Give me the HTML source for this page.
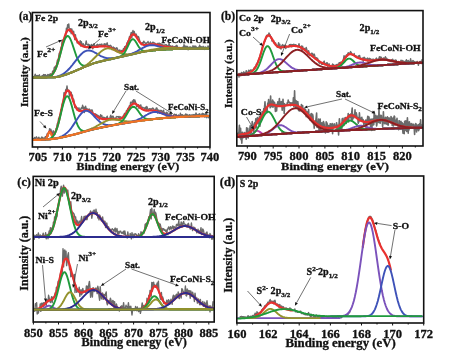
<!DOCTYPE html>
<html><head><meta charset="utf-8"><style>
html,body{margin:0;padding:0;background:#fff;width:451px;height:359px;overflow:hidden}
svg{display:block;filter:blur(0.4px)}
text{font-family:"Liberation Serif",serif;font-weight:bold;fill:#111;stroke:#111;stroke-width:0.3px}
</style></head><body>
<svg width="451" height="359" viewBox="0 0 451 359">
<rect width="451" height="359" fill="#fff"/>
<path d="M33.4,77.9 34,76.5 34.6,76.2 35.2,74.2 35.8,75.8 36.4,75.7 37,76 37.6,75.5 38.2,76 38.8,75.6 39.4,74.8 40,77 40.6,77 41.2,77.8 41.8,76.1 42.4,75.6 43,75.5 43.6,74.5 44.2,77 44.8,74.8 45.4,74.7 46,75.6 46.6,77.2 47.2,75.9 47.8,74.5 48.4,74.6 49,75.8 49.6,74.7 50.2,73.8 50.8,74 51.4,74.6 52,75.3 52.6,71.2 53.2,71.1 53.8,70 54.4,67.1 55,67.6 55.6,66.1 56.2,67.3 56.8,64 57.4,60.1 58,61.3 58.6,57.7 59.2,53.3 59.8,52.8 60.4,50.4 61,47.4 61.6,46.6 62.2,39.9 62.8,41.3 63.4,41.6 64,39.2 64.6,37.9 65.2,36.2 65.8,35.5 66.4,28.3 67,31.8 67.6,24.8 68.2,27.2 68.8,24 69.4,30.8 70,31.7 70.6,28.7 71.2,33.7 71.8,29 72.4,31.7 73,32.8 73.6,31.2 74.2,35.5 74.8,39.6 75.4,34.7 76,39.5 76.6,38.5 77.2,43 77.8,41.4 78.4,42.6 79,43.2 79.6,43.1 80.2,40.8 80.8,46 81.4,41.8 82,44.8 82.6,45.7 83.2,43.6 83.8,45.4 84.4,47.2 85,45.4 85.6,44.1 86.2,41 86.8,44.2 87.4,44.8 88,45 88.6,44.3 89.2,46.4 89.8,44.9 90.4,45.6 91,46.8 91.6,44.5 92.2,45.3 92.8,48.9 93.4,47 94,43.7 94.6,45.5 95.2,46.4 95.8,47.3 96.4,45.7 97,44.6 97.6,44.3 98.2,46.2 98.8,45.7 99.4,44.4 100,44.8 100.6,44.4 101.2,46 101.8,43.9 102.4,45.6 103,46.1 103.6,45.5 104.2,43.7 104.8,46.8 105.4,44 106,45.6 106.6,44.1 107.2,42.8 107.8,45.7 108.4,46 109,45.7 109.6,46.4 110.2,45.3 110.8,45.5 111.4,46.5 112,49.6 112.6,48.4 113.2,47 113.8,48.8 114.4,47.8 115,48.1 115.6,50.1 116.2,48.7 116.8,47.7 117.4,48.9 118,50.3 118.6,50.6 119.2,52.1 119.8,49.9 120.4,51.7 121,51.3 121.6,50.5 122.2,51.4 122.8,50.7 123.4,48.7 124,50.3 124.6,46.8 125.2,47.4 125.8,46.2 126.4,45.6 127,42.8 127.6,42.3 128.2,40.6 128.8,40.8 129.4,36.8 130,36.8 130.6,35.1 131.2,32.4 131.8,37.9 132.4,33 133,30.5 133.6,35.1 134.2,31.4 134.8,34.2 135.4,35.5 136,34 136.6,35.3 137.2,36.1 137.8,37.7 138.4,36.6 139,38.1 139.6,40.4 140.2,42.6 140.8,42.7 141.4,44.6 142,43.7 142.6,42.5 143.2,43.2 143.8,41.1 144.4,42.5 145,42.4 145.6,43.9 146.2,44.3 146.8,42.8 147.4,42.7 148,41.5 148.6,43.1 149.2,43.4 149.8,43.6 150.4,42 151,45.3 151.6,44.3 152.2,42.8 152.8,42.2 153.4,42.5 154,43.1 154.6,43 155.2,43.6 155.8,44 156.4,44.8 157,44.7 157.6,43.4 158.2,44.1 158.8,43.3 159.4,43.2 160,46.2 160.6,43.7 161.2,46.6 161.8,44.1 162.4,44.9 163,46 163.6,45 164.2,45.5 164.8,44.9 165.4,44.8 166,45.3 166.6,44.8 167.2,47.4 167.8,45.6 168.4,47.7 169,43.1 169.6,46 170.2,46.6 170.8,45.8 171.4,47.3 172,46.9 172.6,46 173.2,46.8 173.8,49.3 174.4,46.7 175,46.8 175.6,46.1 176.2,46.7 176.8,45.3 177.4,46.5 178,49.2 178.6,47.8 179.2,47.4 179.8,47.9 180.4,48.7 181,47.5 181.6,49 182.2,48 182.8,47.1 183.4,48.7 184,44.6 184.6,46.4 185.2,47.3 185.8,46.1 186.4,46.9 187,46.4 187.6,46.4 188.2,49.8 188.8,47.8 189.4,47.1 190,48.5 190.6,46.9 191.2,48 191.8,47.5 192.4,48.8 193,45.7 193.6,47.9 194.2,47.3 194.8,46 195.4,48.2 196,46.3 196.6,48.8 197.2,47.7 197.8,47.8 198.4,47.2 199,48.1 199.6,45.3 200.2,47.2 200.8,46.5 201.4,47.4 202,47.1 202.6,47.7 203.2,46.3 203.8,49 204.4,49.4 205,46.9 205.6,47.1 206.2,47.4 206.8,48.4 207.4,49 208,45.9 208.6,46.5" fill="none" stroke="#6a6a6a" stroke-width="1.4" stroke-linejoin="round" stroke-linecap="round"/>
<path d="M33.4,77.5 34.4,77.5 35.4,77.5 36.4,77.5 37.4,77.5 38.4,77.5 39.4,77.5 40.4,77.5 41.4,77.5 42.4,77.4 43.4,77.4 44.4,77.4 45.4,77.3 46.4,77.2 47.4,77 48.4,76.8 49.4,76.4 50.4,75.9 51.4,75.2 52.4,74.2 53.4,73 54.4,71.3 55.4,69.3 56.4,66.7 57.4,63.8 58.4,60.4 59.4,56.7 60.4,52.8 61.4,48.8 62.4,44.8 63.4,40.9 64.4,37.5 65.4,34.5 66.4,32.2 67.4,30.7 68.4,29.8 69.4,29.7 70.4,30.3 71.4,31.4 72.4,32.8 73.4,34.5 74.4,36.3 75.4,38.1 76.4,39.9 77.4,41.4 78.4,42.8 79.4,43.9 80.4,44.8 81.4,45.5 82.4,46 83.4,46.4 84.4,46.7 85.4,46.9 86.4,47.1 87.4,47.1 88.4,47.2 89.4,47.2 90.4,47.2 91.4,47.2 92.4,47.1 93.4,47.1 94.4,47 95.4,46.9 96.4,46.8 97.4,46.8 98.4,46.6 99.4,46.5 100.4,46.4 101.4,46.3 102.4,46.3 103.4,46.2 104.4,46.3 105.4,46.3 106.4,46.5 107.4,46.7 108.4,47 109.4,47.3 110.4,47.7 111.4,48.2 112.4,48.7 113.4,49.2 114.4,49.8 115.4,50.3 116.4,50.9 117.4,51.4 118.4,51.8 119.4,52.1 120.4,52.2 121.4,52.1 122.4,51.8 123.4,51.1 124.4,50 125.4,48.4 126.4,46.5 127.4,44.2 128.4,41.8 129.4,39.3 130.4,37.2 131.4,35.5 132.4,34.5 133.4,34.2 134.4,34.6 135.4,35.6 136.4,37 137.4,38.6 138.4,40.2 139.4,41.7 140.4,42.9 141.4,43.9 142.4,44.5 143.4,44.8 144.4,45 145.4,45 146.4,44.9 147.4,44.8 148.4,44.7 149.4,44.5 150.4,44.4 151.4,44.3 152.4,44.3 153.4,44.3 154.4,44.4 155.4,44.5 156.4,44.6 157.4,44.8 158.4,45.1 159.4,45.3 160.4,45.6 161.4,45.8 162.4,46.1 163.4,46.3 164.4,46.5 165.4,46.7 166.4,46.9 167.4,47.1 168.4,47.2 169.4,47.4 170.4,47.5 171.4,47.6 172.4,47.7 173.4,47.8 174.4,47.8 175.4,47.9 176.4,48 177.4,48.1 178.4,48.1 179.4,48.2 180.4,48.2 181.4,48.3 182.4,48.3 183.4,48.4 184.4,48.4 185.4,48.4 186.4,48.5 187.4,48.5 188.4,48.5 189.4,48.5 190.4,48.5 191.4,48.6 192.4,48.6 193.4,48.6 194.4,48.6 195.4,48.6 196.4,48.6 197.4,48.6 198.4,48.5 199.4,48.5 200.4,48.5 201.4,48.5 202.4,48.5 203.4,48.5 204.4,48.5 205.4,48.5 206.4,48.5 207.4,48.5 208.4,48.5" fill="none" stroke="#e8312f" stroke-width="2.2" stroke-linejoin="round" stroke-linecap="round"/>
<path d="M33.4,77.5 34.4,77.5 35.4,77.5 36.4,77.5 37.4,77.5 38.4,77.5 39.4,77.5 40.4,77.5 41.4,77.5 42.4,77.4 43.4,77.4 44.4,77.4 45.4,77.3 46.4,77.2 47.4,77 48.4,76.8 49.4,76.4 50.4,75.9 51.4,75.3 52.4,74.3 53.4,73.1 54.4,71.5 55.4,69.5 56.4,67.1 57.4,64.3 58.4,61.1 59.4,57.6 60.4,53.9 61.4,50.2 62.4,46.6 63.4,43.2 64.4,40.4 65.4,38.1 66.4,36.7 67.4,36 68.4,36.2 69.4,37.3 70.4,39.1 71.4,41.5 72.4,44.2 73.4,47.2 74.4,50.3 75.4,53.3 76.4,56.1 77.4,58.5 78.4,60.6 79.4,62.3 80.4,63.6 81.4,64.6 82.4,65.2 83.4,65.6 84.4,65.8 85.4,65.8 86.4,65.7 87.4,65.5 88.4,65.2 89.4,64.8 90.4,64.5 91.4,64.1 92.4,63.8 93.4,63.4 94.4,63.1 95.4,62.8 96.4,62.5 97.4,62.2 98.4,62 99.4,61.7 100.4,61.5 101.4,61.2 102.4,61 103.4,60.8 104.4,60.5 105.4,60.3 106.4,60.1 107.4,59.9 108.4,59.7 109.4,59.4 110.4,59.2 111.4,59 112.4,58.7 113.4,58.5 114.4,58.3 115.4,58.1 116.4,57.8 117.4,57.6 118.4,57.4 119.4,57.2 120.4,56.9 121.4,56.7 122.4,56.5 123.4,56.3 124.4,56 125.4,55.8 126.4,55.6 127.4,55.4 128.4,55.2 129.4,54.9 130.4,54.7 131.4,54.5 132.4,54.2 133.4,54 134.4,53.8 135.4,53.5 136.4,53.3 137.4,53 138.4,52.8 139.4,52.6 140.4,52.4 141.4,52.1 142.4,51.9 143.4,51.8 144.4,51.6 145.4,51.4 146.4,51.3 147.4,51.1 148.4,51 149.4,50.9 150.4,50.7 151.4,50.6 152.4,50.5 153.4,50.4 154.4,50.3 155.4,50.2 156.4,50.1 157.4,50 158.4,49.9 159.4,49.8 160.4,49.8 161.4,49.7 162.4,49.7 163.4,49.6 164.4,49.5 165.4,49.5 166.4,49.4 167.4,49.4 168.4,49.3 169.4,49.3 170.4,49.3 171.4,49.2 172.4,49.2 173.4,49.1 174.4,49.1 175.4,49.1 176.4,49 177.4,49 178.4,49 179.4,48.9 180.4,48.9 181.4,48.9 182.4,48.9 183.4,48.8 184.4,48.8 185.4,48.8 186.4,48.8 187.4,48.8 188.4,48.7 189.4,48.7 190.4,48.7 191.4,48.7 192.4,48.7 193.4,48.7 194.4,48.6 195.4,48.6 196.4,48.6 197.4,48.6 198.4,48.6 199.4,48.6 200.4,48.6 201.4,48.5 202.4,48.5 203.4,48.5 204.4,48.5 205.4,48.5 206.4,48.5 207.4,48.5 208.4,48.5" fill="none" stroke="#1f9a3c" stroke-width="1.9" stroke-linejoin="round" stroke-linecap="round"/>
<path d="M33.4,77.5 34.4,77.5 35.4,77.5 36.4,77.5 37.4,77.5 38.4,77.5 39.4,77.5 40.4,77.5 41.4,77.5 42.4,77.5 43.4,77.5 44.4,77.5 45.4,77.5 46.4,77.4 47.4,77.4 48.4,77.4 49.4,77.4 50.4,77.4 51.4,77.3 52.4,77.3 53.4,77.2 54.4,77.1 55.4,77 56.4,76.7 57.4,76.5 58.4,76.1 59.4,75.8 60.4,75.3 61.4,74.9 62.4,74.4 63.4,73.8 64.4,73.1 65.4,72.3 66.4,71.4 67.4,70.5 68.4,69.5 69.4,68.5 70.4,67.4 71.4,66.2 72.4,65 73.4,63.7 74.4,62.4 75.4,61.1 76.4,59.8 77.4,58.5 78.4,57.3 79.4,56.1 80.4,55 81.4,54 82.4,53.1 83.4,52.3 84.4,51.6 85.4,51.1 86.4,50.8 87.4,50.6 88.4,50.5 89.4,50.5 90.4,50.7 91.4,50.9 92.4,51.3 93.4,51.7 94.4,52.3 95.4,52.8 96.4,53.4 97.4,54.1 98.4,54.7 99.4,55.2 100.4,55.8 101.4,56.3 102.4,56.7 103.4,57.1 104.4,57.5 105.4,57.8 106.4,58 107.4,58.1 108.4,58.2 109.4,58.3 110.4,58.3 111.4,58.2 112.4,58.2 113.4,58.1 114.4,57.9 115.4,57.8 116.4,57.6 117.4,57.5 118.4,57.3 119.4,57.1 120.4,56.9 121.4,56.7 122.4,56.5 123.4,56.2 124.4,56 125.4,55.8 126.4,55.6 127.4,55.4 128.4,55.2 129.4,54.9 130.4,54.7 131.4,54.5 132.4,54.2 133.4,54 134.4,53.8 135.4,53.5 136.4,53.3 137.4,53 138.4,52.8 139.4,52.6 140.4,52.4 141.4,52.1 142.4,51.9 143.4,51.8 144.4,51.6 145.4,51.4 146.4,51.3 147.4,51.1 148.4,51 149.4,50.9 150.4,50.7 151.4,50.6 152.4,50.5 153.4,50.4 154.4,50.3 155.4,50.2 156.4,50.1 157.4,50 158.4,49.9 159.4,49.8 160.4,49.8 161.4,49.7 162.4,49.7 163.4,49.6 164.4,49.5 165.4,49.5 166.4,49.4 167.4,49.4 168.4,49.3 169.4,49.3 170.4,49.3 171.4,49.2 172.4,49.2 173.4,49.1 174.4,49.1 175.4,49.1 176.4,49 177.4,49 178.4,49 179.4,48.9 180.4,48.9 181.4,48.9 182.4,48.9 183.4,48.8 184.4,48.8 185.4,48.8 186.4,48.8 187.4,48.8 188.4,48.7 189.4,48.7 190.4,48.7 191.4,48.7 192.4,48.7 193.4,48.7 194.4,48.6 195.4,48.6 196.4,48.6 197.4,48.6 198.4,48.6 199.4,48.6 200.4,48.6 201.4,48.5 202.4,48.5 203.4,48.5 204.4,48.5 205.4,48.5 206.4,48.5 207.4,48.5 208.4,48.5" fill="none" stroke="#3e52b8" stroke-width="1.9" stroke-linejoin="round" stroke-linecap="round"/>
<path d="M33.4,77.5 34.4,77.5 35.4,77.5 36.4,77.5 37.4,77.5 38.4,77.5 39.4,77.5 40.4,77.5 41.4,77.5 42.4,77.5 43.4,77.5 44.4,77.5 45.4,77.5 46.4,77.5 47.4,77.4 48.4,77.4 49.4,77.4 50.4,77.4 51.4,77.4 52.4,77.4 53.4,77.4 54.4,77.3 55.4,77.2 56.4,77.1 57.4,76.9 58.4,76.7 59.4,76.5 60.4,76.2 61.4,76 62.4,75.7 63.4,75.4 64.4,75.1 65.4,74.8 66.4,74.4 67.4,74 68.4,73.6 69.4,73.2 70.4,72.9 71.4,72.5 72.4,72.1 73.4,71.7 74.4,71.2 75.4,70.8 76.4,70.4 77.4,69.9 78.4,69.5 79.4,69 80.4,68.5 81.4,68 82.4,67.4 83.4,66.9 84.4,66.3 85.4,65.7 86.4,65 87.4,64.3 88.4,63.5 89.4,62.7 90.4,61.8 91.4,60.9 92.4,60 93.4,59 94.4,58 95.4,57 96.4,56 97.4,54.9 98.4,54 99.4,53 100.4,52.1 101.4,51.3 102.4,50.5 103.4,49.9 104.4,49.3 105.4,48.9 106.4,48.6 107.4,48.4 108.4,48.4 109.4,48.5 110.4,48.6 111.4,48.9 112.4,49.3 113.4,49.7 114.4,50.1 115.4,50.6 116.4,51.2 117.4,51.7 118.4,52.1 119.4,52.6 120.4,53 121.4,53.4 122.4,53.7 123.4,53.9 124.4,54.1 125.4,54.2 126.4,54.3 127.4,54.4 128.4,54.3 129.4,54.3 130.4,54.2 131.4,54.1 132.4,54 133.4,53.8 134.4,53.6 135.4,53.4 136.4,53.2 137.4,53 138.4,52.8 139.4,52.5 140.4,52.3 141.4,52.1 142.4,51.9 143.4,51.8 144.4,51.6 145.4,51.4 146.4,51.3 147.4,51.1 148.4,51 149.4,50.9 150.4,50.7 151.4,50.6 152.4,50.5 153.4,50.4 154.4,50.3 155.4,50.2 156.4,50.1 157.4,50 158.4,49.9 159.4,49.8 160.4,49.8 161.4,49.7 162.4,49.7 163.4,49.6 164.4,49.5 165.4,49.5 166.4,49.4 167.4,49.4 168.4,49.3 169.4,49.3 170.4,49.3 171.4,49.2 172.4,49.2 173.4,49.1 174.4,49.1 175.4,49.1 176.4,49 177.4,49 178.4,49 179.4,48.9 180.4,48.9 181.4,48.9 182.4,48.9 183.4,48.8 184.4,48.8 185.4,48.8 186.4,48.8 187.4,48.8 188.4,48.7 189.4,48.7 190.4,48.7 191.4,48.7 192.4,48.7 193.4,48.7 194.4,48.6 195.4,48.6 196.4,48.6 197.4,48.6 198.4,48.6 199.4,48.6 200.4,48.6 201.4,48.5 202.4,48.5 203.4,48.5 204.4,48.5 205.4,48.5 206.4,48.5 207.4,48.5 208.4,48.5" fill="none" stroke="#94922c" stroke-width="1.9" stroke-linejoin="round" stroke-linecap="round"/>
<path d="M33.4,77.5 34.4,77.5 35.4,77.5 36.4,77.5 37.4,77.5 38.4,77.5 39.4,77.5 40.4,77.5 41.4,77.5 42.4,77.5 43.4,77.5 44.4,77.5 45.4,77.5 46.4,77.5 47.4,77.4 48.4,77.4 49.4,77.4 50.4,77.4 51.4,77.4 52.4,77.4 53.4,77.4 54.4,77.3 55.4,77.2 56.4,77.1 57.4,76.9 58.4,76.7 59.4,76.5 60.4,76.2 61.4,76 62.4,75.7 63.4,75.4 64.4,75.1 65.4,74.8 66.4,74.4 67.4,74 68.4,73.6 69.4,73.3 70.4,72.9 71.4,72.5 72.4,72.1 73.4,71.7 74.4,71.3 75.4,70.9 76.4,70.4 77.4,70 78.4,69.6 79.4,69.2 80.4,68.8 81.4,68.3 82.4,67.9 83.4,67.5 84.4,67 85.4,66.6 86.4,66.2 87.4,65.8 88.4,65.4 89.4,65 90.4,64.6 91.4,64.2 92.4,63.8 93.4,63.4 94.4,63.1 95.4,62.8 96.4,62.5 97.4,62.2 98.4,62 99.4,61.7 100.4,61.5 101.4,61.2 102.4,61 103.4,60.8 104.4,60.5 105.4,60.3 106.4,60.1 107.4,59.9 108.4,59.7 109.4,59.4 110.4,59.2 111.4,59 112.4,58.7 113.4,58.5 114.4,58.3 115.4,58 116.4,57.8 117.4,57.5 118.4,57.2 119.4,56.9 120.4,56.5 121.4,55.9 122.4,55.1 123.4,54.1 124.4,52.9 125.4,51.3 126.4,49.4 127.4,47.3 128.4,45.1 129.4,43 130.4,41.2 131.4,39.9 132.4,39.2 133.4,39.3 134.4,40 135.4,41.2 136.4,42.8 137.4,44.5 138.4,46.2 139.4,47.7 140.4,48.9 141.4,49.8 142.4,50.5 143.4,50.9 144.4,51.1 145.4,51.1 146.4,51.1 147.4,51.1 148.4,51 149.4,50.9 150.4,50.7 151.4,50.6 152.4,50.5 153.4,50.4 154.4,50.3 155.4,50.2 156.4,50.1 157.4,50 158.4,49.9 159.4,49.8 160.4,49.8 161.4,49.7 162.4,49.7 163.4,49.6 164.4,49.5 165.4,49.5 166.4,49.4 167.4,49.4 168.4,49.3 169.4,49.3 170.4,49.3 171.4,49.2 172.4,49.2 173.4,49.1 174.4,49.1 175.4,49.1 176.4,49 177.4,49 178.4,49 179.4,48.9 180.4,48.9 181.4,48.9 182.4,48.9 183.4,48.8 184.4,48.8 185.4,48.8 186.4,48.8 187.4,48.8 188.4,48.7 189.4,48.7 190.4,48.7 191.4,48.7 192.4,48.7 193.4,48.7 194.4,48.6 195.4,48.6 196.4,48.6 197.4,48.6 198.4,48.6 199.4,48.6 200.4,48.6 201.4,48.5 202.4,48.5 203.4,48.5 204.4,48.5 205.4,48.5 206.4,48.5 207.4,48.5 208.4,48.5" fill="none" stroke="#1f9a3c" stroke-width="1.9" stroke-linejoin="round" stroke-linecap="round"/>
<path d="M33.4,77.5 34.4,77.5 35.4,77.5 36.4,77.5 37.4,77.5 38.4,77.5 39.4,77.5 40.4,77.5 41.4,77.5 42.4,77.5 43.4,77.5 44.4,77.5 45.4,77.5 46.4,77.5 47.4,77.4 48.4,77.4 49.4,77.4 50.4,77.4 51.4,77.4 52.4,77.4 53.4,77.4 54.4,77.3 55.4,77.2 56.4,77.1 57.4,76.9 58.4,76.7 59.4,76.5 60.4,76.2 61.4,76 62.4,75.7 63.4,75.4 64.4,75.1 65.4,74.8 66.4,74.4 67.4,74 68.4,73.6 69.4,73.3 70.4,72.9 71.4,72.5 72.4,72.1 73.4,71.7 74.4,71.3 75.4,70.9 76.4,70.4 77.4,70 78.4,69.6 79.4,69.2 80.4,68.8 81.4,68.3 82.4,67.9 83.4,67.5 84.4,67 85.4,66.6 86.4,66.2 87.4,65.8 88.4,65.4 89.4,65 90.4,64.6 91.4,64.2 92.4,63.8 93.4,63.4 94.4,63.1 95.4,62.8 96.4,62.5 97.4,62.2 98.4,62 99.4,61.7 100.4,61.5 101.4,61.2 102.4,61 103.4,60.8 104.4,60.5 105.4,60.3 106.4,60.1 107.4,59.9 108.4,59.7 109.4,59.4 110.4,59.2 111.4,59 112.4,58.7 113.4,58.5 114.4,58.3 115.4,58.1 116.4,57.8 117.4,57.6 118.4,57.4 119.4,57.1 120.4,56.9 121.4,56.7 122.4,56.4 123.4,56.2 124.4,55.9 125.4,55.7 126.4,55.4 127.4,55.1 128.4,54.8 129.4,54.5 130.4,54.2 131.4,53.8 132.4,53.4 133.4,53 134.4,52.5 135.4,52 136.4,51.5 137.4,51 138.4,50.4 139.4,49.8 140.4,49.2 141.4,48.7 142.4,48.1 143.4,47.6 144.4,47.1 145.4,46.6 146.4,46.2 147.4,45.9 148.4,45.6 149.4,45.4 150.4,45.2 151.4,45.2 152.4,45.2 153.4,45.3 154.4,45.4 155.4,45.6 156.4,45.8 157.4,46.1 158.4,46.4 159.4,46.7 160.4,47 161.4,47.2 162.4,47.5 163.4,47.8 164.4,48 165.4,48.2 166.4,48.4 167.4,48.5 168.4,48.7 169.4,48.8 170.4,48.8 171.4,48.9 172.4,48.9 173.4,48.9 174.4,49 175.4,49 176.4,48.9 177.4,48.9 178.4,48.9 179.4,48.9 180.4,48.9 181.4,48.9 182.4,48.8 183.4,48.8 184.4,48.8 185.4,48.8 186.4,48.8 187.4,48.8 188.4,48.7 189.4,48.7 190.4,48.7 191.4,48.7 192.4,48.7 193.4,48.7 194.4,48.6 195.4,48.6 196.4,48.6 197.4,48.6 198.4,48.6 199.4,48.6 200.4,48.6 201.4,48.5 202.4,48.5 203.4,48.5 204.4,48.5 205.4,48.5 206.4,48.5 207.4,48.5 208.4,48.5" fill="none" stroke="#3e52b8" stroke-width="1.9" stroke-linejoin="round" stroke-linecap="round"/>
<path d="M33.4,77.5 34.4,77.5 35.4,77.5 36.4,77.5 37.4,77.5 38.4,77.5 39.4,77.5 40.4,77.5 41.4,77.5 42.4,77.5 43.4,77.5 44.4,77.5 45.4,77.5 46.4,77.5 47.4,77.4 48.4,77.4 49.4,77.4 50.4,77.4 51.4,77.4 52.4,77.4 53.4,77.4 54.4,77.3 55.4,77.2 56.4,77.1 57.4,76.9 58.4,76.7 59.4,76.5 60.4,76.2 61.4,76 62.4,75.7 63.4,75.4 64.4,75.1 65.4,74.8 66.4,74.4 67.4,74 68.4,73.6 69.4,73.3 70.4,72.9 71.4,72.5 72.4,72.1 73.4,71.7 74.4,71.3 75.4,70.9 76.4,70.4 77.4,70 78.4,69.6 79.4,69.2 80.4,68.8 81.4,68.3 82.4,67.9 83.4,67.5 84.4,67 85.4,66.6 86.4,66.2 87.4,65.8 88.4,65.4 89.4,65 90.4,64.6 91.4,64.2 92.4,63.8 93.4,63.4 94.4,63.1 95.4,62.8 96.4,62.5 97.4,62.2 98.4,62 99.4,61.7 100.4,61.5 101.4,61.2 102.4,61 103.4,60.8 104.4,60.5 105.4,60.3 106.4,60.1 107.4,59.9 108.4,59.7 109.4,59.4 110.4,59.2 111.4,59 112.4,58.7 113.4,58.5 114.4,58.3 115.4,58.1 116.4,57.8 117.4,57.6 118.4,57.4 119.4,57.2 120.4,56.9 121.4,56.7 122.4,56.5 123.4,56.3 124.4,56 125.4,55.8 126.4,55.6 127.4,55.4 128.4,55.1 129.4,54.9 130.4,54.7 131.4,54.5 132.4,54.2 133.4,54 134.4,53.7 135.4,53.4 136.4,53.2 137.4,52.9 138.4,52.7 139.4,52.4 140.4,52.2 141.4,51.9 142.4,51.7 143.4,51.5 144.4,51.2 145.4,51 146.4,50.8 147.4,50.6 148.4,50.4 149.4,50.2 150.4,50 151.4,49.8 152.4,49.6 153.4,49.4 154.4,49.3 155.4,49.1 156.4,48.9 157.4,48.8 158.4,48.6 159.4,48.5 160.4,48.4 161.4,48.3 162.4,48.2 163.4,48.1 164.4,48 165.4,48 166.4,48 167.4,47.9 168.4,47.9 169.4,47.9 170.4,47.9 171.4,47.9 172.4,47.9 173.4,48 174.4,48 175.4,48 176.4,48.1 177.4,48.1 178.4,48.2 179.4,48.2 180.4,48.2 181.4,48.3 182.4,48.3 183.4,48.4 184.4,48.4 185.4,48.4 186.4,48.5 187.4,48.5 188.4,48.5 189.4,48.5 190.4,48.5 191.4,48.6 192.4,48.6 193.4,48.6 194.4,48.6 195.4,48.6 196.4,48.6 197.4,48.6 198.4,48.5 199.4,48.5 200.4,48.5 201.4,48.5 202.4,48.5 203.4,48.5 204.4,48.5 205.4,48.5 206.4,48.5 207.4,48.5 208.4,48.5" fill="none" stroke="#94922c" stroke-width="1.9" stroke-linejoin="round" stroke-linecap="round"/>
<path d="M33.4,77.5 34.4,77.5 35.4,77.5 36.4,77.5 37.4,77.5 38.4,77.5 39.4,77.5 40.4,77.5 41.4,77.5 42.4,77.5 43.4,77.5 44.4,77.5 45.4,77.5 46.4,77.5 47.4,77.4 48.4,77.4 49.4,77.4 50.4,77.4 51.4,77.4 52.4,77.4 53.4,77.4 54.4,77.3 55.4,77.2 56.4,77.1 57.4,76.9 58.4,76.7 59.4,76.5 60.4,76.2 61.4,76 62.4,75.7 63.4,75.4 64.4,75.1 65.4,74.8 66.4,74.4 67.4,74 68.4,73.6 69.4,73.3 70.4,72.9 71.4,72.5 72.4,72.1 73.4,71.7 74.4,71.3 75.4,70.9 76.4,70.4 77.4,70 78.4,69.6 79.4,69.2 80.4,68.8 81.4,68.3 82.4,67.9 83.4,67.5 84.4,67 85.4,66.6 86.4,66.2 87.4,65.8 88.4,65.4 89.4,65 90.4,64.6 91.4,64.2 92.4,63.8 93.4,63.4 94.4,63.1 95.4,62.8 96.4,62.5 97.4,62.2 98.4,62 99.4,61.7 100.4,61.5 101.4,61.2 102.4,61 103.4,60.8 104.4,60.5 105.4,60.3 106.4,60.1 107.4,59.9 108.4,59.7 109.4,59.4 110.4,59.2 111.4,59 112.4,58.7 113.4,58.5 114.4,58.3 115.4,58.1 116.4,57.8 117.4,57.6 118.4,57.4 119.4,57.2 120.4,56.9 121.4,56.7 122.4,56.5 123.4,56.3 124.4,56 125.4,55.8 126.4,55.6 127.4,55.4 128.4,55.2 129.4,54.9 130.4,54.7 131.4,54.5 132.4,54.2 133.4,54 134.4,53.8 135.4,53.5 136.4,53.3 137.4,53 138.4,52.8 139.4,52.6 140.4,52.4 141.4,52.1 142.4,51.9 143.4,51.8 144.4,51.6 145.4,51.4 146.4,51.3 147.4,51.1 148.4,51 149.4,50.9 150.4,50.7 151.4,50.6 152.4,50.5 153.4,50.4 154.4,50.3 155.4,50.2 156.4,50.1 157.4,50 158.4,49.9 159.4,49.8 160.4,49.8 161.4,49.7 162.4,49.7 163.4,49.6 164.4,49.5 165.4,49.5 166.4,49.4 167.4,49.4 168.4,49.3 169.4,49.3 170.4,49.3 171.4,49.2 172.4,49.2 173.4,49.1 174.4,49.1 175.4,49.1 176.4,49 177.4,49 178.4,49 179.4,48.9 180.4,48.9 181.4,48.9 182.4,48.9 183.4,48.8 184.4,48.8 185.4,48.8 186.4,48.8 187.4,48.8 188.4,48.7 189.4,48.7 190.4,48.7 191.4,48.7 192.4,48.7 193.4,48.7 194.4,48.6 195.4,48.6 196.4,48.6 197.4,48.6 198.4,48.6 199.4,48.6 200.4,48.6 201.4,48.5 202.4,48.5 203.4,48.5 204.4,48.5 205.4,48.5 206.4,48.5 207.4,48.5 208.4,48.5" fill="none" stroke="#8d8b34" stroke-width="1.9" stroke-linejoin="round" stroke-linecap="round"/>
<path d="M33.4,138.6 34,139.1 34.6,137.5 35.2,139.3 35.8,138.1 36.4,136.8 37,137.8 37.6,139.2 38.2,138.8 38.8,137.2 39.4,139.1 40,138.3 40.6,138.8 41.2,138.7 41.8,137 42.4,138.7 43,137.6 43.6,139.9 44.2,138.9 44.8,138 45.4,136.6 46,137.2 46.6,136.5 47.2,133.6 47.8,136.3 48.4,132.5 49,133.1 49.6,128.7 50.2,132.5 50.8,129.3 51.4,131.3 52,133.7 52.6,133.6 53.2,130.8 53.8,131.9 54.4,133.6 55,134.1 55.6,131.4 56.2,128.3 56.8,128.1 57.4,123.4 58,123.7 58.6,118.5 59.2,118.2 59.8,115.3 60.4,114.3 61,109.5 61.6,109.6 62.2,104 62.8,103.5 63.4,100.8 64,92.6 64.6,94.7 65.2,92.9 65.8,89.5 66.4,90.5 67,85.9 67.6,90.5 68.2,90.4 68.8,90.3 69.4,96.2 70,92.1 70.6,92.7 71.2,92.3 71.8,96.2 72.4,95.1 73,101.6 73.6,99.2 74.2,102.4 74.8,107.5 75.4,107.2 76,106.5 76.6,109.7 77.2,107.8 77.8,110 78.4,109.1 79,107.8 79.6,110.4 80.2,111.3 80.8,109.1 81.4,107.7 82,108.6 82.6,105.2 83.2,108.2 83.8,107.2 84.4,112.5 85,107.9 85.6,106.1 86.2,110.3 86.8,108.5 87.4,109 88,109.4 88.6,109.7 89.2,109 89.8,111.5 90.4,111.1 91,109.8 91.6,110.8 92.2,110 92.8,112.5 93.4,113.6 94,114 94.6,114.4 95.2,113.7 95.8,116.7 96.4,114.5 97,115.3 97.6,115.2 98.2,116.1 98.8,116 99.4,119.5 100,117.5 100.6,114.8 101.2,116.7 101.8,115.5 102.4,118.8 103,119.5 103.6,117.1 104.2,118.6 104.8,117.5 105.4,118.4 106,120.1 106.6,117.4 107.2,116.2 107.8,118.7 108.4,118.4 109,118.6 109.6,119.1 110.2,116.8 110.8,115.2 111.4,119.1 112,117.2 112.6,116.2 113.2,116.3 113.8,119.2 114.4,118.1 115,118.2 115.6,119 116.2,117.1 116.8,116.5 117.4,116.9 118,116.5 118.6,117.5 119.2,116.6 119.8,117.7 120.4,116.8 121,117.1 121.6,117.7 122.2,118.2 122.8,117.9 123.4,115.6 124,115 124.6,113.3 125.2,114.6 125.8,114.4 126.4,110.6 127,111.5 127.6,108.9 128.2,108.1 128.8,107.6 129.4,105.8 130,106.9 130.6,102.3 131.2,102.8 131.8,103.1 132.4,101 133,103 133.6,99.7 134.2,102.2 134.8,99.9 135.4,102.1 136,103.5 136.6,106.6 137.2,105.2 137.8,106.6 138.4,104.7 139,108.4 139.6,105.4 140.2,105.9 140.8,104.9 141.4,107.6 142,109.2 142.6,107.1 143.2,107.8 143.8,107.9 144.4,108.3 145,108.1 145.6,107.2 146.2,111 146.8,106.4 147.4,107.9 148,109.6 148.6,110.5 149.2,108.9 149.8,108.7 150.4,109.2 151,108.8 151.6,110.3 152.2,108.5 152.8,107.9 153.4,108.6 154,109.5 154.6,111.1 155.2,111.7 155.8,109.2 156.4,107.9 157,108.2 157.6,113 158.2,109.9 158.8,111.2 159.4,113.3 160,110.2 160.6,111.1 161.2,110.8 161.8,110.5 162.4,113.1 163,113.6 163.6,110.3 164.2,114 164.8,112.8 165.4,113.5 166,113.7 166.6,112.2 167.2,113.5 167.8,112.9 168.4,116.5 169,116.9 169.6,114.7 170.2,113.4 170.8,116.1 171.4,114.7 172,117 172.6,117.3 173.2,117.1 173.8,114.8 174.4,114.2 175,114.6 175.6,115.3 176.2,114.4 176.8,116.7 177.4,116.2 178,115.4 178.6,115 179.2,116.2 179.8,117 180.4,113.3 181,115.7 181.6,115.1 182.2,114.6 182.8,115 183.4,115.5 184,117.4 184.6,115.4 185.2,114.8 185.8,113.9 186.4,116.1 187,114.4 187.6,115.1 188.2,115.9 188.8,115.2 189.4,114.7 190,114.9 190.6,116 191.2,115 191.8,115.3 192.4,115.4 193,114.6 193.6,115.3 194.2,114.6 194.8,116.1 195.4,115.4 196,112.9 196.6,114.6 197.2,116 197.8,114.6 198.4,114.3 199,115.9 199.6,113.6 200.2,114.8 200.8,115.4 201.4,115.6 202,113.6 202.6,113.3 203.2,116.3 203.8,113.8 204.4,114.5 205,117.3 205.6,114.1 206.2,112.2 206.8,117.7 207.4,115.7 208,115 208.6,117.7" fill="none" stroke="#6a6a6a" stroke-width="1.4" stroke-linejoin="round" stroke-linecap="round"/>
<path d="M33.4,140 34.4,140 35.4,140 36.4,139.9 37.4,139.9 38.4,139.9 39.4,139.8 40.4,139.8 41.4,139.7 42.4,139.7 43.4,139.6 44.4,139.5 45.4,139.1 46.4,138.1 47.4,136.1 48.4,133.4 49.4,131.5 50.4,131.8 51.4,133.6 52.4,135 53.4,135.1 54.4,134 55.4,132.1 56.4,129.6 57.4,126.5 58.4,122.9 59.4,118.7 60.4,114.3 61.4,109.6 62.4,104.9 63.4,100.5 64.4,96.7 65.4,93.6 66.4,91.5 67.4,90.5 68.4,90.5 69.4,91.6 70.4,93.4 71.4,95.8 72.4,98.6 73.4,101.4 74.4,104.1 75.4,106.4 76.4,108.2 77.4,109.6 78.4,110.5 79.4,111 80.4,111.1 81.4,111 82.4,110.8 83.4,110.6 84.4,110.3 85.4,110.2 86.4,110.2 87.4,110.3 88.4,110.6 89.4,111.1 90.4,111.6 91.4,112.3 92.4,113.1 93.4,113.9 94.4,114.7 95.4,115.5 96.4,116.2 97.4,116.9 98.4,117.5 99.4,118 100.4,118.4 101.4,118.7 102.4,119 103.4,119.1 104.4,119.2 105.4,119.2 106.4,119.2 107.4,119.2 108.4,119.2 109.4,119.1 110.4,119.1 111.4,119.1 112.4,119.1 113.4,119.2 114.4,119.2 115.4,119.3 116.4,119.3 117.4,119.3 118.4,119.3 119.4,119.1 120.4,118.8 121.4,118.4 122.4,117.7 123.4,116.8 124.4,115.7 125.4,114.3 126.4,112.8 127.4,111.1 128.4,109.4 129.4,107.8 130.4,106.3 131.4,105.1 132.4,104.2 133.4,103.6 134.4,103.5 135.4,103.8 136.4,104.3 137.4,105.1 138.4,106 139.4,106.9 140.4,107.9 141.4,108.7 142.4,109.3 143.4,109.8 144.4,110.2 145.4,110.4 146.4,110.5 147.4,110.6 148.4,110.6 149.4,110.5 150.4,110.5 151.4,110.5 152.4,110.6 153.4,110.7 154.4,110.8 155.4,111 156.4,111.2 157.4,111.5 158.4,111.9 159.4,112.2 160.4,112.6 161.4,113.1 162.4,113.5 163.4,113.9 164.4,114.3 165.4,114.7 166.4,115.1 167.4,115.4 168.4,115.7 169.4,115.9 170.4,116.1 171.4,116.3 172.4,116.5 173.4,116.6 174.4,116.7 175.4,116.8 176.4,116.8 177.4,116.8 178.4,116.8 179.4,116.8 180.4,116.8 181.4,116.8 182.4,116.8 183.4,116.7 184.4,116.7 185.4,116.7 186.4,116.6 187.4,116.6 188.4,116.5 189.4,116.5 190.4,116.5 191.4,116.4 192.4,116.4 193.4,116.3 194.4,116.3 195.4,116.3 196.4,116.2 197.4,116.2 198.4,116.2 199.4,116.2 200.4,116.1 201.4,116.1 202.4,116.1 203.4,116.1 204.4,116 205.4,116 206.4,116 207.4,116 208.4,116" fill="none" stroke="#e8312f" stroke-width="2.2" stroke-linejoin="round" stroke-linecap="round"/>
<path d="M33.4,140 34.4,140 35.4,140 36.4,139.9 37.4,139.9 38.4,139.9 39.4,139.8 40.4,139.8 41.4,139.7 42.4,139.7 43.4,139.6 44.4,139.5 45.4,139.2 46.4,138.2 47.4,136.3 48.4,133.7 49.4,132.1 50.4,132.7 51.4,135 52.4,137.1 53.4,138.3 54.4,138.6 55.4,138.6 56.4,138.4 57.4,138.2 58.4,138 59.4,137.9 60.4,137.6 61.4,137.4 62.4,137.2 63.4,137 64.4,136.8 65.4,136.5 66.4,136.3 67.4,136.1 68.4,135.8 69.4,135.6 70.4,135.4 71.4,135.1 72.4,134.9 73.4,134.7 74.4,134.4 75.4,134.2 76.4,133.9 77.4,133.6 78.4,133.4 79.4,133.1 80.4,132.8 81.4,132.5 82.4,132.2 83.4,131.9 84.4,131.6 85.4,131.3 86.4,131.1 87.4,130.8 88.4,130.5 89.4,130.2 90.4,130 91.4,129.7 92.4,129.5 93.4,129.3 94.4,129 95.4,128.8 96.4,128.6 97.4,128.4 98.4,128.2 99.4,127.9 100.4,127.7 101.4,127.5 102.4,127.3 103.4,127.1 104.4,126.9 105.4,126.7 106.4,126.5 107.4,126.3 108.4,126.1 109.4,125.9 110.4,125.7 111.4,125.5 112.4,125.3 113.4,125.1 114.4,124.9 115.4,124.8 116.4,124.6 117.4,124.4 118.4,124.2 119.4,124 120.4,123.9 121.4,123.7 122.4,123.5 123.4,123.4 124.4,123.2 125.4,123 126.4,122.9 127.4,122.7 128.4,122.5 129.4,122.4 130.4,122.2 131.4,122.1 132.4,121.9 133.4,121.7 134.4,121.6 135.4,121.4 136.4,121.3 137.4,121.1 138.4,121 139.4,120.9 140.4,120.7 141.4,120.6 142.4,120.4 143.4,120.3 144.4,120.2 145.4,120.1 146.4,119.9 147.4,119.8 148.4,119.7 149.4,119.6 150.4,119.5 151.4,119.3 152.4,119.2 153.4,119.1 154.4,119 155.4,118.9 156.4,118.8 157.4,118.7 158.4,118.6 159.4,118.5 160.4,118.4 161.4,118.3 162.4,118.2 163.4,118.1 164.4,118 165.4,117.9 166.4,117.8 167.4,117.7 168.4,117.6 169.4,117.6 170.4,117.5 171.4,117.4 172.4,117.3 173.4,117.3 174.4,117.2 175.4,117.2 176.4,117.1 177.4,117.1 178.4,117 179.4,117 180.4,116.9 181.4,116.9 182.4,116.8 183.4,116.8 184.4,116.7 185.4,116.7 186.4,116.6 187.4,116.6 188.4,116.5 189.4,116.5 190.4,116.5 191.4,116.4 192.4,116.4 193.4,116.3 194.4,116.3 195.4,116.3 196.4,116.2 197.4,116.2 198.4,116.2 199.4,116.2 200.4,116.1 201.4,116.1 202.4,116.1 203.4,116.1 204.4,116 205.4,116 206.4,116 207.4,116 208.4,116" fill="none" stroke="#f07224" stroke-width="1.9" stroke-linejoin="round" stroke-linecap="round"/>
<path d="M33.4,140 34.4,140 35.4,140 36.4,139.9 37.4,139.9 38.4,139.9 39.4,139.8 40.4,139.8 41.4,139.7 42.4,139.7 43.4,139.6 44.4,139.5 45.4,139.4 46.4,139.3 47.4,139.2 48.4,139 49.4,138.7 50.4,138.3 51.4,137.7 52.4,136.9 53.4,135.8 54.4,134.3 55.4,132.4 56.4,130 57.4,127.1 58.4,123.7 59.4,119.9 60.4,115.8 61.4,111.6 62.4,107.4 63.4,103.6 64.4,100.4 65.4,97.9 66.4,96.5 67.4,96.2 68.4,96.9 69.4,98.7 70.4,101.3 71.4,104.6 72.4,108.2 73.4,112 74.4,115.7 75.4,119.2 76.4,122.2 77.4,124.7 78.4,126.8 79.4,128.3 80.4,129.5 81.4,130.2 82.4,130.7 83.4,131 84.4,131 85.4,131 86.4,130.8 87.4,130.7 88.4,130.4 89.4,130.2 90.4,130 91.4,129.7 92.4,129.5 93.4,129.3 94.4,129 95.4,128.8 96.4,128.6 97.4,128.4 98.4,128.2 99.4,127.9 100.4,127.7 101.4,127.5 102.4,127.3 103.4,127.1 104.4,126.9 105.4,126.7 106.4,126.5 107.4,126.3 108.4,126.1 109.4,125.9 110.4,125.7 111.4,125.5 112.4,125.3 113.4,125.1 114.4,124.9 115.4,124.8 116.4,124.6 117.4,124.4 118.4,124.2 119.4,124 120.4,123.9 121.4,123.7 122.4,123.5 123.4,123.4 124.4,123.2 125.4,123 126.4,122.9 127.4,122.7 128.4,122.5 129.4,122.4 130.4,122.2 131.4,122.1 132.4,121.9 133.4,121.7 134.4,121.6 135.4,121.4 136.4,121.3 137.4,121.1 138.4,121 139.4,120.9 140.4,120.7 141.4,120.6 142.4,120.4 143.4,120.3 144.4,120.2 145.4,120.1 146.4,119.9 147.4,119.8 148.4,119.7 149.4,119.6 150.4,119.5 151.4,119.3 152.4,119.2 153.4,119.1 154.4,119 155.4,118.9 156.4,118.8 157.4,118.7 158.4,118.6 159.4,118.5 160.4,118.4 161.4,118.3 162.4,118.2 163.4,118.1 164.4,118 165.4,117.9 166.4,117.8 167.4,117.7 168.4,117.6 169.4,117.6 170.4,117.5 171.4,117.4 172.4,117.3 173.4,117.3 174.4,117.2 175.4,117.2 176.4,117.1 177.4,117.1 178.4,117 179.4,117 180.4,116.9 181.4,116.9 182.4,116.8 183.4,116.8 184.4,116.7 185.4,116.7 186.4,116.6 187.4,116.6 188.4,116.5 189.4,116.5 190.4,116.5 191.4,116.4 192.4,116.4 193.4,116.3 194.4,116.3 195.4,116.3 196.4,116.2 197.4,116.2 198.4,116.2 199.4,116.2 200.4,116.1 201.4,116.1 202.4,116.1 203.4,116.1 204.4,116 205.4,116 206.4,116 207.4,116 208.4,116" fill="none" stroke="#1f9a3c" stroke-width="1.9" stroke-linejoin="round" stroke-linecap="round"/>
<path d="M33.4,140 34.4,140 35.4,140 36.4,139.9 37.4,139.9 38.4,139.9 39.4,139.8 40.4,139.8 41.4,139.7 42.4,139.7 43.4,139.6 44.4,139.6 45.4,139.5 46.4,139.4 47.4,139.4 48.4,139.3 49.4,139.2 50.4,139.1 51.4,139 52.4,138.9 53.4,138.8 54.4,138.6 55.4,138.4 56.4,138.2 57.4,137.9 58.4,137.6 59.4,137.3 60.4,136.9 61.4,136.5 62.4,136 63.4,135.4 64.4,134.8 65.4,134.1 66.4,133.3 67.4,132.4 68.4,131.4 69.4,130.3 70.4,129.1 71.4,127.8 72.4,126.4 73.4,124.9 74.4,123.4 75.4,121.9 76.4,120.3 77.4,118.7 78.4,117.3 79.4,115.8 80.4,114.6 81.4,113.4 82.4,112.5 83.4,111.7 84.4,111.2 85.4,110.9 86.4,110.8 87.4,110.9 88.4,111.3 89.4,111.8 90.4,112.5 91.4,113.4 92.4,114.4 93.4,115.4 94.4,116.5 95.4,117.6 96.4,118.6 97.4,119.6 98.4,120.6 99.4,121.4 100.4,122.2 101.4,122.9 102.4,123.5 103.4,124 104.4,124.3 105.4,124.6 106.4,124.9 107.4,125 108.4,125.1 109.4,125.1 110.4,125.1 111.4,125.1 112.4,125 113.4,124.9 114.4,124.8 115.4,124.6 116.4,124.5 117.4,124.3 118.4,124.2 119.4,124 120.4,123.9 121.4,123.7 122.4,123.5 123.4,123.4 124.4,123.2 125.4,123 126.4,122.9 127.4,122.7 128.4,122.5 129.4,122.4 130.4,122.2 131.4,122.1 132.4,121.9 133.4,121.7 134.4,121.6 135.4,121.4 136.4,121.3 137.4,121.1 138.4,121 139.4,120.9 140.4,120.7 141.4,120.6 142.4,120.4 143.4,120.3 144.4,120.2 145.4,120.1 146.4,119.9 147.4,119.8 148.4,119.7 149.4,119.6 150.4,119.5 151.4,119.3 152.4,119.2 153.4,119.1 154.4,119 155.4,118.9 156.4,118.8 157.4,118.7 158.4,118.6 159.4,118.5 160.4,118.4 161.4,118.3 162.4,118.2 163.4,118.1 164.4,118 165.4,117.9 166.4,117.8 167.4,117.7 168.4,117.6 169.4,117.6 170.4,117.5 171.4,117.4 172.4,117.3 173.4,117.3 174.4,117.2 175.4,117.2 176.4,117.1 177.4,117.1 178.4,117 179.4,117 180.4,116.9 181.4,116.9 182.4,116.8 183.4,116.8 184.4,116.7 185.4,116.7 186.4,116.6 187.4,116.6 188.4,116.5 189.4,116.5 190.4,116.5 191.4,116.4 192.4,116.4 193.4,116.3 194.4,116.3 195.4,116.3 196.4,116.2 197.4,116.2 198.4,116.2 199.4,116.2 200.4,116.1 201.4,116.1 202.4,116.1 203.4,116.1 204.4,116 205.4,116 206.4,116 207.4,116 208.4,116" fill="none" stroke="#3e52b8" stroke-width="1.9" stroke-linejoin="round" stroke-linecap="round"/>
<path d="M33.4,140 34.4,140 35.4,140 36.4,139.9 37.4,139.9 38.4,139.9 39.4,139.8 40.4,139.8 41.4,139.7 42.4,139.7 43.4,139.6 44.4,139.6 45.4,139.5 46.4,139.4 47.4,139.4 48.4,139.3 49.4,139.2 50.4,139.2 51.4,139.1 52.4,139 53.4,138.9 54.4,138.7 55.4,138.6 56.4,138.4 57.4,138.2 58.4,138 59.4,137.9 60.4,137.6 61.4,137.4 62.4,137.2 63.4,137 64.4,136.8 65.4,136.5 66.4,136.3 67.4,136.1 68.4,135.8 69.4,135.6 70.4,135.4 71.4,135.1 72.4,134.9 73.4,134.7 74.4,134.4 75.4,134.2 76.4,133.9 77.4,133.6 78.4,133.3 79.4,133 80.4,132.7 81.4,132.4 82.4,132.1 83.4,131.7 84.4,131.4 85.4,131 86.4,130.7 87.4,130.3 88.4,129.9 89.4,129.5 90.4,129.1 91.4,128.7 92.4,128.2 93.4,127.8 94.4,127.3 95.4,126.8 96.4,126.2 97.4,125.7 98.4,125.1 99.4,124.5 100.4,123.9 101.4,123.4 102.4,122.8 103.4,122.3 104.4,121.8 105.4,121.3 106.4,120.9 107.4,120.5 108.4,120.2 109.4,119.9 110.4,119.7 111.4,119.6 112.4,119.5 113.4,119.5 114.4,119.5 115.4,119.6 116.4,119.7 117.4,119.8 118.4,120 119.4,120.2 120.4,120.4 121.4,120.6 122.4,120.8 123.4,120.9 124.4,121.1 125.4,121.2 126.4,121.3 127.4,121.4 128.4,121.4 129.4,121.5 130.4,121.5 131.4,121.5 132.4,121.4 133.4,121.4 134.4,121.3 135.4,121.2 136.4,121.1 137.4,121 138.4,120.9 139.4,120.8 140.4,120.7 141.4,120.5 142.4,120.4 143.4,120.3 144.4,120.2 145.4,120 146.4,119.9 147.4,119.8 148.4,119.7 149.4,119.6 150.4,119.5 151.4,119.3 152.4,119.2 153.4,119.1 154.4,119 155.4,118.9 156.4,118.8 157.4,118.7 158.4,118.6 159.4,118.5 160.4,118.4 161.4,118.3 162.4,118.2 163.4,118.1 164.4,118 165.4,117.9 166.4,117.8 167.4,117.7 168.4,117.6 169.4,117.6 170.4,117.5 171.4,117.4 172.4,117.3 173.4,117.3 174.4,117.2 175.4,117.2 176.4,117.1 177.4,117.1 178.4,117 179.4,117 180.4,116.9 181.4,116.9 182.4,116.8 183.4,116.8 184.4,116.7 185.4,116.7 186.4,116.6 187.4,116.6 188.4,116.5 189.4,116.5 190.4,116.5 191.4,116.4 192.4,116.4 193.4,116.3 194.4,116.3 195.4,116.3 196.4,116.2 197.4,116.2 198.4,116.2 199.4,116.2 200.4,116.1 201.4,116.1 202.4,116.1 203.4,116.1 204.4,116 205.4,116 206.4,116 207.4,116 208.4,116" fill="none" stroke="#94922c" stroke-width="1.9" stroke-linejoin="round" stroke-linecap="round"/>
<path d="M33.4,140 34.4,140 35.4,140 36.4,139.9 37.4,139.9 38.4,139.9 39.4,139.8 40.4,139.8 41.4,139.7 42.4,139.7 43.4,139.6 44.4,139.6 45.4,139.5 46.4,139.4 47.4,139.4 48.4,139.3 49.4,139.2 50.4,139.2 51.4,139.1 52.4,139 53.4,138.9 54.4,138.7 55.4,138.6 56.4,138.4 57.4,138.2 58.4,138 59.4,137.9 60.4,137.6 61.4,137.4 62.4,137.2 63.4,137 64.4,136.8 65.4,136.5 66.4,136.3 67.4,136.1 68.4,135.8 69.4,135.6 70.4,135.4 71.4,135.1 72.4,134.9 73.4,134.7 74.4,134.4 75.4,134.2 76.4,133.9 77.4,133.6 78.4,133.4 79.4,133.1 80.4,132.8 81.4,132.5 82.4,132.2 83.4,131.9 84.4,131.6 85.4,131.3 86.4,131.1 87.4,130.8 88.4,130.5 89.4,130.2 90.4,130 91.4,129.7 92.4,129.5 93.4,129.3 94.4,129 95.4,128.8 96.4,128.6 97.4,128.4 98.4,128.2 99.4,127.9 100.4,127.7 101.4,127.5 102.4,127.3 103.4,127.1 104.4,126.9 105.4,126.7 106.4,126.5 107.4,126.3 108.4,126.1 109.4,125.9 110.4,125.7 111.4,125.5 112.4,125.3 113.4,125.1 114.4,124.9 115.4,124.6 116.4,124.3 117.4,124 118.4,123.6 119.4,123.1 120.4,122.5 121.4,121.7 122.4,120.7 123.4,119.6 124.4,118.2 125.4,116.7 126.4,115 127.4,113.3 128.4,111.6 129.4,110 130.4,108.7 131.4,107.6 132.4,107 133.4,106.8 134.4,107 135.4,107.7 136.4,108.7 137.4,109.9 138.4,111.3 139.4,112.7 140.4,114.1 141.4,115.3 142.4,116.4 143.4,117.3 144.4,118 145.4,118.5 146.4,118.9 147.4,119.1 148.4,119.2 149.4,119.3 150.4,119.3 151.4,119.2 152.4,119.2 153.4,119.1 154.4,119 155.4,118.9 156.4,118.8 157.4,118.7 158.4,118.6 159.4,118.5 160.4,118.4 161.4,118.3 162.4,118.2 163.4,118.1 164.4,118 165.4,117.9 166.4,117.8 167.4,117.7 168.4,117.6 169.4,117.6 170.4,117.5 171.4,117.4 172.4,117.3 173.4,117.3 174.4,117.2 175.4,117.2 176.4,117.1 177.4,117.1 178.4,117 179.4,117 180.4,116.9 181.4,116.9 182.4,116.8 183.4,116.8 184.4,116.7 185.4,116.7 186.4,116.6 187.4,116.6 188.4,116.5 189.4,116.5 190.4,116.5 191.4,116.4 192.4,116.4 193.4,116.3 194.4,116.3 195.4,116.3 196.4,116.2 197.4,116.2 198.4,116.2 199.4,116.2 200.4,116.1 201.4,116.1 202.4,116.1 203.4,116.1 204.4,116 205.4,116 206.4,116 207.4,116 208.4,116" fill="none" stroke="#1f9a3c" stroke-width="1.9" stroke-linejoin="round" stroke-linecap="round"/>
<path d="M33.4,140 34.4,140 35.4,140 36.4,139.9 37.4,139.9 38.4,139.9 39.4,139.8 40.4,139.8 41.4,139.7 42.4,139.7 43.4,139.6 44.4,139.6 45.4,139.5 46.4,139.4 47.4,139.4 48.4,139.3 49.4,139.2 50.4,139.2 51.4,139.1 52.4,139 53.4,138.9 54.4,138.7 55.4,138.6 56.4,138.4 57.4,138.2 58.4,138 59.4,137.9 60.4,137.6 61.4,137.4 62.4,137.2 63.4,137 64.4,136.8 65.4,136.5 66.4,136.3 67.4,136.1 68.4,135.8 69.4,135.6 70.4,135.4 71.4,135.1 72.4,134.9 73.4,134.7 74.4,134.4 75.4,134.2 76.4,133.9 77.4,133.6 78.4,133.4 79.4,133.1 80.4,132.8 81.4,132.5 82.4,132.2 83.4,131.9 84.4,131.6 85.4,131.3 86.4,131.1 87.4,130.8 88.4,130.5 89.4,130.2 90.4,130 91.4,129.7 92.4,129.5 93.4,129.3 94.4,129 95.4,128.8 96.4,128.6 97.4,128.4 98.4,128.2 99.4,127.9 100.4,127.7 101.4,127.5 102.4,127.3 103.4,127.1 104.4,126.9 105.4,126.7 106.4,126.5 107.4,126.3 108.4,126.1 109.4,125.9 110.4,125.7 111.4,125.5 112.4,125.3 113.4,125.1 114.4,124.9 115.4,124.8 116.4,124.6 117.4,124.4 118.4,124.2 119.4,124 120.4,123.9 121.4,123.7 122.4,123.5 123.4,123.3 124.4,123.2 125.4,123 126.4,122.8 127.4,122.6 128.4,122.4 129.4,122.2 130.4,122 131.4,121.8 132.4,121.5 133.4,121.2 134.4,120.9 135.4,120.6 136.4,120.3 137.4,119.9 138.4,119.4 139.4,119 140.4,118.5 141.4,118 142.4,117.4 143.4,116.8 144.4,116.2 145.4,115.6 146.4,115 147.4,114.5 148.4,113.9 149.4,113.4 150.4,113 151.4,112.6 152.4,112.3 153.4,112.1 154.4,112 155.4,112 156.4,112 157.4,112.2 158.4,112.4 159.4,112.6 160.4,112.9 161.4,113.3 162.4,113.6 163.4,114 164.4,114.4 165.4,114.7 166.4,115.1 167.4,115.4 168.4,115.7 169.4,115.9 170.4,116.2 171.4,116.3 172.4,116.5 173.4,116.6 174.4,116.7 175.4,116.8 176.4,116.8 177.4,116.8 178.4,116.8 179.4,116.8 180.4,116.8 181.4,116.8 182.4,116.8 183.4,116.7 184.4,116.7 185.4,116.7 186.4,116.6 187.4,116.6 188.4,116.5 189.4,116.5 190.4,116.5 191.4,116.4 192.4,116.4 193.4,116.3 194.4,116.3 195.4,116.3 196.4,116.2 197.4,116.2 198.4,116.2 199.4,116.2 200.4,116.1 201.4,116.1 202.4,116.1 203.4,116.1 204.4,116 205.4,116 206.4,116 207.4,116 208.4,116" fill="none" stroke="#3e52b8" stroke-width="1.9" stroke-linejoin="round" stroke-linecap="round"/>
<path d="M33.4,140 34.4,140 35.4,140 36.4,139.9 37.4,139.9 38.4,139.9 39.4,139.8 40.4,139.8 41.4,139.7 42.4,139.7 43.4,139.6 44.4,139.6 45.4,139.5 46.4,139.4 47.4,139.4 48.4,139.3 49.4,139.2 50.4,139.2 51.4,139.1 52.4,139 53.4,138.9 54.4,138.7 55.4,138.6 56.4,138.4 57.4,138.2 58.4,138 59.4,137.9 60.4,137.6 61.4,137.4 62.4,137.2 63.4,137 64.4,136.8 65.4,136.5 66.4,136.3 67.4,136.1 68.4,135.8 69.4,135.6 70.4,135.4 71.4,135.1 72.4,134.9 73.4,134.7 74.4,134.4 75.4,134.2 76.4,133.9 77.4,133.6 78.4,133.4 79.4,133.1 80.4,132.8 81.4,132.5 82.4,132.2 83.4,131.9 84.4,131.6 85.4,131.3 86.4,131.1 87.4,130.8 88.4,130.5 89.4,130.2 90.4,130 91.4,129.7 92.4,129.5 93.4,129.3 94.4,129 95.4,128.8 96.4,128.6 97.4,128.4 98.4,128.2 99.4,127.9 100.4,127.7 101.4,127.5 102.4,127.3 103.4,127.1 104.4,126.9 105.4,126.7 106.4,126.5 107.4,126.3 108.4,126.1 109.4,125.9 110.4,125.7 111.4,125.5 112.4,125.3 113.4,125.1 114.4,124.9 115.4,124.8 116.4,124.6 117.4,124.4 118.4,124.2 119.4,124 120.4,123.9 121.4,123.7 122.4,123.5 123.4,123.4 124.4,123.2 125.4,123 126.4,122.9 127.4,122.7 128.4,122.5 129.4,122.4 130.4,122.2 131.4,122.1 132.4,121.9 133.4,121.7 134.4,121.6 135.4,121.4 136.4,121.3 137.4,121.1 138.4,121 139.4,120.9 140.4,120.7 141.4,120.6 142.4,120.4 143.4,120.3 144.4,120.2 145.4,120.1 146.4,119.9 147.4,119.8 148.4,119.7 149.4,119.6 150.4,119.5 151.4,119.3 152.4,119.2 153.4,119.1 154.4,119 155.4,118.9 156.4,118.8 157.4,118.7 158.4,118.6 159.4,118.5 160.4,118.4 161.4,118.3 162.4,118.2 163.4,118.1 164.4,118 165.4,117.9 166.4,117.8 167.4,117.7 168.4,117.6 169.4,117.6 170.4,117.5 171.4,117.4 172.4,117.3 173.4,117.3 174.4,117.2 175.4,117.2 176.4,117.1 177.4,117.1 178.4,117 179.4,117 180.4,116.9 181.4,116.9 182.4,116.8 183.4,116.8 184.4,116.7 185.4,116.7 186.4,116.6 187.4,116.6 188.4,116.5 189.4,116.5 190.4,116.5 191.4,116.4 192.4,116.4 193.4,116.3 194.4,116.3 195.4,116.3 196.4,116.2 197.4,116.2 198.4,116.2 199.4,116.2 200.4,116.1 201.4,116.1 202.4,116.1 203.4,116.1 204.4,116 205.4,116 206.4,116 207.4,116 208.4,116" fill="none" stroke="#f07224" stroke-width="2.2" stroke-linejoin="round" stroke-linecap="round"/>
<rect x="32.4" y="12.5" width="177.6" height="134.5" fill="none" stroke="#111" stroke-width="1.6"/>
<line x1="37.8" y1="147.0" x2="37.8" y2="149.5" stroke="#111" stroke-width="1"/>
<line x1="62.4" y1="147.0" x2="62.4" y2="149.5" stroke="#111" stroke-width="1"/>
<line x1="87" y1="147.0" x2="87" y2="149.5" stroke="#111" stroke-width="1"/>
<line x1="111.6" y1="147.0" x2="111.6" y2="149.5" stroke="#111" stroke-width="1"/>
<line x1="136.1" y1="147.0" x2="136.1" y2="149.5" stroke="#111" stroke-width="1"/>
<line x1="160.7" y1="147.0" x2="160.7" y2="149.5" stroke="#111" stroke-width="1"/>
<line x1="185.3" y1="147.0" x2="185.3" y2="149.5" stroke="#111" stroke-width="1"/>
<line x1="209.9" y1="147.0" x2="209.9" y2="149.5" stroke="#111" stroke-width="1"/>
<line x1="50.1" y1="147.0" x2="50.1" y2="148.5" stroke="#111" stroke-width="1"/>
<line x1="74.7" y1="147.0" x2="74.7" y2="148.5" stroke="#111" stroke-width="1"/>
<line x1="99.3" y1="147.0" x2="99.3" y2="148.5" stroke="#111" stroke-width="1"/>
<line x1="123.8" y1="147.0" x2="123.8" y2="148.5" stroke="#111" stroke-width="1"/>
<line x1="148.4" y1="147.0" x2="148.4" y2="148.5" stroke="#111" stroke-width="1"/>
<line x1="173" y1="147.0" x2="173" y2="148.5" stroke="#111" stroke-width="1"/>
<line x1="197.6" y1="147.0" x2="197.6" y2="148.5" stroke="#111" stroke-width="1"/>
<text transform="translate(37.8,160.5) scale(1.09,1)" font-size="11.5" text-anchor="middle">705</text>
<text transform="translate(62.4,160.5) scale(1.09,1)" font-size="11.5" text-anchor="middle">710</text>
<text transform="translate(87,160.5) scale(1.09,1)" font-size="11.5" text-anchor="middle">715</text>
<text transform="translate(111.6,160.5) scale(1.09,1)" font-size="11.5" text-anchor="middle">720</text>
<text transform="translate(136.1,160.5) scale(1.09,1)" font-size="11.5" text-anchor="middle">725</text>
<text transform="translate(160.7,160.5) scale(1.09,1)" font-size="11.5" text-anchor="middle">730</text>
<text transform="translate(185.3,160.5) scale(1.09,1)" font-size="11.5" text-anchor="middle">735</text>
<text transform="translate(209.9,160.5) scale(1.09,1)" font-size="11.5" text-anchor="middle">740</text>
<text transform="translate(76.6,170) scale(1.085,1)" font-size="11" text-anchor="start">Binding energy (eV)</text>
<text transform="translate(27.8,107.1) rotate(-90)" font-size="11.2">Intensity (a.u.)</text>
<text transform="translate(19,20) scale(0.95,1)" font-size="12" text-anchor="start">(a)</text>
<text transform="translate(35,21) scale(1.09,1)" font-size="9" text-anchor="start">Fe 2p</text>
<text transform="translate(78,25.5) scale(1.09,1)" font-size="9.3" text-anchor="start">2p<tspan dy="2.5" font-size="6.5">3/2</tspan></text>
<text transform="translate(98,37) scale(1.09,1)" font-size="9" text-anchor="start">Fe<tspan dy="-4.6" font-size="6.8">3+</tspan></text>
<text transform="translate(145,30) scale(1.09,1)" font-size="9.3" text-anchor="start">2p<tspan dy="2.5" font-size="6.5">1/2</tspan></text>
<text transform="translate(161.6,42.5) scale(1.09,1)" font-size="8.6" text-anchor="start">FeCoNi-OH</text>
<text transform="translate(37,57) scale(1.12,1)" font-size="8.6" text-anchor="start">Fe<tspan dy="-4.6" font-size="6.8">2+</tspan></text>
<text transform="translate(34,116) scale(1.09,1)" font-size="9" text-anchor="start">Fe-S</text>
<text transform="translate(124,90) scale(1.09,1)" font-size="8.5" text-anchor="start">Sat.</text>
<text transform="translate(168,110) scale(1.04,1)" font-size="8.6" text-anchor="start">FeCoNi-S<tspan dy="2.5" font-size="6.5">2</tspan></text>
<line x1="46" y1="47" x2="58.8" y2="41.4" stroke="#333" stroke-width="0.7"/>
<polygon points="62,40 59.4,42.8 58.2,40" fill="#111"/>
<line x1="100" y1="39" x2="90.7" y2="46.8" stroke="#333" stroke-width="0.7"/>
<polygon points="88,49 89.7,45.6 91.6,47.9" fill="#111"/>
<line x1="40" y1="121.5" x2="44.1" y2="125.9" stroke="#333" stroke-width="0.7"/>
<polygon points="46.5,128.5 43,127 45.2,124.9" fill="#111"/>
<line x1="126" y1="91" x2="113.8" y2="111" stroke="#333" stroke-width="0.7"/>
<polygon points="112,114 112.5,110.2 115.1,111.8" fill="#111"/>
<line x1="136" y1="91" x2="170" y2="112.2" stroke="#333" stroke-width="0.7"/>
<polygon points="173,114 169.2,113.4 170.8,110.9" fill="#111"/>
<path d="M237.8,74.6 238.4,73.5 239,77.1 239.6,73.5 240.2,73.9 240.8,75.8 241.4,72.5 242,72.8 242.6,73.8 243.2,73 243.8,71.8 244.4,73 245,72.7 245.6,73.8 246.2,70.7 246.8,71.8 247.4,74.1 248,74.8 248.6,70.2 249.2,72.8 249.8,70.4 250.4,70.3 251,69.9 251.6,70.1 252.2,71.5 252.8,70.7 253.4,69.2 254,68 254.6,67.7 255.2,66.7 255.8,67 256.4,64 257,63.6 257.6,62.1 258.2,60.7 258.8,59.5 259.4,57.7 260,57.3 260.6,53.5 261.2,53.6 261.8,49.1 262.4,46.7 263,45.4 263.6,43.8 264.2,41.8 264.8,41.4 265.4,39.7 266,37.6 266.6,35.5 267.2,35.1 267.8,36.5 268.4,34.9 269,33 269.6,34.1 270.2,34.9 270.8,37.8 271.4,37.1 272,41.1 272.6,40.1 273.2,40.4 273.8,40.8 274.4,43.5 275,42.9 275.6,42.9 276.2,45.4 276.8,45.3 277.4,47.2 278,45.9 278.6,42.6 279.2,47.5 279.8,44.1 280.4,48.6 281,49 281.6,46 282.2,45 282.8,44.6 283.4,47.4 284,45.9 284.6,45.3 285.2,45.7 285.8,48.6 286.4,46.3 287,46.7 287.6,46.7 288.2,47 288.8,46.9 289.4,44.6 290,45.2 290.6,44.4 291.2,44.4 291.8,46.8 292.4,44.6 293,45.1 293.6,44.3 294.2,44.4 294.8,46.2 295.4,44.7 296,44.7 296.6,46 297.2,46.2 297.8,46.7 298.4,46 299,43.7 299.6,47 300.2,47.1 300.8,48.1 301.4,46 302,50.7 302.6,46.2 303.2,49.1 303.8,48.7 304.4,48.4 305,50.6 305.6,49.6 306.2,47.4 306.8,49.4 307.4,52.1 308,54.9 308.6,50.6 309.2,53 309.8,55.4 310.4,54.8 311,54 311.6,53.1 312.2,53.1 312.8,55 313.4,55.9 314,53.9 314.6,55.1 315.2,58.1 315.8,57.6 316.4,57.6 317,58.5 317.6,58.3 318.2,61 318.8,62.3 319.4,63.2 320,61.8 320.6,62.2 321.2,63.5 321.8,64.2 322.4,64.2 323,64.2 323.6,62.1 324.2,61.1 324.8,64.6 325.4,63.6 326,63.9 326.6,63 327.2,62.7 327.8,66.4 328.4,65.4 329,63.6 329.6,65.6 330.2,65.6 330.8,66 331.4,68.3 332,65.5 332.6,63.9 333.2,65.6 333.8,64.8 334.4,66.3 335,65.8 335.6,65.9 336.2,64.6 336.8,65.8 337.4,64.3 338,65.4 338.6,64.1 339.2,62.6 339.8,64.3 340.4,62.2 341,64.5 341.6,62.5 342.2,61.9 342.8,60.7 343.4,59.7 344,55.8 344.6,59.7 345.2,56.2 345.8,57.7 346.4,54.9 347,54.9 347.6,54.2 348.2,52.7 348.8,53.4 349.4,54.1 350,52.8 350.6,51.6 351.2,52.6 351.8,53.9 352.4,55.3 353,55.2 353.6,54.9 354.2,53.6 354.8,56.4 355.4,55.7 356,55.7 356.6,57.6 357.2,57.5 357.8,57.7 358.4,55.8 359,56.7 359.6,55.5 360.2,58.2 360.8,58.1 361.4,59.5 362,58.7 362.6,58.1 363.2,61.5 363.8,57.5 364.4,57.3 365,58.3 365.6,59.9 366.2,58.9 366.8,58.9 367.4,58.1 368,61.6 368.6,58.9 369.2,58.3 369.8,59.6 370.4,58.8 371,59.5 371.6,61.5 372.2,59.2 372.8,59.7 373.4,59.2 374,59.4 374.6,60.6 375.2,60.2 375.8,59 376.4,58.1 377,59.1 377.6,60.3 378.2,59.1 378.8,58.9 379.4,56.7 380,60.3 380.6,57 381.2,57.2 381.8,58.4 382.4,58.9 383,59 383.6,57.9 384.2,58.5 384.8,58.2 385.4,56.7 386,58.8 386.6,58.3 387.2,59.8 387.8,59.2 388.4,60.7 389,60.5 389.6,60.8 390.2,61.4 390.8,60.8 391.4,59.8 392,61.9 392.6,59.1 393.2,60.4 393.8,61.7 394.4,60.3 395,61.7 395.6,59.9 396.2,60.3 396.8,61.9 397.4,62.2 398,62.9 398.6,61.4 399.2,62 399.8,62.5 400.4,62.4 401,60.1 401.6,61.2 402.2,63.8 402.8,60.4 403.4,62.9 404,61.6 404.6,63.5 405.2,61.2 405.8,62.3 406.4,59.6 407,62.2 407.6,63.7 408.2,60.4 408.8,63.9 409.4,61.4 410,62.3 410.6,58.7 411.2,63.7 411.8,61.2 412.4,61.6 413,60.6 413.6,61 414.2,63.7 414.8,61.6 415.4,63.4 416,61.9 416.6,62.6 417.2,61.4 417.8,62.6 418.4,65.4 419,62.9 419.6,62.6 420.2,61.3 420.8,63.2 421.4,63.6 422,59.6" fill="none" stroke="#6a6a6a" stroke-width="1.4" stroke-linejoin="round" stroke-linecap="round"/>
<path d="M237.8,74.8 238.8,74.7 239.8,74.6 240.8,74.5 241.8,74.4 242.8,74.3 243.8,74.1 244.8,74 245.8,73.8 246.8,73.6 247.8,73.3 248.8,72.9 249.8,72.5 250.8,72 251.8,71.3 252.8,70.5 253.8,69.5 254.8,68.3 255.8,66.7 256.8,64.9 257.8,62.6 258.8,60 259.8,57 260.8,53.7 261.8,50.3 262.8,46.8 263.8,43.4 264.8,40.5 265.8,38.1 266.8,36.4 267.8,35.5 268.8,35.4 269.8,35.9 270.8,37.1 271.8,38.6 272.8,40.4 273.8,42.1 274.8,43.7 275.8,45 276.8,46 277.8,46.8 278.8,47.2 279.8,47.4 280.8,47.4 281.8,47.3 282.8,47.2 283.8,47 284.8,46.9 285.8,46.7 286.8,46.6 287.8,46.5 288.8,46.4 289.8,46.3 290.8,46.2 291.8,46.1 292.8,46 293.8,46 294.8,46 295.8,46.1 296.8,46.2 297.8,46.4 298.8,46.7 299.8,47.1 300.8,47.6 301.8,48.1 302.8,48.7 303.8,49.4 304.8,50.2 305.8,50.9 306.8,51.8 307.8,52.6 308.8,53.5 309.8,54.3 310.8,55.1 311.8,55.9 312.8,56.7 313.8,57.5 314.8,58.3 315.8,59 316.8,59.7 317.8,60.3 318.8,61 319.8,61.6 320.8,62.2 321.8,62.7 322.8,63.3 323.8,63.8 324.8,64.2 325.8,64.7 326.8,65.1 327.8,65.4 328.8,65.7 329.8,65.9 330.8,66.1 331.8,66.3 332.8,66.4 333.8,66.4 334.8,66.4 335.8,66.2 336.8,66 337.8,65.7 338.8,65.2 339.8,64.5 340.8,63.6 341.8,62.6 342.8,61.3 343.8,60 344.8,58.6 345.8,57.3 346.8,56.1 347.8,55.1 348.8,54.4 349.8,54.1 350.8,54.1 351.8,54.3 352.8,54.8 353.8,55.4 354.8,56.1 355.8,56.7 356.8,57.3 357.8,57.8 358.8,58.2 359.8,58.6 360.8,58.9 361.8,59.2 362.8,59.4 363.8,59.7 364.8,59.9 365.8,60.1 366.8,60.3 367.8,60.4 368.8,60.5 369.8,60.6 370.8,60.6 371.8,60.6 372.8,60.5 373.8,60.5 374.8,60.3 375.8,60.2 376.8,60.1 377.8,60 378.8,59.9 379.8,59.8 380.8,59.7 381.8,59.7 382.8,59.7 383.8,59.7 384.8,59.8 385.8,59.9 386.8,60 387.8,60.2 388.8,60.3 389.8,60.5 390.8,60.7 391.8,60.9 392.8,61.1 393.8,61.3 394.8,61.6 395.8,61.8 396.8,62 397.8,62.1 398.8,62.3 399.8,62.5 400.8,62.6 401.8,62.7 402.8,62.8 403.8,62.9 404.8,63 405.8,63 406.8,63.1 407.8,63.1 408.8,63.1 409.8,63.1 410.8,63.1 411.8,63.1 412.8,63.1 413.8,63.1 414.8,63 415.8,63 416.8,62.9 417.8,62.9 418.8,62.8 419.8,62.8 420.8,62.7 421.8,62.7" fill="none" stroke="#e8312f" stroke-width="2.2" stroke-linejoin="round" stroke-linecap="round"/>
<path d="M237.8,74.9 238.8,74.9 239.8,74.8 240.8,74.7 241.8,74.7 242.8,74.6 243.8,74.5 244.8,74.4 245.8,74.4 246.8,74.3 247.8,74.2 248.8,74.1 249.8,74 250.8,73.8 251.8,73.5 252.8,73.1 253.8,72.6 254.8,71.9 255.8,70.9 256.8,69.6 257.8,67.9 258.8,65.8 259.8,63.3 260.8,60.6 261.8,57.6 262.8,54.6 263.8,51.8 264.8,49.3 265.8,47.4 266.8,46.3 267.8,46.1 268.8,46.7 269.8,48.2 270.8,50.3 271.8,52.8 272.8,55.7 273.8,58.5 274.8,61.3 275.8,63.7 276.8,65.8 277.8,67.5 278.8,68.8 279.8,69.8 280.8,70.5 281.8,71 282.8,71.3 283.8,71.4 284.8,71.5 285.8,71.5 286.8,71.5 287.8,71.5 288.8,71.4 289.8,71.3 290.8,71.3 291.8,71.2 292.8,71.1 293.8,71.1 294.8,71 295.8,70.9 296.8,70.9 297.8,70.8 298.8,70.7 299.8,70.7 300.8,70.6 301.8,70.5 302.8,70.5 303.8,70.4 304.8,70.3 305.8,70.3 306.8,70.2 307.8,70.1 308.8,70.1 309.8,70 310.8,69.9 311.8,69.9 312.8,69.8 313.8,69.7 314.8,69.7 315.8,69.6 316.8,69.5 317.8,69.4 318.8,69.4 319.8,69.3 320.8,69.2 321.8,69.2 322.8,69.1 323.8,69 324.8,69 325.8,68.9 326.8,68.8 327.8,68.8 328.8,68.7 329.8,68.6 330.8,68.6 331.8,68.5 332.8,68.4 333.8,68.4 334.8,68.3 335.8,68.2 336.8,68.2 337.8,68.1 338.8,68 339.8,68 340.8,67.9 341.8,67.8 342.8,67.8 343.8,67.7 344.8,67.7 345.8,67.6 346.8,67.5 347.8,67.5 348.8,67.4 349.8,67.3 350.8,67.3 351.8,67.2 352.8,67.1 353.8,67.1 354.8,67 355.8,66.9 356.8,66.9 357.8,66.8 358.8,66.7 359.8,66.7 360.8,66.6 361.8,66.5 362.8,66.5 363.8,66.4 364.8,66.3 365.8,66.3 366.8,66.2 367.8,66.1 368.8,66.1 369.8,66 370.8,65.9 371.8,65.9 372.8,65.8 373.8,65.8 374.8,65.7 375.8,65.6 376.8,65.6 377.8,65.5 378.8,65.4 379.8,65.4 380.8,65.3 381.8,65.2 382.8,65.2 383.8,65.1 384.8,65 385.8,65 386.8,64.9 387.8,64.8 388.8,64.8 389.8,64.7 390.8,64.7 391.8,64.6 392.8,64.5 393.8,64.5 394.8,64.4 395.8,64.3 396.8,64.3 397.8,64.2 398.8,64.1 399.8,64.1 400.8,64 401.8,63.9 402.8,63.9 403.8,63.8 404.8,63.8 405.8,63.7 406.8,63.6 407.8,63.6 408.8,63.5 409.8,63.4 410.8,63.4 411.8,63.3 412.8,63.2 413.8,63.2 414.8,63.1 415.8,63.1 416.8,63 417.8,62.9 418.8,62.9 419.8,62.8 420.8,62.7 421.8,62.7" fill="none" stroke="#1f9a3c" stroke-width="1.9" stroke-linejoin="round" stroke-linecap="round"/>
<path d="M237.8,74.9 238.8,74.9 239.8,74.8 240.8,74.7 241.8,74.7 242.8,74.6 243.8,74.5 244.8,74.5 245.8,74.4 246.8,74.3 247.8,74.2 248.8,74.2 249.8,74.1 250.8,74 251.8,73.9 252.8,73.8 253.8,73.7 254.8,73.6 255.8,73.5 256.8,73.3 257.8,73.2 258.8,72.9 259.8,72.7 260.8,72.4 261.8,72 262.8,71.5 263.8,71 264.8,70.4 265.8,69.7 266.8,68.9 267.8,68 268.8,67 269.8,66 270.8,65 271.8,63.9 272.8,62.9 273.8,61.9 274.8,61 275.8,60.3 276.8,59.7 277.8,59.3 278.8,59.1 279.8,59.1 280.8,59.3 281.8,59.7 282.8,60.2 283.8,60.9 284.8,61.7 285.8,62.6 286.8,63.5 287.8,64.4 288.8,65.3 289.8,66.1 290.8,66.9 291.8,67.6 292.8,68.2 293.8,68.7 294.8,69.2 295.8,69.5 296.8,69.8 297.8,70 298.8,70.1 299.8,70.2 300.8,70.3 301.8,70.3 302.8,70.3 303.8,70.3 304.8,70.3 305.8,70.2 306.8,70.2 307.8,70.1 308.8,70 309.8,70 310.8,69.9 311.8,69.8 312.8,69.8 313.8,69.7 314.8,69.7 315.8,69.6 316.8,69.5 317.8,69.4 318.8,69.4 319.8,69.3 320.8,69.2 321.8,69.2 322.8,69.1 323.8,69 324.8,69 325.8,68.9 326.8,68.8 327.8,68.8 328.8,68.7 329.8,68.6 330.8,68.6 331.8,68.5 332.8,68.4 333.8,68.4 334.8,68.3 335.8,68.2 336.8,68.2 337.8,68.1 338.8,68 339.8,68 340.8,67.9 341.8,67.8 342.8,67.8 343.8,67.7 344.8,67.7 345.8,67.6 346.8,67.5 347.8,67.5 348.8,67.4 349.8,67.3 350.8,67.3 351.8,67.2 352.8,67.1 353.8,67.1 354.8,67 355.8,66.9 356.8,66.9 357.8,66.8 358.8,66.7 359.8,66.7 360.8,66.6 361.8,66.5 362.8,66.5 363.8,66.4 364.8,66.3 365.8,66.3 366.8,66.2 367.8,66.1 368.8,66.1 369.8,66 370.8,65.9 371.8,65.9 372.8,65.8 373.8,65.8 374.8,65.7 375.8,65.6 376.8,65.6 377.8,65.5 378.8,65.4 379.8,65.4 380.8,65.3 381.8,65.2 382.8,65.2 383.8,65.1 384.8,65 385.8,65 386.8,64.9 387.8,64.8 388.8,64.8 389.8,64.7 390.8,64.7 391.8,64.6 392.8,64.5 393.8,64.5 394.8,64.4 395.8,64.3 396.8,64.3 397.8,64.2 398.8,64.1 399.8,64.1 400.8,64 401.8,63.9 402.8,63.9 403.8,63.8 404.8,63.8 405.8,63.7 406.8,63.6 407.8,63.6 408.8,63.5 409.8,63.4 410.8,63.4 411.8,63.3 412.8,63.2 413.8,63.2 414.8,63.1 415.8,63.1 416.8,63 417.8,62.9 418.8,62.9 419.8,62.8 420.8,62.7 421.8,62.7" fill="none" stroke="#7b52bb" stroke-width="1.9" stroke-linejoin="round" stroke-linecap="round"/>
<path d="M237.8,74.9 238.8,74.9 239.8,74.8 240.8,74.7 241.8,74.7 242.8,74.6 243.8,74.5 244.8,74.5 245.8,74.4 246.8,74.3 247.8,74.2 248.8,74.2 249.8,74.1 250.8,74 251.8,73.9 252.8,73.9 253.8,73.8 254.8,73.7 255.8,73.6 256.8,73.5 257.8,73.4 258.8,73.3 259.8,73.2 260.8,73.1 261.8,73 262.8,72.8 263.8,72.7 264.8,72.5 265.8,72.3 266.8,72 267.8,71.8 268.8,71.5 269.8,71.1 270.8,70.7 271.8,70.3 272.8,69.8 273.8,69.2 274.8,68.6 275.8,67.9 276.8,67.1 277.8,66.3 278.8,65.4 279.8,64.5 280.8,63.5 281.8,62.5 282.8,61.4 283.8,60.3 284.8,59.2 285.8,58 286.8,56.9 287.8,55.8 288.8,54.8 289.8,53.8 290.8,52.9 291.8,52.1 292.8,51.4 293.8,50.8 294.8,50.4 295.8,50 296.8,49.9 297.8,49.8 298.8,50 299.8,50.2 300.8,50.6 301.8,51.1 302.8,51.8 303.8,52.5 304.8,53.3 305.8,54.2 306.8,55.1 307.8,56.1 308.8,57.1 309.8,58.1 310.8,59.1 311.8,60 312.8,61 313.8,61.8 314.8,62.7 315.8,63.4 316.8,64.1 317.8,64.8 318.8,65.3 319.8,65.9 320.8,66.3 321.8,66.7 322.8,67 323.8,67.3 324.8,67.5 325.8,67.7 326.8,67.9 327.8,68 328.8,68.1 329.8,68.1 330.8,68.2 331.8,68.2 332.8,68.2 333.8,68.2 334.8,68.2 335.8,68.1 336.8,68.1 337.8,68 338.8,68 339.8,67.9 340.8,67.9 341.8,67.8 342.8,67.8 343.8,67.7 344.8,67.6 345.8,67.6 346.8,67.5 347.8,67.5 348.8,67.4 349.8,67.3 350.8,67.3 351.8,67.2 352.8,67.1 353.8,67.1 354.8,67 355.8,66.9 356.8,66.9 357.8,66.8 358.8,66.7 359.8,66.7 360.8,66.6 361.8,66.5 362.8,66.5 363.8,66.4 364.8,66.3 365.8,66.3 366.8,66.2 367.8,66.1 368.8,66.1 369.8,66 370.8,65.9 371.8,65.9 372.8,65.8 373.8,65.8 374.8,65.7 375.8,65.6 376.8,65.6 377.8,65.5 378.8,65.4 379.8,65.4 380.8,65.3 381.8,65.2 382.8,65.2 383.8,65.1 384.8,65 385.8,65 386.8,64.9 387.8,64.8 388.8,64.8 389.8,64.7 390.8,64.7 391.8,64.6 392.8,64.5 393.8,64.5 394.8,64.4 395.8,64.3 396.8,64.3 397.8,64.2 398.8,64.1 399.8,64.1 400.8,64 401.8,63.9 402.8,63.9 403.8,63.8 404.8,63.8 405.8,63.7 406.8,63.6 407.8,63.6 408.8,63.5 409.8,63.4 410.8,63.4 411.8,63.3 412.8,63.2 413.8,63.2 414.8,63.1 415.8,63.1 416.8,63 417.8,62.9 418.8,62.9 419.8,62.8 420.8,62.7 421.8,62.7" fill="none" stroke="#8c1f22" stroke-width="1.9" stroke-linejoin="round" stroke-linecap="round"/>
<path d="M237.8,74.9 238.8,74.9 239.8,74.8 240.8,74.7 241.8,74.7 242.8,74.6 243.8,74.5 244.8,74.5 245.8,74.4 246.8,74.3 247.8,74.2 248.8,74.2 249.8,74.1 250.8,74 251.8,74 252.8,73.9 253.8,73.8 254.8,73.8 255.8,73.7 256.8,73.6 257.8,73.5 258.8,73.5 259.8,73.4 260.8,73.3 261.8,73.3 262.8,73.2 263.8,73.1 264.8,73.1 265.8,73 266.8,72.9 267.8,72.9 268.8,72.8 269.8,72.7 270.8,72.6 271.8,72.6 272.8,72.5 273.8,72.4 274.8,72.4 275.8,72.3 276.8,72.2 277.8,72.2 278.8,72.1 279.8,72 280.8,72 281.8,71.9 282.8,71.8 283.8,71.8 284.8,71.7 285.8,71.6 286.8,71.5 287.8,71.5 288.8,71.4 289.8,71.3 290.8,71.3 291.8,71.2 292.8,71.1 293.8,71.1 294.8,71 295.8,70.9 296.8,70.9 297.8,70.8 298.8,70.7 299.8,70.7 300.8,70.6 301.8,70.5 302.8,70.5 303.8,70.4 304.8,70.3 305.8,70.3 306.8,70.2 307.8,70.1 308.8,70.1 309.8,70 310.8,69.9 311.8,69.9 312.8,69.8 313.8,69.7 314.8,69.7 315.8,69.6 316.8,69.5 317.8,69.4 318.8,69.4 319.8,69.3 320.8,69.2 321.8,69.2 322.8,69.1 323.8,69 324.8,69 325.8,68.9 326.8,68.8 327.8,68.8 328.8,68.7 329.8,68.6 330.8,68.6 331.8,68.5 332.8,68.4 333.8,68.3 334.8,68.2 335.8,68 336.8,67.7 337.8,67.4 338.8,66.9 339.8,66.4 340.8,65.6 341.8,64.7 342.8,63.7 343.8,62.6 344.8,61.5 345.8,60.4 346.8,59.5 347.8,58.9 348.8,58.6 349.8,58.6 350.8,59 351.8,59.7 352.8,60.5 353.8,61.5 354.8,62.5 355.8,63.4 356.8,64.3 357.8,64.9 358.8,65.4 359.8,65.8 360.8,66.1 361.8,66.2 362.8,66.3 363.8,66.3 364.8,66.3 365.8,66.2 366.8,66.2 367.8,66.1 368.8,66.1 369.8,66 370.8,65.9 371.8,65.9 372.8,65.8 373.8,65.8 374.8,65.7 375.8,65.6 376.8,65.6 377.8,65.5 378.8,65.4 379.8,65.4 380.8,65.3 381.8,65.2 382.8,65.2 383.8,65.1 384.8,65 385.8,65 386.8,64.9 387.8,64.8 388.8,64.8 389.8,64.7 390.8,64.7 391.8,64.6 392.8,64.5 393.8,64.5 394.8,64.4 395.8,64.3 396.8,64.3 397.8,64.2 398.8,64.1 399.8,64.1 400.8,64 401.8,63.9 402.8,63.9 403.8,63.8 404.8,63.8 405.8,63.7 406.8,63.6 407.8,63.6 408.8,63.5 409.8,63.4 410.8,63.4 411.8,63.3 412.8,63.2 413.8,63.2 414.8,63.1 415.8,63.1 416.8,63 417.8,62.9 418.8,62.9 419.8,62.8 420.8,62.7 421.8,62.7" fill="none" stroke="#1f9a3c" stroke-width="1.9" stroke-linejoin="round" stroke-linecap="round"/>
<path d="M237.8,74.9 238.8,74.9 239.8,74.8 240.8,74.7 241.8,74.7 242.8,74.6 243.8,74.5 244.8,74.5 245.8,74.4 246.8,74.3 247.8,74.2 248.8,74.2 249.8,74.1 250.8,74 251.8,74 252.8,73.9 253.8,73.8 254.8,73.8 255.8,73.7 256.8,73.6 257.8,73.5 258.8,73.5 259.8,73.4 260.8,73.3 261.8,73.3 262.8,73.2 263.8,73.1 264.8,73.1 265.8,73 266.8,72.9 267.8,72.9 268.8,72.8 269.8,72.7 270.8,72.6 271.8,72.6 272.8,72.5 273.8,72.4 274.8,72.4 275.8,72.3 276.8,72.2 277.8,72.2 278.8,72.1 279.8,72 280.8,72 281.8,71.9 282.8,71.8 283.8,71.8 284.8,71.7 285.8,71.6 286.8,71.5 287.8,71.5 288.8,71.4 289.8,71.3 290.8,71.3 291.8,71.2 292.8,71.1 293.8,71.1 294.8,71 295.8,70.9 296.8,70.9 297.8,70.8 298.8,70.7 299.8,70.7 300.8,70.6 301.8,70.5 302.8,70.5 303.8,70.4 304.8,70.3 305.8,70.3 306.8,70.2 307.8,70.1 308.8,70.1 309.8,70 310.8,69.9 311.8,69.9 312.8,69.8 313.8,69.7 314.8,69.7 315.8,69.6 316.8,69.5 317.8,69.4 318.8,69.4 319.8,69.3 320.8,69.2 321.8,69.2 322.8,69.1 323.8,69 324.8,69 325.8,68.9 326.8,68.8 327.8,68.8 328.8,68.7 329.8,68.6 330.8,68.6 331.8,68.5 332.8,68.4 333.8,68.4 334.8,68.3 335.8,68.2 336.8,68.2 337.8,68.1 338.8,68 339.8,67.9 340.8,67.8 341.8,67.7 342.8,67.5 343.8,67.4 344.8,67.2 345.8,67 346.8,66.7 347.8,66.4 348.8,66.1 349.8,65.7 350.8,65.3 351.8,64.9 352.8,64.5 353.8,64.1 354.8,63.7 355.8,63.3 356.8,63 357.8,62.7 358.8,62.6 359.8,62.5 360.8,62.5 361.8,62.5 362.8,62.7 363.8,62.9 364.8,63.1 365.8,63.4 366.8,63.7 367.8,64 368.8,64.3 369.8,64.6 370.8,64.8 371.8,65 372.8,65.1 373.8,65.2 374.8,65.3 375.8,65.3 376.8,65.4 377.8,65.3 378.8,65.3 379.8,65.3 380.8,65.3 381.8,65.2 382.8,65.1 383.8,65.1 384.8,65 385.8,65 386.8,64.9 387.8,64.8 388.8,64.8 389.8,64.7 390.8,64.7 391.8,64.6 392.8,64.5 393.8,64.5 394.8,64.4 395.8,64.3 396.8,64.3 397.8,64.2 398.8,64.1 399.8,64.1 400.8,64 401.8,63.9 402.8,63.9 403.8,63.8 404.8,63.8 405.8,63.7 406.8,63.6 407.8,63.6 408.8,63.5 409.8,63.4 410.8,63.4 411.8,63.3 412.8,63.2 413.8,63.2 414.8,63.1 415.8,63.1 416.8,63 417.8,62.9 418.8,62.9 419.8,62.8 420.8,62.7 421.8,62.7" fill="none" stroke="#7b52bb" stroke-width="1.9" stroke-linejoin="round" stroke-linecap="round"/>
<path d="M237.8,74.9 238.8,74.9 239.8,74.8 240.8,74.7 241.8,74.7 242.8,74.6 243.8,74.5 244.8,74.5 245.8,74.4 246.8,74.3 247.8,74.2 248.8,74.2 249.8,74.1 250.8,74 251.8,74 252.8,73.9 253.8,73.8 254.8,73.8 255.8,73.7 256.8,73.6 257.8,73.5 258.8,73.5 259.8,73.4 260.8,73.3 261.8,73.3 262.8,73.2 263.8,73.1 264.8,73.1 265.8,73 266.8,72.9 267.8,72.9 268.8,72.8 269.8,72.7 270.8,72.6 271.8,72.6 272.8,72.5 273.8,72.4 274.8,72.4 275.8,72.3 276.8,72.2 277.8,72.2 278.8,72.1 279.8,72 280.8,72 281.8,71.9 282.8,71.8 283.8,71.8 284.8,71.7 285.8,71.6 286.8,71.5 287.8,71.5 288.8,71.4 289.8,71.3 290.8,71.3 291.8,71.2 292.8,71.1 293.8,71.1 294.8,71 295.8,70.9 296.8,70.9 297.8,70.8 298.8,70.7 299.8,70.7 300.8,70.6 301.8,70.5 302.8,70.5 303.8,70.4 304.8,70.3 305.8,70.3 306.8,70.2 307.8,70.1 308.8,70.1 309.8,70 310.8,69.9 311.8,69.9 312.8,69.8 313.8,69.7 314.8,69.7 315.8,69.6 316.8,69.5 317.8,69.4 318.8,69.4 319.8,69.3 320.8,69.2 321.8,69.2 322.8,69.1 323.8,69 324.8,69 325.8,68.9 326.8,68.8 327.8,68.8 328.8,68.7 329.8,68.6 330.8,68.6 331.8,68.5 332.8,68.4 333.8,68.4 334.8,68.3 335.8,68.2 336.8,68.2 337.8,68.1 338.8,68 339.8,68 340.8,67.9 341.8,67.8 342.8,67.7 343.8,67.7 344.8,67.6 345.8,67.5 346.8,67.4 347.8,67.3 348.8,67.2 349.8,67.1 350.8,67 351.8,66.9 352.8,66.8 353.8,66.6 354.8,66.5 355.8,66.3 356.8,66.1 357.8,65.9 358.8,65.7 359.8,65.5 360.8,65.3 361.8,65 362.8,64.7 363.8,64.4 364.8,64.1 365.8,63.8 366.8,63.5 367.8,63.1 368.8,62.8 369.8,62.5 370.8,62.1 371.8,61.8 372.8,61.5 373.8,61.2 374.8,60.9 375.8,60.6 376.8,60.4 377.8,60.2 378.8,60 379.8,59.9 380.8,59.8 381.8,59.7 382.8,59.7 383.8,59.8 384.8,59.8 385.8,59.9 386.8,60 387.8,60.2 388.8,60.3 389.8,60.5 390.8,60.7 391.8,60.9 392.8,61.1 393.8,61.3 394.8,61.6 395.8,61.8 396.8,62 397.8,62.1 398.8,62.3 399.8,62.5 400.8,62.6 401.8,62.7 402.8,62.8 403.8,62.9 404.8,63 405.8,63 406.8,63.1 407.8,63.1 408.8,63.1 409.8,63.1 410.8,63.1 411.8,63.1 412.8,63.1 413.8,63.1 414.8,63 415.8,63 416.8,62.9 417.8,62.9 418.8,62.8 419.8,62.8 420.8,62.7 421.8,62.7" fill="none" stroke="#8c1f22" stroke-width="1.9" stroke-linejoin="round" stroke-linecap="round"/>
<path d="M237.8,74.9 238.8,74.9 239.8,74.8 240.8,74.7 241.8,74.7 242.8,74.6 243.8,74.5 244.8,74.5 245.8,74.4 246.8,74.3 247.8,74.2 248.8,74.2 249.8,74.1 250.8,74 251.8,74 252.8,73.9 253.8,73.8 254.8,73.8 255.8,73.7 256.8,73.6 257.8,73.5 258.8,73.5 259.8,73.4 260.8,73.3 261.8,73.3 262.8,73.2 263.8,73.1 264.8,73.1 265.8,73 266.8,72.9 267.8,72.9 268.8,72.8 269.8,72.7 270.8,72.6 271.8,72.6 272.8,72.5 273.8,72.4 274.8,72.4 275.8,72.3 276.8,72.2 277.8,72.2 278.8,72.1 279.8,72 280.8,72 281.8,71.9 282.8,71.8 283.8,71.8 284.8,71.7 285.8,71.6 286.8,71.5 287.8,71.5 288.8,71.4 289.8,71.3 290.8,71.3 291.8,71.2 292.8,71.1 293.8,71.1 294.8,71 295.8,70.9 296.8,70.9 297.8,70.8 298.8,70.7 299.8,70.7 300.8,70.6 301.8,70.5 302.8,70.5 303.8,70.4 304.8,70.3 305.8,70.3 306.8,70.2 307.8,70.1 308.8,70.1 309.8,70 310.8,69.9 311.8,69.9 312.8,69.8 313.8,69.7 314.8,69.7 315.8,69.6 316.8,69.5 317.8,69.4 318.8,69.4 319.8,69.3 320.8,69.2 321.8,69.2 322.8,69.1 323.8,69 324.8,69 325.8,68.9 326.8,68.8 327.8,68.8 328.8,68.7 329.8,68.6 330.8,68.6 331.8,68.5 332.8,68.4 333.8,68.4 334.8,68.3 335.8,68.2 336.8,68.2 337.8,68.1 338.8,68 339.8,68 340.8,67.9 341.8,67.8 342.8,67.8 343.8,67.7 344.8,67.7 345.8,67.6 346.8,67.5 347.8,67.5 348.8,67.4 349.8,67.3 350.8,67.3 351.8,67.2 352.8,67.1 353.8,67.1 354.8,67 355.8,66.9 356.8,66.9 357.8,66.8 358.8,66.7 359.8,66.7 360.8,66.6 361.8,66.5 362.8,66.5 363.8,66.4 364.8,66.3 365.8,66.3 366.8,66.2 367.8,66.1 368.8,66.1 369.8,66 370.8,65.9 371.8,65.9 372.8,65.8 373.8,65.8 374.8,65.7 375.8,65.6 376.8,65.6 377.8,65.5 378.8,65.4 379.8,65.4 380.8,65.3 381.8,65.2 382.8,65.2 383.8,65.1 384.8,65 385.8,65 386.8,64.9 387.8,64.8 388.8,64.8 389.8,64.7 390.8,64.7 391.8,64.6 392.8,64.5 393.8,64.5 394.8,64.4 395.8,64.3 396.8,64.3 397.8,64.2 398.8,64.1 399.8,64.1 400.8,64 401.8,63.9 402.8,63.9 403.8,63.8 404.8,63.8 405.8,63.7 406.8,63.6 407.8,63.6 408.8,63.5 409.8,63.4 410.8,63.4 411.8,63.3 412.8,63.2 413.8,63.2 414.8,63.1 415.8,63.1 416.8,63 417.8,62.9 418.8,62.9 419.8,62.8 420.8,62.7 421.8,62.7" fill="none" stroke="#8c1f22" stroke-width="1.9" stroke-linejoin="round" stroke-linecap="round"/>
<path d="M237.8,133.4 238.2,137 238.6,135.1 239,131 239.4,125.2 239.8,137.3 240.2,138 240.6,128.4 241,139.7 241.4,132.2 241.8,143.1 242.2,135.7 242.6,132.3 243,137.8 243.4,133.7 243.8,133.7 244.2,133.4 244.6,132.5 245,135.3 245.4,135.9 245.8,134.1 246.2,139.3 246.6,127.8 247,130.9 247.4,135.5 247.8,128.2 248.2,137.9 248.6,134.7 249,131.3 249.4,133.6 249.8,129.4 250.2,125.9 250.6,134 251,134 251.4,130.6 251.8,129.7 252.2,121.6 252.6,125.8 253,126.5 253.4,128.5 253.8,132 254.2,124.5 254.6,122.9 255,128.5 255.4,123.9 255.8,118.7 256.2,127.4 256.6,119.3 257,119.7 257.4,117.5 257.8,121.9 258.2,123.9 258.6,118.2 259,120.4 259.4,116.7 259.8,126.3 260.2,122.8 260.6,114.7 261,118.1 261.4,119 261.8,116.6 262.2,111.6 262.6,113.1 263,115.6 263.4,113.9 263.8,108.5 264.2,112.5 264.6,106.5 265,101.8 265.4,109.4 265.8,111.6 266.2,109.1 266.6,112.2 267,112.7 267.4,107.2 267.8,103.1 268.2,104.9 268.6,99.5 269,104.3 269.4,103.9 269.8,104.6 270.2,107.8 270.6,96.1 271,106.4 271.4,101.8 271.8,106.6 272.2,104.4 272.6,100.1 273,107.1 273.4,101.4 273.8,106 274.2,102.2 274.6,102.7 275,104.9 275.4,111.5 275.8,107.3 276.2,104.8 276.6,111 277,105.2 277.4,104.1 277.8,101.8 278.2,105.9 278.6,105.8 279,103 279.4,98.5 279.8,104.9 280.2,105.8 280.6,104 281,102 281.4,101.5 281.8,103.6 282.2,110.2 282.6,105.8 283,99.3 283.4,107.4 283.8,103.4 284.2,113.4 284.6,103.8 285,104.6 285.4,105.5 285.8,105.7 286.2,104.8 286.6,104.8 287,103.7 287.4,102.5 287.8,103.1 288.2,100.1 288.6,102.4 289,101.9 289.4,102.6 289.8,102.5 290.2,103.6 290.6,105.7 291,102.9 291.4,104.3 291.8,105 292.2,102.9 292.6,103.5 293,105.3 293.4,97.9 293.8,106.4 294.2,102.4 294.6,90.9 295,106.1 295.4,100 295.8,107.6 296.2,100.9 296.6,103.8 297,107.1 297.4,102 297.8,101.5 298.2,104.9 298.6,110.4 299,109.6 299.4,111 299.8,107.6 300.2,108.2 300.6,110.6 301,109.1 301.4,104.5 301.8,110.5 302.2,106.3 302.6,105.5 303,109.3 303.4,108.9 303.8,112.7 304.2,111 304.6,108.8 305,110.6 305.4,109.2 305.8,110.5 306.2,116.7 306.6,114.1 307,111.7 307.4,112.3 307.8,111.8 308.2,113.7 308.6,109.5 309,117.5 309.4,114.8 309.8,118.7 310.2,120.1 310.6,118.2 311,113.9 311.4,113.6 311.8,121.4 312.2,121.8 312.6,114.3 313,116.2 313.4,124 313.8,120.7 314.2,128.1 314.6,123 315,124.9 315.4,121.6 315.8,120.6 316.2,117.3 316.6,113.1 317,127.2 317.4,126.3 317.8,121.9 318.2,127.8 318.6,119 319,130.2 319.4,126.4 319.8,131 320.2,119.1 320.6,130.5 321,128.9 321.4,126.9 321.8,122.7 322.2,127.3 322.6,127.1 323,124.1 323.4,121.5 323.8,122.7 324.2,124.7 324.6,130.8 325,131.1 325.4,132.9 325.8,128.7 326.2,121.8 326.6,124.3 327,122.9 327.4,126.2 327.8,132.1 328.2,126.5 328.6,125.6 329,129.1 329.4,129.8 329.8,130.6 330.2,123.8 330.6,124 331,125.5 331.4,129.8 331.8,127.8 332.2,123.5 332.6,133.8 333,125 333.4,126.4 333.8,126.5 334.2,123.8 334.6,126.6 335,126.8 335.4,127.4 335.8,127.5 336.2,124.4 336.6,122.8 337,129.9 337.4,125 337.8,129.6 338.2,127.1 338.6,134.9 339,124.7 339.4,118.8 339.8,123.4 340.2,128.5 340.6,130.7 341,129.8 341.4,125.6 341.8,128.6 342.2,118.8 342.6,120 343,118.2 343.4,123.3 343.8,125.4 344.2,120.4 344.6,121.3 345,117.7 345.4,117.6 345.8,118.9 346.2,123.5 346.6,119.3 347,119 347.4,120.6 347.8,118.7 348.2,113.5 348.6,122 349,115 349.4,115.3 349.8,114.8 350.2,117.1 350.6,114.1 351,116.1 351.4,120.9 351.8,111.9 352.2,108.1 352.6,119.5 353,116 353.4,117.7 353.8,117.9 354.2,114.3 354.6,116.5 355,109.9 355.4,116 355.8,116.9 356.2,112.7 356.6,114.7 357,117 357.4,118.9 357.8,117.4 358.2,123.3 358.6,121.2 359,121.8 359.4,112.8 359.8,117.9 360.2,120.3 360.6,118.4 361,120.8 361.4,118.1 361.8,117.3 362.2,120.3 362.6,120.9 363,119.6 363.4,120.6 363.8,124.4 364.2,122.8 364.6,124 365,123.3 365.4,121.6 365.8,120 366.2,127.8 366.6,121.8 367,124.1 367.4,119.1 367.8,116.2 368.2,116.9 368.6,120.1 369,117 369.4,124 369.8,119.6 370.2,119.3 370.6,126.8 371,119.6 371.4,119.2 371.8,130.4 372.2,122.2 372.6,121 373,118.9 373.4,124.9 373.8,124.6 374.2,111.6 374.6,120 375,121 375.4,122 375.8,115.3 376.2,119.7 376.6,125.9 377,123.8 377.4,116 377.8,120.7 378.2,116.9 378.6,122.5 379,109 379.4,122.7 379.8,120.4 380.2,123.2 380.6,115.2 381,118.5 381.4,115.5 381.8,121.2 382.2,120.3 382.6,126.5 383,122.4 383.4,111.7 383.8,120.9 384.2,120.3 384.6,123.6 385,122.5 385.4,117.3 385.8,119.1 386.2,124.3 386.6,117.7 387,121.1 387.4,116.9 387.8,124.8 388.2,125.1 388.6,121.3 389,117.7 389.4,119.5 389.8,120.7 390.2,120.4 390.6,122.7 391,116.6 391.4,117.4 391.8,118.8 392.2,125.4 392.6,118.2 393,123.1 393.4,125.9 393.8,117.7 394.2,116.1 394.6,116.5 395,125 395.4,124.8 395.8,122.7 396.2,120 396.6,124 397,118.4 397.4,125.7 397.8,124.3 398.2,124.3 398.6,129.6 399,120.8 399.4,120.7 399.8,126.4 400.2,128.9 400.6,121.6 401,121.4 401.4,124.7 401.8,127.5 402.2,122.8 402.6,129 403,133.3 403.4,125.3 403.8,123.9 404.2,133.7 404.6,121.2 405,130.1 405.4,129.7 405.8,120.7 406.2,128.6 406.6,131.4 407,124.8 407.4,117.9 407.8,123.5 408.2,133.2 408.6,122.6 409,130 409.4,121.8 409.8,124.7 410.2,123.7 410.6,126.1 411,128.3 411.4,126.8 411.8,123.5 412.2,126.3 412.6,126 413,125.2 413.4,124.6 413.8,124.2 414.2,127.6 414.6,134.4 415,126.9 415.4,127.6 415.8,123.6 416.2,124.6 416.6,131.9 417,125.5 417.4,128.2 417.8,129.8 418.2,124.6 418.6,130.6 419,129.3 419.4,128.8 419.8,123.6 420.2,127.2 420.6,119.8 421,127 421.4,127.1 421.8,125.1" fill="none" stroke="#6a6a6a" stroke-width="1.6" stroke-linejoin="round" stroke-linecap="round"/>
<path d="M237.8,135.3 238.8,135.1 239.8,134.8 240.8,134.6 241.8,134.4 242.8,134.2 243.8,134 244.8,133.9 245.8,133.7 246.8,133.5 247.8,133.2 248.8,132.8 249.8,132.3 250.8,131.6 251.8,130.6 252.8,129.3 253.8,127.8 254.8,126.2 255.8,124.5 256.8,122.9 257.8,121.4 258.8,120 259.8,118.7 260.8,117.3 261.8,115.8 262.8,114.2 263.8,112.4 264.8,110.6 265.8,108.9 266.8,107.4 267.8,106.2 268.8,105.4 269.8,104.8 270.8,104.5 271.8,104.5 272.8,104.7 273.8,105 274.8,105.3 275.8,105.6 276.8,105.9 277.8,106.1 278.8,106.2 279.8,106.2 280.8,106.2 281.8,106.1 282.8,106 283.8,105.8 284.8,105.7 285.8,105.5 286.8,105.4 287.8,105.2 288.8,105.1 289.8,104.9 290.8,104.9 291.8,104.8 292.8,104.8 293.8,104.8 294.8,105 295.8,105.2 296.8,105.5 297.8,105.9 298.8,106.4 299.8,107 300.8,107.7 301.8,108.5 302.8,109.4 303.8,110.4 304.8,111.4 305.8,112.5 306.8,113.6 307.8,114.7 308.8,115.9 309.8,117 310.8,118.1 311.8,119.2 312.8,120.3 313.8,121.2 314.8,122.2 315.8,123 316.8,123.8 317.8,124.5 318.8,125.2 319.8,125.8 320.8,126.3 321.8,126.7 322.8,127 323.8,127.3 324.8,127.5 325.8,127.7 326.8,127.8 327.8,127.9 328.8,128 329.8,128 330.8,127.9 331.8,127.9 332.8,127.8 333.8,127.6 334.8,127.4 335.8,127.2 336.8,126.9 337.8,126.5 338.8,125.9 339.8,125.3 340.8,124.5 341.8,123.6 342.8,122.5 343.8,121.4 344.8,120.2 345.8,119.1 346.8,118 347.8,117 348.8,116.2 349.8,115.7 350.8,115.4 351.8,115.4 352.8,115.6 353.8,116.1 354.8,116.6 355.8,117.3 356.8,118.1 357.8,118.8 358.8,119.5 359.8,120.1 360.8,120.7 361.8,121.1 362.8,121.4 363.8,121.7 364.8,121.9 365.8,122 366.8,122 367.8,122 368.8,121.9 369.8,121.8 370.8,121.6 371.8,121.4 372.8,121.2 373.8,120.9 374.8,120.7 375.8,120.5 376.8,120.3 377.8,120.1 378.8,120 379.8,119.9 380.8,119.9 381.8,119.9 382.8,120 383.8,120.1 384.8,120.3 385.8,120.5 386.8,120.8 387.8,121.1 388.8,121.5 389.8,121.9 390.8,122.3 391.8,122.7 392.8,123.1 393.8,123.5 394.8,124 395.8,124.4 396.8,124.7 397.8,125.1 398.8,125.4 399.8,125.8 400.8,126 401.8,126.3 402.8,126.5 403.8,126.7 404.8,126.9 405.8,127.1 406.8,127.2 407.8,127.3 408.8,127.4 409.8,127.5 410.8,127.5 411.8,127.6 412.8,127.6 413.8,127.6 414.8,127.7 415.8,127.7 416.8,127.7 417.8,127.7 418.8,127.7 419.8,127.6 420.8,127.6 421.8,127.6" fill="none" stroke="#e8312f" stroke-width="2.2" stroke-linejoin="round" stroke-linecap="round"/>
<path d="M237.8,136.9 238.8,136.9 239.8,136.8 240.8,136.7 241.8,136.6 242.8,136.6 243.8,136.5 244.8,136.4 245.8,136.3 246.8,136.2 247.8,136 248.8,135.8 249.8,135.5 250.8,135 251.8,134.3 252.8,133.5 253.8,132.7 254.8,131.8 255.8,131.2 256.8,130.8 257.8,130.9 258.8,131.3 259.8,131.9 260.8,132.6 261.8,133.3 262.8,133.9 263.8,134.3 264.8,134.6 265.8,134.7 266.8,134.7 267.8,134.7 268.8,134.7 269.8,134.6 270.8,134.6 271.8,134.5 272.8,134.4 273.8,134.4 274.8,134.3 275.8,134.2 276.8,134.2 277.8,134.1 278.8,134 279.8,134 280.8,133.9 281.8,133.8 282.8,133.8 283.8,133.7 284.8,133.6 285.8,133.6 286.8,133.5 287.8,133.4 288.8,133.4 289.8,133.3 290.8,133.3 291.8,133.2 292.8,133.1 293.8,133.1 294.8,133 295.8,132.9 296.8,132.9 297.8,132.8 298.8,132.8 299.8,132.7 300.8,132.7 301.8,132.6 302.8,132.5 303.8,132.5 304.8,132.4 305.8,132.4 306.8,132.3 307.8,132.2 308.8,132.2 309.8,132.1 310.8,132.1 311.8,132 312.8,132 313.8,131.9 314.8,131.9 315.8,131.8 316.8,131.8 317.8,131.7 318.8,131.7 319.8,131.6 320.8,131.6 321.8,131.5 322.8,131.4 323.8,131.4 324.8,131.3 325.8,131.3 326.8,131.2 327.8,131.2 328.8,131.2 329.8,131.1 330.8,131.1 331.8,131 332.8,131 333.8,130.9 334.8,130.9 335.8,130.8 336.8,130.8 337.8,130.7 338.8,130.7 339.8,130.6 340.8,130.6 341.8,130.5 342.8,130.5 343.8,130.5 344.8,130.4 345.8,130.4 346.8,130.3 347.8,130.3 348.8,130.2 349.8,130.2 350.8,130.1 351.8,130.1 352.8,130.1 353.8,130 354.8,130 355.8,129.9 356.8,129.9 357.8,129.8 358.8,129.8 359.8,129.8 360.8,129.7 361.8,129.7 362.8,129.6 363.8,129.6 364.8,129.6 365.8,129.5 366.8,129.5 367.8,129.4 368.8,129.4 369.8,129.3 370.8,129.3 371.8,129.3 372.8,129.2 373.8,129.2 374.8,129.2 375.8,129.1 376.8,129.1 377.8,129 378.8,129 379.8,129 380.8,128.9 381.8,128.9 382.8,128.8 383.8,128.8 384.8,128.8 385.8,128.7 386.8,128.7 387.8,128.7 388.8,128.6 389.8,128.6 390.8,128.6 391.8,128.5 392.8,128.5 393.8,128.5 394.8,128.4 395.8,128.4 396.8,128.4 397.8,128.3 398.8,128.3 399.8,128.3 400.8,128.2 401.8,128.2 402.8,128.2 403.8,128.1 404.8,128.1 405.8,128.1 406.8,128 407.8,128 408.8,128 409.8,128 410.8,127.9 411.8,127.9 412.8,127.9 413.8,127.8 414.8,127.8 415.8,127.8 416.8,127.8 417.8,127.7 418.8,127.7 419.8,127.7 420.8,127.7 421.8,127.6" fill="none" stroke="#c040b0" stroke-width="1.9" stroke-linejoin="round" stroke-linecap="round"/>
<path d="M237.8,136.9 238.8,136.9 239.8,136.8 240.8,136.7 241.8,136.6 242.8,136.5 243.8,136.4 244.8,136.3 245.8,136.2 246.8,136.1 247.8,135.9 248.8,135.7 249.8,135.4 250.8,135 251.8,134.5 252.8,133.9 253.8,133.2 254.8,132.2 255.8,131 256.8,129.6 257.8,128 258.8,126.2 259.8,124.2 260.8,122.1 261.8,120 262.8,117.9 263.8,116 264.8,114.4 265.8,113.1 266.8,112.2 267.8,111.8 268.8,111.8 269.8,112.4 270.8,113.4 271.8,114.8 272.8,116.5 273.8,118.4 274.8,120.3 275.8,122.3 276.8,124.2 277.8,125.9 278.8,127.5 279.8,128.9 280.8,130 281.8,130.9 282.8,131.6 283.8,132.1 284.8,132.5 285.8,132.8 286.8,133 287.8,133.1 288.8,133.2 289.8,133.2 290.8,133.2 291.8,133.1 292.8,133.1 293.8,133.1 294.8,133 295.8,132.9 296.8,132.9 297.8,132.8 298.8,132.8 299.8,132.7 300.8,132.7 301.8,132.6 302.8,132.5 303.8,132.5 304.8,132.4 305.8,132.4 306.8,132.3 307.8,132.2 308.8,132.2 309.8,132.1 310.8,132.1 311.8,132 312.8,132 313.8,131.9 314.8,131.9 315.8,131.8 316.8,131.8 317.8,131.7 318.8,131.7 319.8,131.6 320.8,131.6 321.8,131.5 322.8,131.4 323.8,131.4 324.8,131.3 325.8,131.3 326.8,131.2 327.8,131.2 328.8,131.2 329.8,131.1 330.8,131.1 331.8,131 332.8,131 333.8,130.9 334.8,130.9 335.8,130.8 336.8,130.8 337.8,130.7 338.8,130.7 339.8,130.6 340.8,130.6 341.8,130.5 342.8,130.5 343.8,130.5 344.8,130.4 345.8,130.4 346.8,130.3 347.8,130.3 348.8,130.2 349.8,130.2 350.8,130.1 351.8,130.1 352.8,130.1 353.8,130 354.8,130 355.8,129.9 356.8,129.9 357.8,129.8 358.8,129.8 359.8,129.8 360.8,129.7 361.8,129.7 362.8,129.6 363.8,129.6 364.8,129.6 365.8,129.5 366.8,129.5 367.8,129.4 368.8,129.4 369.8,129.3 370.8,129.3 371.8,129.3 372.8,129.2 373.8,129.2 374.8,129.2 375.8,129.1 376.8,129.1 377.8,129 378.8,129 379.8,129 380.8,128.9 381.8,128.9 382.8,128.8 383.8,128.8 384.8,128.8 385.8,128.7 386.8,128.7 387.8,128.7 388.8,128.6 389.8,128.6 390.8,128.6 391.8,128.5 392.8,128.5 393.8,128.5 394.8,128.4 395.8,128.4 396.8,128.4 397.8,128.3 398.8,128.3 399.8,128.3 400.8,128.2 401.8,128.2 402.8,128.2 403.8,128.1 404.8,128.1 405.8,128.1 406.8,128 407.8,128 408.8,128 409.8,128 410.8,127.9 411.8,127.9 412.8,127.9 413.8,127.8 414.8,127.8 415.8,127.8 416.8,127.8 417.8,127.7 418.8,127.7 419.8,127.7 420.8,127.7 421.8,127.6" fill="none" stroke="#1f9a3c" stroke-width="1.9" stroke-linejoin="round" stroke-linecap="round"/>
<path d="M237.8,136.9 238.8,136.9 239.8,136.8 240.8,136.7 241.8,136.6 242.8,136.6 243.8,136.5 244.8,136.4 245.8,136.3 246.8,136.3 247.8,136.2 248.8,136.1 249.8,136 250.8,136 251.8,135.9 252.8,135.8 253.8,135.7 254.8,135.7 255.8,135.6 256.8,135.5 257.8,135.4 258.8,135.3 259.8,135.2 260.8,135 261.8,134.9 262.8,134.7 263.8,134.4 264.8,134.1 265.8,133.8 266.8,133.3 267.8,132.8 268.8,132.2 269.8,131.6 270.8,130.8 271.8,130.1 272.8,129.2 273.8,128.4 274.8,127.6 275.8,126.9 276.8,126.2 277.8,125.7 278.8,125.3 279.8,125.2 280.8,125.1 281.8,125.3 282.8,125.6 283.8,126.1 284.8,126.7 285.8,127.3 286.8,128 287.8,128.7 288.8,129.4 289.8,130 290.8,130.6 291.8,131.1 292.8,131.5 293.8,131.8 294.8,132.1 295.8,132.3 296.8,132.4 297.8,132.5 298.8,132.5 299.8,132.5 300.8,132.5 301.8,132.5 302.8,132.5 303.8,132.4 304.8,132.4 305.8,132.4 306.8,132.3 307.8,132.2 308.8,132.2 309.8,132.1 310.8,132.1 311.8,132 312.8,132 313.8,131.9 314.8,131.9 315.8,131.8 316.8,131.8 317.8,131.7 318.8,131.7 319.8,131.6 320.8,131.6 321.8,131.5 322.8,131.4 323.8,131.4 324.8,131.3 325.8,131.3 326.8,131.2 327.8,131.2 328.8,131.2 329.8,131.1 330.8,131.1 331.8,131 332.8,131 333.8,130.9 334.8,130.9 335.8,130.8 336.8,130.8 337.8,130.7 338.8,130.7 339.8,130.6 340.8,130.6 341.8,130.5 342.8,130.5 343.8,130.5 344.8,130.4 345.8,130.4 346.8,130.3 347.8,130.3 348.8,130.2 349.8,130.2 350.8,130.1 351.8,130.1 352.8,130.1 353.8,130 354.8,130 355.8,129.9 356.8,129.9 357.8,129.8 358.8,129.8 359.8,129.8 360.8,129.7 361.8,129.7 362.8,129.6 363.8,129.6 364.8,129.6 365.8,129.5 366.8,129.5 367.8,129.4 368.8,129.4 369.8,129.3 370.8,129.3 371.8,129.3 372.8,129.2 373.8,129.2 374.8,129.2 375.8,129.1 376.8,129.1 377.8,129 378.8,129 379.8,129 380.8,128.9 381.8,128.9 382.8,128.8 383.8,128.8 384.8,128.8 385.8,128.7 386.8,128.7 387.8,128.7 388.8,128.6 389.8,128.6 390.8,128.6 391.8,128.5 392.8,128.5 393.8,128.5 394.8,128.4 395.8,128.4 396.8,128.4 397.8,128.3 398.8,128.3 399.8,128.3 400.8,128.2 401.8,128.2 402.8,128.2 403.8,128.1 404.8,128.1 405.8,128.1 406.8,128 407.8,128 408.8,128 409.8,128 410.8,127.9 411.8,127.9 412.8,127.9 413.8,127.8 414.8,127.8 415.8,127.8 416.8,127.8 417.8,127.7 418.8,127.7 419.8,127.7 420.8,127.7 421.8,127.6" fill="none" stroke="#7b52bb" stroke-width="1.9" stroke-linejoin="round" stroke-linecap="round"/>
<path d="M237.8,136.9 238.8,136.9 239.8,136.8 240.8,136.7 241.8,136.6 242.8,136.6 243.8,136.5 244.8,136.4 245.8,136.3 246.8,136.2 247.8,136.2 248.8,136.1 249.8,136 250.8,135.9 251.8,135.8 252.8,135.7 253.8,135.6 254.8,135.5 255.8,135.3 256.8,135.2 257.8,135 258.8,134.9 259.8,134.7 260.8,134.5 261.8,134.2 262.8,134 263.8,133.7 264.8,133.3 265.8,132.9 266.8,132.5 267.8,132 268.8,131.4 269.8,130.8 270.8,130.2 271.8,129.5 272.8,128.7 273.8,127.8 274.8,126.9 275.8,125.9 276.8,124.9 277.8,123.8 278.8,122.7 279.8,121.5 280.8,120.3 281.8,119.1 282.8,117.9 283.8,116.7 284.8,115.5 285.8,114.3 286.8,113.3 287.8,112.3 288.8,111.3 289.8,110.5 290.8,109.8 291.8,109.2 292.8,108.8 293.8,108.5 294.8,108.3 295.8,108.3 296.8,108.4 297.8,108.7 298.8,109.1 299.8,109.6 300.8,110.3 301.8,111.1 302.8,111.9 303.8,112.8 304.8,113.8 305.8,114.9 306.8,115.9 307.8,117 308.8,118.1 309.8,119.2 310.8,120.3 311.8,121.3 312.8,122.3 313.8,123.2 314.8,124.1 315.8,124.9 316.8,125.7 317.8,126.4 318.8,127 319.8,127.6 320.8,128.1 321.8,128.5 322.8,128.9 323.8,129.3 324.8,129.6 325.8,129.8 326.8,130 327.8,130.2 328.8,130.3 329.8,130.4 330.8,130.5 331.8,130.6 332.8,130.6 333.8,130.6 334.8,130.6 335.8,130.6 336.8,130.6 337.8,130.6 338.8,130.6 339.8,130.6 340.8,130.5 341.8,130.5 342.8,130.5 343.8,130.4 344.8,130.4 345.8,130.4 346.8,130.3 347.8,130.3 348.8,130.2 349.8,130.2 350.8,130.1 351.8,130.1 352.8,130.1 353.8,130 354.8,130 355.8,129.9 356.8,129.9 357.8,129.8 358.8,129.8 359.8,129.8 360.8,129.7 361.8,129.7 362.8,129.6 363.8,129.6 364.8,129.6 365.8,129.5 366.8,129.5 367.8,129.4 368.8,129.4 369.8,129.3 370.8,129.3 371.8,129.3 372.8,129.2 373.8,129.2 374.8,129.2 375.8,129.1 376.8,129.1 377.8,129 378.8,129 379.8,129 380.8,128.9 381.8,128.9 382.8,128.8 383.8,128.8 384.8,128.8 385.8,128.7 386.8,128.7 387.8,128.7 388.8,128.6 389.8,128.6 390.8,128.6 391.8,128.5 392.8,128.5 393.8,128.5 394.8,128.4 395.8,128.4 396.8,128.4 397.8,128.3 398.8,128.3 399.8,128.3 400.8,128.2 401.8,128.2 402.8,128.2 403.8,128.1 404.8,128.1 405.8,128.1 406.8,128 407.8,128 408.8,128 409.8,128 410.8,127.9 411.8,127.9 412.8,127.9 413.8,127.8 414.8,127.8 415.8,127.8 416.8,127.8 417.8,127.7 418.8,127.7 419.8,127.7 420.8,127.7 421.8,127.6" fill="none" stroke="#8c1f22" stroke-width="1.9" stroke-linejoin="round" stroke-linecap="round"/>
<path d="M237.8,136.9 238.8,136.9 239.8,136.8 240.8,136.7 241.8,136.6 242.8,136.6 243.8,136.5 244.8,136.4 245.8,136.3 246.8,136.3 247.8,136.2 248.8,136.1 249.8,136 250.8,136 251.8,135.9 252.8,135.8 253.8,135.7 254.8,135.7 255.8,135.6 256.8,135.5 257.8,135.5 258.8,135.4 259.8,135.3 260.8,135.2 261.8,135.2 262.8,135.1 263.8,135 264.8,135 265.8,134.9 266.8,134.8 267.8,134.8 268.8,134.7 269.8,134.6 270.8,134.6 271.8,134.5 272.8,134.4 273.8,134.4 274.8,134.3 275.8,134.2 276.8,134.2 277.8,134.1 278.8,134 279.8,134 280.8,133.9 281.8,133.8 282.8,133.8 283.8,133.7 284.8,133.6 285.8,133.6 286.8,133.5 287.8,133.4 288.8,133.4 289.8,133.3 290.8,133.3 291.8,133.2 292.8,133.1 293.8,133.1 294.8,133 295.8,132.9 296.8,132.9 297.8,132.8 298.8,132.8 299.8,132.7 300.8,132.7 301.8,132.6 302.8,132.5 303.8,132.5 304.8,132.4 305.8,132.4 306.8,132.3 307.8,132.2 308.8,132.2 309.8,132.1 310.8,132.1 311.8,132 312.8,132 313.8,131.9 314.8,131.9 315.8,131.8 316.8,131.8 317.8,131.7 318.8,131.7 319.8,131.6 320.8,131.5 321.8,131.5 322.8,131.4 323.8,131.4 324.8,131.3 325.8,131.3 326.8,131.2 327.8,131.2 328.8,131.1 329.8,131.1 330.8,131 331.8,130.9 332.8,130.8 333.8,130.7 334.8,130.5 335.8,130.2 336.8,129.9 337.8,129.5 338.8,129 339.8,128.4 340.8,127.6 341.8,126.8 342.8,125.8 343.8,124.8 344.8,123.8 345.8,122.9 346.8,122 347.8,121.3 348.8,120.8 349.8,120.6 350.8,120.6 351.8,120.9 352.8,121.4 353.8,122.2 354.8,123 355.8,123.9 356.8,124.8 357.8,125.7 358.8,126.5 359.8,127.2 360.8,127.8 361.8,128.3 362.8,128.6 363.8,128.9 364.8,129.1 365.8,129.2 366.8,129.3 367.8,129.3 368.8,129.3 369.8,129.3 370.8,129.3 371.8,129.3 372.8,129.2 373.8,129.2 374.8,129.2 375.8,129.1 376.8,129.1 377.8,129 378.8,129 379.8,129 380.8,128.9 381.8,128.9 382.8,128.8 383.8,128.8 384.8,128.8 385.8,128.7 386.8,128.7 387.8,128.7 388.8,128.6 389.8,128.6 390.8,128.6 391.8,128.5 392.8,128.5 393.8,128.5 394.8,128.4 395.8,128.4 396.8,128.4 397.8,128.3 398.8,128.3 399.8,128.3 400.8,128.2 401.8,128.2 402.8,128.2 403.8,128.1 404.8,128.1 405.8,128.1 406.8,128 407.8,128 408.8,128 409.8,128 410.8,127.9 411.8,127.9 412.8,127.9 413.8,127.8 414.8,127.8 415.8,127.8 416.8,127.8 417.8,127.7 418.8,127.7 419.8,127.7 420.8,127.7 421.8,127.6" fill="none" stroke="#1f9a3c" stroke-width="1.9" stroke-linejoin="round" stroke-linecap="round"/>
<path d="M237.8,136.9 238.8,136.9 239.8,136.8 240.8,136.7 241.8,136.6 242.8,136.6 243.8,136.5 244.8,136.4 245.8,136.3 246.8,136.3 247.8,136.2 248.8,136.1 249.8,136 250.8,136 251.8,135.9 252.8,135.8 253.8,135.7 254.8,135.7 255.8,135.6 256.8,135.5 257.8,135.5 258.8,135.4 259.8,135.3 260.8,135.2 261.8,135.2 262.8,135.1 263.8,135 264.8,135 265.8,134.9 266.8,134.8 267.8,134.8 268.8,134.7 269.8,134.6 270.8,134.6 271.8,134.5 272.8,134.4 273.8,134.4 274.8,134.3 275.8,134.2 276.8,134.2 277.8,134.1 278.8,134 279.8,134 280.8,133.9 281.8,133.8 282.8,133.8 283.8,133.7 284.8,133.6 285.8,133.6 286.8,133.5 287.8,133.4 288.8,133.4 289.8,133.3 290.8,133.3 291.8,133.2 292.8,133.1 293.8,133.1 294.8,133 295.8,132.9 296.8,132.9 297.8,132.8 298.8,132.8 299.8,132.7 300.8,132.7 301.8,132.6 302.8,132.5 303.8,132.5 304.8,132.4 305.8,132.4 306.8,132.3 307.8,132.2 308.8,132.2 309.8,132.1 310.8,132.1 311.8,132 312.8,132 313.8,131.9 314.8,131.9 315.8,131.8 316.8,131.8 317.8,131.7 318.8,131.7 319.8,131.6 320.8,131.6 321.8,131.5 322.8,131.4 323.8,131.4 324.8,131.3 325.8,131.3 326.8,131.2 327.8,131.2 328.8,131.2 329.8,131.1 330.8,131.1 331.8,131 332.8,131 333.8,130.9 334.8,130.9 335.8,130.8 336.8,130.8 337.8,130.7 338.8,130.6 339.8,130.6 340.8,130.5 341.8,130.4 342.8,130.3 343.8,130.2 344.8,130 345.8,129.9 346.8,129.6 347.8,129.4 348.8,129.1 349.8,128.8 350.8,128.5 351.8,128.1 352.8,127.7 353.8,127.3 354.8,126.9 355.8,126.6 356.8,126.3 357.8,126 358.8,125.9 359.8,125.8 360.8,125.7 361.8,125.8 362.8,125.9 363.8,126.1 364.8,126.4 365.8,126.7 366.8,127 367.8,127.3 368.8,127.6 369.8,127.8 370.8,128.1 371.8,128.3 372.8,128.5 373.8,128.6 374.8,128.7 375.8,128.8 376.8,128.9 377.8,128.9 378.8,128.9 379.8,128.9 380.8,128.9 381.8,128.9 382.8,128.8 383.8,128.8 384.8,128.8 385.8,128.7 386.8,128.7 387.8,128.7 388.8,128.6 389.8,128.6 390.8,128.6 391.8,128.5 392.8,128.5 393.8,128.5 394.8,128.4 395.8,128.4 396.8,128.4 397.8,128.3 398.8,128.3 399.8,128.3 400.8,128.2 401.8,128.2 402.8,128.2 403.8,128.1 404.8,128.1 405.8,128.1 406.8,128 407.8,128 408.8,128 409.8,128 410.8,127.9 411.8,127.9 412.8,127.9 413.8,127.8 414.8,127.8 415.8,127.8 416.8,127.8 417.8,127.7 418.8,127.7 419.8,127.7 420.8,127.7 421.8,127.6" fill="none" stroke="#7b52bb" stroke-width="1.9" stroke-linejoin="round" stroke-linecap="round"/>
<path d="M237.8,136.9 238.8,136.9 239.8,136.8 240.8,136.7 241.8,136.6 242.8,136.6 243.8,136.5 244.8,136.4 245.8,136.3 246.8,136.3 247.8,136.2 248.8,136.1 249.8,136 250.8,136 251.8,135.9 252.8,135.8 253.8,135.7 254.8,135.7 255.8,135.6 256.8,135.5 257.8,135.5 258.8,135.4 259.8,135.3 260.8,135.2 261.8,135.2 262.8,135.1 263.8,135 264.8,135 265.8,134.9 266.8,134.8 267.8,134.8 268.8,134.7 269.8,134.6 270.8,134.6 271.8,134.5 272.8,134.4 273.8,134.4 274.8,134.3 275.8,134.2 276.8,134.2 277.8,134.1 278.8,134 279.8,134 280.8,133.9 281.8,133.8 282.8,133.8 283.8,133.7 284.8,133.6 285.8,133.6 286.8,133.5 287.8,133.4 288.8,133.4 289.8,133.3 290.8,133.3 291.8,133.2 292.8,133.1 293.8,133.1 294.8,133 295.8,132.9 296.8,132.9 297.8,132.8 298.8,132.8 299.8,132.7 300.8,132.7 301.8,132.6 302.8,132.5 303.8,132.5 304.8,132.4 305.8,132.4 306.8,132.3 307.8,132.2 308.8,132.2 309.8,132.1 310.8,132.1 311.8,132 312.8,132 313.8,131.9 314.8,131.9 315.8,131.8 316.8,131.8 317.8,131.7 318.8,131.7 319.8,131.6 320.8,131.5 321.8,131.5 322.8,131.4 323.8,131.4 324.8,131.3 325.8,131.3 326.8,131.2 327.8,131.2 328.8,131.2 329.8,131.1 330.8,131.1 331.8,131 332.8,131 333.8,130.9 334.8,130.9 335.8,130.8 336.8,130.8 337.8,130.7 338.8,130.7 339.8,130.6 340.8,130.6 341.8,130.5 342.8,130.4 343.8,130.4 344.8,130.3 345.8,130.2 346.8,130.2 347.8,130.1 348.8,130 349.8,129.9 350.8,129.7 351.8,129.6 352.8,129.4 353.8,129.3 354.8,129.1 355.8,128.9 356.8,128.6 357.8,128.4 358.8,128.1 359.8,127.8 360.8,127.4 361.8,127 362.8,126.6 363.8,126.2 364.8,125.8 365.8,125.3 366.8,124.8 367.8,124.3 368.8,123.8 369.8,123.3 370.8,122.9 371.8,122.4 372.8,121.9 373.8,121.5 374.8,121.1 375.8,120.8 376.8,120.5 377.8,120.3 378.8,120.1 379.8,120 380.8,119.9 381.8,119.9 382.8,120 383.8,120.1 384.8,120.3 385.8,120.5 386.8,120.8 387.8,121.2 388.8,121.5 389.8,121.9 390.8,122.3 391.8,122.7 392.8,123.1 393.8,123.5 394.8,124 395.8,124.4 396.8,124.7 397.8,125.1 398.8,125.4 399.8,125.8 400.8,126 401.8,126.3 402.8,126.5 403.8,126.7 404.8,126.9 405.8,127.1 406.8,127.2 407.8,127.3 408.8,127.4 409.8,127.5 410.8,127.5 411.8,127.6 412.8,127.6 413.8,127.6 414.8,127.7 415.8,127.7 416.8,127.7 417.8,127.7 418.8,127.7 419.8,127.6 420.8,127.6 421.8,127.6" fill="none" stroke="#8c1f22" stroke-width="1.9" stroke-linejoin="round" stroke-linecap="round"/>
<path d="M237.8,136.9 238.8,136.9 239.8,136.8 240.8,136.7 241.8,136.6 242.8,136.6 243.8,136.5 244.8,136.4 245.8,136.3 246.8,136.3 247.8,136.2 248.8,136.1 249.8,136 250.8,136 251.8,135.9 252.8,135.8 253.8,135.7 254.8,135.7 255.8,135.6 256.8,135.5 257.8,135.5 258.8,135.4 259.8,135.3 260.8,135.2 261.8,135.2 262.8,135.1 263.8,135 264.8,135 265.8,134.9 266.8,134.8 267.8,134.8 268.8,134.7 269.8,134.6 270.8,134.6 271.8,134.5 272.8,134.4 273.8,134.4 274.8,134.3 275.8,134.2 276.8,134.2 277.8,134.1 278.8,134 279.8,134 280.8,133.9 281.8,133.8 282.8,133.8 283.8,133.7 284.8,133.6 285.8,133.6 286.8,133.5 287.8,133.4 288.8,133.4 289.8,133.3 290.8,133.3 291.8,133.2 292.8,133.1 293.8,133.1 294.8,133 295.8,132.9 296.8,132.9 297.8,132.8 298.8,132.8 299.8,132.7 300.8,132.7 301.8,132.6 302.8,132.5 303.8,132.5 304.8,132.4 305.8,132.4 306.8,132.3 307.8,132.2 308.8,132.2 309.8,132.1 310.8,132.1 311.8,132 312.8,132 313.8,131.9 314.8,131.9 315.8,131.8 316.8,131.8 317.8,131.7 318.8,131.7 319.8,131.6 320.8,131.6 321.8,131.5 322.8,131.4 323.8,131.4 324.8,131.3 325.8,131.3 326.8,131.2 327.8,131.2 328.8,131.2 329.8,131.1 330.8,131.1 331.8,131 332.8,131 333.8,130.9 334.8,130.9 335.8,130.8 336.8,130.8 337.8,130.7 338.8,130.7 339.8,130.6 340.8,130.6 341.8,130.5 342.8,130.5 343.8,130.5 344.8,130.4 345.8,130.4 346.8,130.3 347.8,130.3 348.8,130.2 349.8,130.2 350.8,130.1 351.8,130.1 352.8,130.1 353.8,130 354.8,130 355.8,129.9 356.8,129.9 357.8,129.8 358.8,129.8 359.8,129.8 360.8,129.7 361.8,129.7 362.8,129.6 363.8,129.6 364.8,129.6 365.8,129.5 366.8,129.5 367.8,129.4 368.8,129.4 369.8,129.3 370.8,129.3 371.8,129.3 372.8,129.2 373.8,129.2 374.8,129.2 375.8,129.1 376.8,129.1 377.8,129 378.8,129 379.8,129 380.8,128.9 381.8,128.9 382.8,128.8 383.8,128.8 384.8,128.8 385.8,128.7 386.8,128.7 387.8,128.7 388.8,128.6 389.8,128.6 390.8,128.6 391.8,128.5 392.8,128.5 393.8,128.5 394.8,128.4 395.8,128.4 396.8,128.4 397.8,128.3 398.8,128.3 399.8,128.3 400.8,128.2 401.8,128.2 402.8,128.2 403.8,128.1 404.8,128.1 405.8,128.1 406.8,128 407.8,128 408.8,128 409.8,128 410.8,127.9 411.8,127.9 412.8,127.9 413.8,127.8 414.8,127.8 415.8,127.8 416.8,127.8 417.8,127.7 418.8,127.7 419.8,127.7 420.8,127.7 421.8,127.6" fill="none" stroke="#8c1f22" stroke-width="1.9" stroke-linejoin="round" stroke-linecap="round"/>
<rect x="236.8" y="10.6" width="186.2" height="135.4" fill="none" stroke="#111" stroke-width="1.6"/>
<line x1="247.3" y1="146.0" x2="247.3" y2="148.5" stroke="#111" stroke-width="1"/>
<line x1="273.2" y1="146.0" x2="273.2" y2="148.5" stroke="#111" stroke-width="1"/>
<line x1="299" y1="146.0" x2="299" y2="148.5" stroke="#111" stroke-width="1"/>
<line x1="324.9" y1="146.0" x2="324.9" y2="148.5" stroke="#111" stroke-width="1"/>
<line x1="350.7" y1="146.0" x2="350.7" y2="148.5" stroke="#111" stroke-width="1"/>
<line x1="376.6" y1="146.0" x2="376.6" y2="148.5" stroke="#111" stroke-width="1"/>
<line x1="402.4" y1="146.0" x2="402.4" y2="148.5" stroke="#111" stroke-width="1"/>
<line x1="260.2" y1="146.0" x2="260.2" y2="147.5" stroke="#111" stroke-width="1"/>
<line x1="286.1" y1="146.0" x2="286.1" y2="147.5" stroke="#111" stroke-width="1"/>
<line x1="311.9" y1="146.0" x2="311.9" y2="147.5" stroke="#111" stroke-width="1"/>
<line x1="337.8" y1="146.0" x2="337.8" y2="147.5" stroke="#111" stroke-width="1"/>
<line x1="363.6" y1="146.0" x2="363.6" y2="147.5" stroke="#111" stroke-width="1"/>
<line x1="389.5" y1="146.0" x2="389.5" y2="147.5" stroke="#111" stroke-width="1"/>
<line x1="415.3" y1="146.0" x2="415.3" y2="147.5" stroke="#111" stroke-width="1"/>
<text transform="translate(247.3,159.8) scale(1.09,1)" font-size="11.5" text-anchor="middle">790</text>
<text transform="translate(273.2,159.8) scale(1.09,1)" font-size="11.5" text-anchor="middle">795</text>
<text transform="translate(299,159.8) scale(1.09,1)" font-size="11.5" text-anchor="middle">800</text>
<text transform="translate(324.9,159.8) scale(1.09,1)" font-size="11.5" text-anchor="middle">805</text>
<text transform="translate(350.7,159.8) scale(1.09,1)" font-size="11.5" text-anchor="middle">810</text>
<text transform="translate(376.6,159.8) scale(1.09,1)" font-size="11.5" text-anchor="middle">815</text>
<text transform="translate(402.4,159.8) scale(1.09,1)" font-size="11.5" text-anchor="middle">820</text>
<text transform="translate(281.1,169.6) scale(1.14,1)" font-size="11" text-anchor="start">Binding energy (eV)</text>
<text transform="translate(232.4,108) rotate(-90)" font-size="11">Intensity (a.u.)</text>
<text transform="translate(221,20) scale(0.97,1)" font-size="12" text-anchor="start">(b)</text>
<text transform="translate(239,20.5) scale(1.09,1)" font-size="9" text-anchor="start">Co 2p</text>
<text transform="translate(270.7,21.5) scale(1.09,1)" font-size="9.3" text-anchor="start">2p<tspan dy="2.5" font-size="6.5">3/2</tspan></text>
<text transform="translate(239,36) scale(1.09,1)" font-size="9" text-anchor="start">Co<tspan dy="-4.6" font-size="6.8">3+</tspan></text>
<text transform="translate(291,33) scale(1.09,1)" font-size="9" text-anchor="start">Co<tspan dy="-4.6" font-size="6.8">2+</tspan></text>
<text transform="translate(359.6,31) scale(1.09,1)" font-size="9.3" text-anchor="start">2p<tspan dy="2.5" font-size="6.5">1/2</tspan></text>
<text transform="translate(370,51) scale(1.09,1)" font-size="9" text-anchor="start">FeCoNi-OH</text>
<text transform="translate(240.8,115) scale(1.09,1)" font-size="9" text-anchor="start">Co-S</text>
<text transform="translate(336,97) scale(1.09,1)" font-size="8.5" text-anchor="start">Sat.</text>
<text transform="translate(377.5,108.6) scale(1.09,1)" font-size="9" text-anchor="start">FeCoNi-S<tspan dy="2.5" font-size="6.5">2</tspan></text>
<line x1="253" y1="37" x2="260.4" y2="43.7" stroke="#333" stroke-width="0.7"/>
<polygon points="263,46 259.4,44.8 261.4,42.5" fill="#111"/>
<line x1="289.6" y1="34" x2="282.3" y2="52.7" stroke="#333" stroke-width="0.7"/>
<polygon points="281,56 280.9,52.2 283.7,53.3" fill="#111"/>
<line x1="246.5" y1="117" x2="252.2" y2="126.7" stroke="#333" stroke-width="0.7"/>
<polygon points="254,129.7 250.9,127.4 253.5,125.9" fill="#111"/>
<line x1="342" y1="99" x2="307.4" y2="106.8" stroke="#333" stroke-width="0.7"/>
<polygon points="304,107.6 307.1,105.4 307.7,108.3" fill="#111"/>
<line x1="345" y1="99" x2="372.2" y2="112" stroke="#333" stroke-width="0.7"/>
<polygon points="375.4,113.5 371.6,113.3 372.9,110.6" fill="#111"/>
<path d="M34.2,239.4 34.8,235.3 35.4,236.3 36,237 36.6,234.7 37.2,236.2 37.8,236.2 38.4,232.9 39,238.1 39.6,237.3 40.2,235 40.8,235.8 41.4,237.1 42,235.6 42.6,235.6 43.2,233.3 43.8,237.1 44.4,236.2 45,236.4 45.6,232.8 46.2,238.8 46.8,235.7 47.4,234.4 48,238.7 48.6,234.3 49.2,231 49.8,232.4 50.4,227.8 51,233.6 51.6,229.5 52.2,227.5 52.8,229.8 53.4,222.2 54,225.1 54.6,216.9 55.2,217.9 55.8,213.9 56.4,217.9 57,216 57.6,207.5 58.2,207.8 58.8,201.9 59.4,201.3 60,194.5 60.6,189 61.2,186.2 61.8,191.5 62.4,196.1 63,188.5 63.6,185.2 64.2,193.1 64.8,187.9 65.4,188.1 66,189.8 66.6,190.2 67.2,191.4 67.8,190.1 68.4,198.5 69,199.1 69.6,205.4 70.2,203.4 70.8,201.7 71.4,209 72,215.8 72.6,212.3 73.2,212.9 73.8,213.6 74.4,215.3 75,218.1 75.6,216.9 76.2,223.8 76.8,220.2 77.4,221.4 78,224.6 78.6,224.9 79.2,221 79.8,222.1 80.4,222.9 81,220.5 81.6,216.5 82.2,221.8 82.8,221.9 83.4,220.3 84,216.5 84.6,217.7 85.2,216.1 85.8,216.2 86.4,219.5 87,219.5 87.6,216.8 88.2,215.9 88.8,215.7 89.4,213.5 90,212.9 90.6,211 91.2,212.3 91.8,218.2 92.4,214.5 93,211.2 93.6,210.9 94.2,210 94.8,213.4 95.4,213.7 96,209.3 96.6,214.6 97.2,212.4 97.8,218 98.4,215.3 99,219.8 99.6,215 100.2,216.1 100.8,218.3 101.4,220.8 102,220.4 102.6,216.9 103.2,221 103.8,221.4 104.4,221.1 105,221.4 105.6,227.5 106.2,223.4 106.8,223.1 107.4,227.1 108,226.6 108.6,226.8 109.2,229.2 109.8,229.1 110.4,229.4 111,231.1 111.6,230.1 112.2,228.7 112.8,229.7 113.4,229.7 114,231.5 114.6,229.3 115.2,228.1 115.8,232.1 116.4,229.6 117,228.6 117.6,233.4 118.2,231.5 118.8,234 119.4,232.2 120,231.2 120.6,231.1 121.2,232.7 121.8,233.3 122.4,232.3 123,233.5 123.6,231.2 124.2,234.3 124.8,230.9 125.4,234.1 126,235.9 126.6,236.8 127.2,238 127.8,231.9 128.4,236.4 129,237.3 129.6,237 130.2,233.4 130.8,236.1 131.4,238.9 132,232.6 132.6,236.4 133.2,237.7 133.8,234.3 134.4,236.7 135,233.6 135.6,234.1 136.2,234.1 136.8,236 137.4,235.5 138,237.4 138.6,233.7 139.2,235.1 139.8,236.9 140.4,235.9 141,231.8 141.6,235.2 142.2,232.4 142.8,233.3 143.4,232.3 144,233.2 144.6,229.7 145.2,224.2 145.8,223.7 146.4,226.8 147,222.9 147.6,224.5 148.2,220.8 148.8,216.8 149.4,219.7 150,213.7 150.6,209.4 151.2,218.9 151.8,208.2 152.4,214.5 153,215.3 153.6,213.6 154.2,209.5 154.8,217.3 155.4,212.2 156,213.8 156.6,217.7 157.2,221.8 157.8,222.2 158.4,224.7 159,223.3 159.6,225.1 160.2,224.2 160.8,226.9 161.4,229.6 162,228.4 162.6,230.5 163.2,228.7 163.8,228.9 164.4,230.3 165,229.8 165.6,231.3 166.2,230.3 166.8,233.2 167.4,229.1 168,228.8 168.6,226.9 169.2,228.8 169.8,229.8 170.4,226.6 171,227.7 171.6,229 172.2,227 172.8,225.9 173.4,228.7 174,226.6 174.6,227 175.2,228.5 175.8,228.2 176.4,224.8 177,224.2 177.6,225.8 178.2,224.8 178.8,220.8 179.4,227.6 180,224.7 180.6,226.2 181.2,221.9 181.8,227.3 182.4,223.2 183,224.2 183.6,221.4 184.2,224.1 184.8,224.1 185.4,224.3 186,225.8 186.6,225.1 187.2,227.2 187.8,224.2 188.4,223.3 189,225.7 189.6,227.3 190.2,229 190.8,228.3 191.4,223 192,228 192.6,230.6 193.2,228 193.8,227.1 194.4,229.2 195,227.8 195.6,230.6 196.2,229.6 196.8,232.9 197.4,231.4 198,229.2 198.6,232.3 199.2,233.3 199.8,230.6 200.4,231.2 201,227.7 201.6,234.5 202.2,231.8 202.8,229 203.4,230 204,233.3 204.6,235.4 205.2,234 205.8,235.3 206.4,232.4 207,232.1 207.6,236.6 208.2,236 208.8,235.1 209.4,237.7 210,233.5 210.6,234.7 211.2,237.5 211.8,239.2 212.4,235.7 213,239" fill="none" stroke="#6a6a6a" stroke-width="1.4" stroke-linejoin="round" stroke-linecap="round"/>
<path d="M34.2,237 35.2,237 36.2,237 37.2,237 38.2,237 39.2,237 40.2,237 41.2,237 42.2,236.9 43.2,236.9 44.2,236.8 45.2,236.6 46.2,236.4 47.2,236 48.2,235.5 49.2,234.7 50.2,233.5 51.2,232 52.2,229.9 53.2,227.3 54.2,224.1 55.2,220.2 56.2,215.9 57.2,211.1 58.2,206.2 59.2,201.3 60.2,196.7 61.2,192.8 62.2,189.8 63.2,188 64.2,187.5 65.2,188.2 66.2,190.3 67.2,193.3 68.2,197.2 69.2,201.5 70.2,206 71.2,210.4 72.2,214.4 73.2,217.8 74.2,220.6 75.2,222.7 76.2,224.1 77.2,224.9 78.2,225.1 79.2,224.9 80.2,224.3 81.2,223.4 82.2,222.4 83.2,221.2 84.2,219.9 85.2,218.7 86.2,217.5 87.2,216.4 88.2,215.4 89.2,214.5 90.2,213.8 91.2,213.3 92.2,213.1 93.2,213 94.2,213.2 95.2,213.5 96.2,214.1 97.2,214.8 98.2,215.8 99.2,216.8 100.2,218 101.2,219.3 102.2,220.7 103.2,222 104.2,223.4 105.2,224.8 106.2,226.1 107.2,227.4 108.2,228.6 109.2,229.7 110.2,230.7 111.2,231.7 112.2,232.5 113.2,233.2 114.2,233.9 115.2,234.4 116.2,234.9 117.2,235.3 118.2,235.7 119.2,235.9 120.2,236.2 121.2,236.3 122.2,236.5 123.2,236.6 124.2,236.7 125.2,236.8 126.2,236.8 127.2,236.9 128.2,236.9 129.2,236.9 130.2,237 131.2,237 132.2,237 133.2,237 134.2,237 135.2,236.9 136.2,236.9 137.2,236.8 138.2,236.6 139.2,236.3 140.2,235.9 141.2,235.2 142.2,234.2 143.2,232.9 144.2,231.2 145.2,229.1 146.2,226.6 147.2,223.9 148.2,221.1 149.2,218.4 150.2,216.2 151.2,214.7 152.2,213.9 153.2,214.1 154.2,215.1 155.2,216.8 156.2,219.2 157.2,221.8 158.2,224.4 159.2,226.9 160.2,229.1 161.2,230.9 162.2,232.2 163.2,233.1 164.2,233.7 165.2,233.9 166.2,233.9 167.2,233.7 168.2,233.4 169.2,233 170.2,232.5 171.2,232 172.2,231.4 173.2,230.8 174.2,230.2 175.2,229.6 176.2,229 177.2,228.4 178.2,227.9 179.2,227.4 180.2,227 181.2,226.6 182.2,226.4 183.2,226.1 184.2,226 185.2,226 186.2,226.1 187.2,226.2 188.2,226.5 189.2,226.8 190.2,227.2 191.2,227.6 192.2,228.1 193.2,228.7 194.2,229.2 195.2,229.8 196.2,230.4 197.2,231.1 198.2,231.6 199.2,232.2 200.2,232.8 201.2,233.3 202.2,233.8 203.2,234.2 204.2,234.6 205.2,235 206.2,235.3 207.2,235.6 208.2,235.8 209.2,236 210.2,236.2 211.2,236.4 212.2,236.5 213.2,236.6" fill="none" stroke="#e8312f" stroke-width="2.2" stroke-linejoin="round" stroke-linecap="round"/>
<path d="M34.2,237 35.2,237 36.2,237 37.2,237 38.2,237 39.2,237 40.2,237 41.2,237 42.2,236.9 43.2,236.9 44.2,236.8 45.2,236.6 46.2,236.4 47.2,236 48.2,235.5 49.2,234.7 50.2,233.5 51.2,232 52.2,229.9 53.2,227.3 54.2,224.1 55.2,220.3 56.2,216 57.2,211.2 58.2,206.3 59.2,201.4 60.2,196.9 61.2,193.1 62.2,190.2 63.2,188.4 64.2,188 65.2,189 66.2,191.2 67.2,194.5 68.2,198.6 69.2,203.3 70.2,208.3 71.2,213.1 72.2,217.7 73.2,221.9 74.2,225.4 75.2,228.4 76.2,230.8 77.2,232.6 78.2,234 79.2,235 80.2,235.7 81.2,236.2 82.2,236.5 83.2,236.7 84.2,236.8 85.2,236.9 86.2,236.9 87.2,237 88.2,237 89.2,237 90.2,237 91.2,237 92.2,237 93.2,237 94.2,237 95.2,237 96.2,237 97.2,237 98.2,237 99.2,237 100.2,237 101.2,237 102.2,237 103.2,237 104.2,237 105.2,237 106.2,237 107.2,237 108.2,237 109.2,237 110.2,237 111.2,237 112.2,237 113.2,237 114.2,237 115.2,237 116.2,237 117.2,237 118.2,237 119.2,237 120.2,237 121.2,237 122.2,237 123.2,237 124.2,237 125.2,237 126.2,237 127.2,237 128.2,237 129.2,237 130.2,237 131.2,237 132.2,237 133.2,237 134.2,237 135.2,237 136.2,237 137.2,237 138.2,237 139.2,237 140.2,237 141.2,237 142.2,237 143.2,237 144.2,237 145.2,237 146.2,237 147.2,237 148.2,237 149.2,237 150.2,237 151.2,237 152.2,237 153.2,237 154.2,237 155.2,237 156.2,237 157.2,237 158.2,237 159.2,237 160.2,237 161.2,237 162.2,237 163.2,237 164.2,237 165.2,237 166.2,237 167.2,237 168.2,237 169.2,237 170.2,237 171.2,237 172.2,237 173.2,237 174.2,237 175.2,237 176.2,237 177.2,237 178.2,237 179.2,237 180.2,237 181.2,237 182.2,237 183.2,237 184.2,237 185.2,237 186.2,237 187.2,237 188.2,237 189.2,237 190.2,237 191.2,237 192.2,237 193.2,237 194.2,237 195.2,237 196.2,237 197.2,237 198.2,237 199.2,237 200.2,237 201.2,237 202.2,237 203.2,237 204.2,237 205.2,237 206.2,237 207.2,237 208.2,237 209.2,237 210.2,237 211.2,237 212.2,237 213.2,237" fill="none" stroke="#1f9a3c" stroke-width="1.9" stroke-linejoin="round" stroke-linecap="round"/>
<path d="M34.2,237 35.2,237 36.2,237 37.2,237 38.2,237 39.2,237 40.2,237 41.2,237 42.2,237 43.2,237 44.2,237 45.2,237 46.2,237 47.2,237 48.2,237 49.2,237 50.2,237 51.2,237 52.2,237 53.2,237 54.2,237 55.2,237 56.2,236.9 57.2,236.9 58.2,236.9 59.2,236.9 60.2,236.8 61.2,236.8 62.2,236.7 63.2,236.6 64.2,236.4 65.2,236.3 66.2,236.1 67.2,235.8 68.2,235.5 69.2,235.2 70.2,234.7 71.2,234.2 72.2,233.6 73.2,232.9 74.2,232.2 75.2,231.3 76.2,230.3 77.2,229.3 78.2,228.1 79.2,226.9 80.2,225.6 81.2,224.2 82.2,222.9 83.2,221.5 84.2,220.1 85.2,218.8 86.2,217.5 87.2,216.4 88.2,215.4 89.2,214.5 90.2,213.8 91.2,213.4 92.2,213.1 93.2,213 94.2,213.2 95.2,213.5 96.2,214.1 97.2,214.8 98.2,215.8 99.2,216.8 100.2,218 101.2,219.3 102.2,220.7 103.2,222 104.2,223.4 105.2,224.8 106.2,226.1 107.2,227.4 108.2,228.6 109.2,229.7 110.2,230.7 111.2,231.7 112.2,232.5 113.2,233.2 114.2,233.9 115.2,234.4 116.2,234.9 117.2,235.3 118.2,235.7 119.2,235.9 120.2,236.2 121.2,236.3 122.2,236.5 123.2,236.6 124.2,236.7 125.2,236.8 126.2,236.8 127.2,236.9 128.2,236.9 129.2,236.9 130.2,237 131.2,237 132.2,237 133.2,237 134.2,237 135.2,237 136.2,237 137.2,237 138.2,237 139.2,237 140.2,237 141.2,237 142.2,237 143.2,237 144.2,237 145.2,237 146.2,237 147.2,237 148.2,237 149.2,237 150.2,237 151.2,237 152.2,237 153.2,237 154.2,237 155.2,237 156.2,237 157.2,237 158.2,237 159.2,237 160.2,237 161.2,237 162.2,237 163.2,237 164.2,237 165.2,237 166.2,237 167.2,237 168.2,237 169.2,237 170.2,237 171.2,237 172.2,237 173.2,237 174.2,237 175.2,237 176.2,237 177.2,237 178.2,237 179.2,237 180.2,237 181.2,237 182.2,237 183.2,237 184.2,237 185.2,237 186.2,237 187.2,237 188.2,237 189.2,237 190.2,237 191.2,237 192.2,237 193.2,237 194.2,237 195.2,237 196.2,237 197.2,237 198.2,237 199.2,237 200.2,237 201.2,237 202.2,237 203.2,237 204.2,237 205.2,237 206.2,237 207.2,237 208.2,237 209.2,237 210.2,237 211.2,237 212.2,237 213.2,237" fill="none" stroke="#2c2c8e" stroke-width="1.9" stroke-linejoin="round" stroke-linecap="round"/>
<path d="M34.2,237 35.2,237 36.2,237 37.2,237 38.2,237 39.2,237 40.2,237 41.2,237 42.2,237 43.2,237 44.2,237 45.2,237 46.2,237 47.2,237 48.2,237 49.2,237 50.2,237 51.2,237 52.2,237 53.2,237 54.2,237 55.2,237 56.2,237 57.2,237 58.2,237 59.2,237 60.2,237 61.2,237 62.2,237 63.2,237 64.2,237 65.2,237 66.2,237 67.2,237 68.2,237 69.2,237 70.2,237 71.2,237 72.2,237 73.2,237 74.2,237 75.2,237 76.2,237 77.2,237 78.2,237 79.2,237 80.2,237 81.2,237 82.2,237 83.2,237 84.2,237 85.2,237 86.2,237 87.2,237 88.2,237 89.2,237 90.2,237 91.2,237 92.2,237 93.2,237 94.2,237 95.2,237 96.2,237 97.2,237 98.2,237 99.2,237 100.2,237 101.2,237 102.2,237 103.2,237 104.2,237 105.2,237 106.2,237 107.2,237 108.2,237 109.2,237 110.2,237 111.2,237 112.2,237 113.2,237 114.2,237 115.2,237 116.2,237 117.2,237 118.2,237 119.2,237 120.2,237 121.2,237 122.2,237 123.2,237 124.2,237 125.2,237 126.2,237 127.2,237 128.2,237 129.2,237 130.2,237 131.2,237 132.2,237 133.2,237 134.2,237 135.2,236.9 136.2,236.9 137.2,236.8 138.2,236.6 139.2,236.3 140.2,235.9 141.2,235.2 142.2,234.2 143.2,232.9 144.2,231.2 145.2,229.1 146.2,226.6 147.2,223.9 148.2,221.1 149.2,218.5 150.2,216.3 151.2,214.8 152.2,214 153.2,214.2 154.2,215.3 155.2,217.1 156.2,219.5 157.2,222.2 158.2,225 159.2,227.6 160.2,230 161.2,231.9 162.2,233.5 163.2,234.7 164.2,235.5 165.2,236.1 166.2,236.5 167.2,236.7 168.2,236.8 169.2,236.9 170.2,237 171.2,237 172.2,237 173.2,237 174.2,237 175.2,237 176.2,237 177.2,237 178.2,237 179.2,237 180.2,237 181.2,237 182.2,237 183.2,237 184.2,237 185.2,237 186.2,237 187.2,237 188.2,237 189.2,237 190.2,237 191.2,237 192.2,237 193.2,237 194.2,237 195.2,237 196.2,237 197.2,237 198.2,237 199.2,237 200.2,237 201.2,237 202.2,237 203.2,237 204.2,237 205.2,237 206.2,237 207.2,237 208.2,237 209.2,237 210.2,237 211.2,237 212.2,237 213.2,237" fill="none" stroke="#1f9a3c" stroke-width="1.9" stroke-linejoin="round" stroke-linecap="round"/>
<path d="M34.2,237 35.2,237 36.2,237 37.2,237 38.2,237 39.2,237 40.2,237 41.2,237 42.2,237 43.2,237 44.2,237 45.2,237 46.2,237 47.2,237 48.2,237 49.2,237 50.2,237 51.2,237 52.2,237 53.2,237 54.2,237 55.2,237 56.2,237 57.2,237 58.2,237 59.2,237 60.2,237 61.2,237 62.2,237 63.2,237 64.2,237 65.2,237 66.2,237 67.2,237 68.2,237 69.2,237 70.2,237 71.2,237 72.2,237 73.2,237 74.2,237 75.2,237 76.2,237 77.2,237 78.2,237 79.2,237 80.2,237 81.2,237 82.2,237 83.2,237 84.2,237 85.2,237 86.2,237 87.2,237 88.2,237 89.2,237 90.2,237 91.2,237 92.2,237 93.2,237 94.2,237 95.2,237 96.2,237 97.2,237 98.2,237 99.2,237 100.2,237 101.2,237 102.2,237 103.2,237 104.2,237 105.2,237 106.2,237 107.2,237 108.2,237 109.2,237 110.2,237 111.2,237 112.2,237 113.2,237 114.2,237 115.2,237 116.2,237 117.2,237 118.2,237 119.2,237 120.2,237 121.2,237 122.2,237 123.2,237 124.2,237 125.2,237 126.2,237 127.2,237 128.2,237 129.2,237 130.2,237 131.2,237 132.2,237 133.2,237 134.2,237 135.2,237 136.2,237 137.2,237 138.2,237 139.2,237 140.2,237 141.2,237 142.2,237 143.2,237 144.2,237 145.2,237 146.2,237 147.2,237 148.2,237 149.2,236.9 150.2,236.9 151.2,236.9 152.2,236.9 153.2,236.8 154.2,236.8 155.2,236.7 156.2,236.6 157.2,236.5 158.2,236.4 159.2,236.3 160.2,236.1 161.2,235.9 162.2,235.7 163.2,235.5 164.2,235.2 165.2,234.8 166.2,234.4 167.2,234 168.2,233.6 169.2,233.1 170.2,232.6 171.2,232 172.2,231.4 173.2,230.8 174.2,230.2 175.2,229.6 176.2,229 177.2,228.4 178.2,227.9 179.2,227.4 180.2,227 181.2,226.6 182.2,226.4 183.2,226.1 184.2,226 185.2,226 186.2,226.1 187.2,226.2 188.2,226.5 189.2,226.8 190.2,227.2 191.2,227.6 192.2,228.1 193.2,228.7 194.2,229.2 195.2,229.8 196.2,230.4 197.2,231.1 198.2,231.6 199.2,232.2 200.2,232.8 201.2,233.3 202.2,233.8 203.2,234.2 204.2,234.6 205.2,235 206.2,235.3 207.2,235.6 208.2,235.8 209.2,236 210.2,236.2 211.2,236.4 212.2,236.5 213.2,236.6" fill="none" stroke="#2c2c8e" stroke-width="1.9" stroke-linejoin="round" stroke-linecap="round"/>
<path d="M34.2,237 35.2,237 36.2,237 37.2,237 38.2,237 39.2,237 40.2,237 41.2,237 42.2,237 43.2,237 44.2,237 45.2,237 46.2,237 47.2,237 48.2,237 49.2,237 50.2,237 51.2,237 52.2,237 53.2,237 54.2,237 55.2,237 56.2,237 57.2,237 58.2,237 59.2,237 60.2,237 61.2,237 62.2,237 63.2,237 64.2,237 65.2,237 66.2,237 67.2,237 68.2,237 69.2,237 70.2,237 71.2,237 72.2,237 73.2,237 74.2,237 75.2,237 76.2,237 77.2,237 78.2,237 79.2,237 80.2,237 81.2,237 82.2,237 83.2,237 84.2,237 85.2,237 86.2,237 87.2,237 88.2,237 89.2,237 90.2,237 91.2,237 92.2,237 93.2,237 94.2,237 95.2,237 96.2,237 97.2,237 98.2,237 99.2,237 100.2,237 101.2,237 102.2,237 103.2,237 104.2,237 105.2,237 106.2,237 107.2,237 108.2,237 109.2,237 110.2,237 111.2,237 112.2,237 113.2,237 114.2,237 115.2,237 116.2,237 117.2,237 118.2,237 119.2,237 120.2,237 121.2,237 122.2,237 123.2,237 124.2,237 125.2,237 126.2,237 127.2,237 128.2,237 129.2,237 130.2,237 131.2,237 132.2,237 133.2,237 134.2,237 135.2,237 136.2,237 137.2,237 138.2,237 139.2,237 140.2,237 141.2,237 142.2,237 143.2,237 144.2,237 145.2,237 146.2,237 147.2,237 148.2,237 149.2,237 150.2,237 151.2,237 152.2,237 153.2,237 154.2,237 155.2,237 156.2,237 157.2,237 158.2,237 159.2,237 160.2,237 161.2,237 162.2,237 163.2,237 164.2,237 165.2,237 166.2,237 167.2,237 168.2,237 169.2,237 170.2,237 171.2,237 172.2,237 173.2,237 174.2,237 175.2,237 176.2,237 177.2,237 178.2,237 179.2,237 180.2,237 181.2,237 182.2,237 183.2,237 184.2,237 185.2,237 186.2,237 187.2,237 188.2,237 189.2,237 190.2,237 191.2,237 192.2,237 193.2,237 194.2,237 195.2,237 196.2,237 197.2,237 198.2,237 199.2,237 200.2,237 201.2,237 202.2,237 203.2,237 204.2,237 205.2,237 206.2,237 207.2,237 208.2,237 209.2,237 210.2,237 211.2,237 212.2,237 213.2,237" fill="none" stroke="#2c2c8e" stroke-width="1.9" stroke-linejoin="round" stroke-linecap="round"/>
<path d="M34.2,308.9 34.8,311.2 35.4,303.7 36,305 36.6,302.6 37.2,314 37.8,312.1 38.4,313.1 39,309.5 39.6,309.6 40.2,304 40.8,311.4 41.4,303.3 42,304 42.6,304.3 43.2,302.7 43.8,306.4 44.4,303 45,302.8 45.6,301.8 46.2,305.5 46.8,299.6 47.4,300.3 48,301.5 48.6,295.3 49.2,298.2 49.8,300.9 50.4,302.5 51,299.4 51.6,296.7 52.2,302.6 52.8,297.3 53.4,297.5 54,297.2 54.6,295.4 55.2,292.8 55.8,294.5 56.4,287.4 57,287.5 57.6,285.5 58.2,281.2 58.8,282.2 59.4,279.7 60,276.6 60.6,272.8 61.2,273 61.8,275.6 62.4,270.1 63,248.7 63.6,266.9 64.2,250.7 64.8,250.1 65.4,258.7 66,251.1 66.6,265.6 67.2,261.8 67.8,255.5 68.4,252.8 69,263.8 69.6,269.8 70.2,266.6 70.8,276.7 71.4,272.9 72,276.3 72.6,274 73.2,279 73.8,278.7 74.4,274.5 75,292.5 75.6,284.5 76.2,287 76.8,292.4 77.4,289.3 78,290.5 78.6,291.9 79.2,287.2 79.8,296.3 80.4,292.8 81,289.7 81.6,294.7 82.2,292.8 82.8,288.4 83.4,291.8 84,291.1 84.6,291.9 85.2,291.8 85.8,292.6 86.4,286 87,289.7 87.6,286.3 88.2,290.9 88.8,284.5 89.4,281.4 90,287.2 90.6,297.2 91.2,292.4 91.8,288.7 92.4,297 93,287.8 93.6,288 94.2,291.6 94.8,290 95.4,288.9 96,287.9 96.6,289.6 97.2,293.6 97.8,286.2 98.4,288.8 99,295.9 99.6,300.2 100.2,286.6 100.8,294.4 101.4,298.8 102,293.6 102.6,293.1 103.2,299.4 103.8,294.5 104.4,294.7 105,295.8 105.6,294.1 106.2,291.9 106.8,302.7 107.4,304.8 108,301.3 108.6,300.6 109.2,303.1 109.8,301.8 110.4,298.1 111,300.1 111.6,304.9 112.2,303.2 112.8,300.5 113.4,301.2 114,307.8 114.6,301.8 115.2,308.9 115.8,307.5 116.4,304 117,306 117.6,307.4 118.2,308.1 118.8,308 119.4,311 120,309.9 120.6,306.5 121.2,307.5 121.8,305.8 122.4,306.8 123,308.4 123.6,302.6 124.2,308.6 124.8,308.2 125.4,307.8 126,305.3 126.6,307.1 127.2,306.7 127.8,308.4 128.4,302.7 129,307.8 129.6,309.7 130.2,306.5 130.8,306.3 131.4,310.4 132,315 132.6,310.1 133.2,310.2 133.8,308.7 134.4,310.5 135,310.1 135.6,306.4 136.2,309.5 136.8,310.8 137.4,306.9 138,309.5 138.6,311.5 139.2,310.8 139.8,308.3 140.4,313.3 141,310.6 141.6,307.3 142.2,302.9 142.8,306.6 143.4,307.3 144,305.5 144.6,305.9 145.2,309.3 145.8,306.3 146.4,306.8 147,298.3 147.6,300.7 148.2,303.1 148.8,295.3 149.4,302 150,290.5 150.6,290.7 151.2,296.1 151.8,282.4 152.4,291.1 153,282.8 153.6,282.2 154.2,285.7 154.8,285.1 155.4,287.3 156,285.1 156.6,285.2 157.2,282.9 157.8,289.2 158.4,281.1 159,293 159.6,293 160.2,298.1 160.8,299.6 161.4,292.5 162,299.8 162.6,296.9 163.2,298.9 163.8,303.3 164.4,303.1 165,303.6 165.6,302.6 166.2,303.6 166.8,300.1 167.4,301.5 168,304.7 168.6,299.7 169.2,300.9 169.8,304.3 170.4,301.8 171,299.2 171.6,301.9 172.2,304.2 172.8,297.3 173.4,295.2 174,299.4 174.6,296 175.2,296.9 175.8,295.8 176.4,294.2 177,296.2 177.6,296.4 178.2,292 178.8,297.9 179.4,298.5 180,293.4 180.6,294.2 181.2,298 181.8,288.8 182.4,289.2 183,291.2 183.6,292.1 184.2,294 184.8,292.8 185.4,286 186,295.4 186.6,295.9 187.2,289 187.8,294 188.4,290.4 189,291.4 189.6,290.8 190.2,298.2 190.8,291 191.4,293.9 192,296.2 192.6,292.3 193.2,294.6 193.8,295.6 194.4,301.5 195,293.2 195.6,297.5 196.2,298.7 196.8,297.9 197.4,303.1 198,299.7 198.6,299 199.2,303.1 199.8,304.8 200.4,299.5 201,304.6 201.6,304.6 202.2,303.1 202.8,301.5 203.4,306.3 204,306.1 204.6,302.3 205.2,303.8 205.8,309.8 206.4,304 207,300.8 207.6,305.4 208.2,306.8 208.8,308.4 209.4,305.9 210,311.9 210.6,306 211.2,307.8 211.8,310.2 212.4,307.8 213,301.8" fill="none" stroke="#6a6a6a" stroke-width="1.4" stroke-linejoin="round" stroke-linecap="round"/>
<path d="M34.2,309.4 35.2,309.3 36.2,309.1 37.2,308.9 38.2,308.6 39.2,308.2 40.2,307.7 41.2,307.1 42.2,306.4 43.2,305.5 44.2,304.6 45.2,303.6 46.2,302.6 47.2,301.7 48.2,301 49.2,300.4 50.2,300 51.2,299.7 52.2,299.2 53.2,298.5 54.2,297.2 55.2,295.3 56.2,292.7 57.2,289.3 58.2,285.3 59.2,280.9 60.2,276.1 61.2,271.4 62.2,267.1 63.2,263.4 64.2,260.6 65.2,258.9 66.2,258.5 67.2,259.2 68.2,260.9 69.2,263.6 70.2,266.9 71.2,270.7 72.2,274.5 73.2,278.3 74.2,281.8 75.2,284.8 76.2,287.4 77.2,289.4 78.2,290.9 79.2,291.8 80.2,292.4 81.2,292.5 82.2,292.5 83.2,292.2 84.2,291.8 85.2,291.3 86.2,290.9 87.2,290.4 88.2,290 89.2,289.7 90.2,289.4 91.2,289.3 92.2,289.2 93.2,289.3 94.2,289.5 95.2,289.9 96.2,290.3 97.2,290.9 98.2,291.6 99.2,292.4 100.2,293.3 101.2,294.3 102.2,295.3 103.2,296.4 104.2,297.4 105.2,298.5 106.2,299.6 107.2,300.6 108.2,301.6 109.2,302.6 110.2,303.4 111.2,304.2 112.2,305 113.2,305.7 114.2,306.3 115.2,306.8 116.2,307.2 117.2,307.6 118.2,308 119.2,308.3 120.2,308.5 121.2,308.7 122.2,308.9 123.2,309 124.2,309.1 125.2,309.2 126.2,309.3 127.2,309.3 128.2,309.4 129.2,309.4 130.2,309.4 131.2,309.4 132.2,309.4 133.2,309.4 134.2,309.4 135.2,309.4 136.2,309.4 137.2,309.4 138.2,309.4 139.2,309.3 140.2,309.1 141.2,308.9 142.2,308.5 143.2,307.9 144.2,307.1 145.2,305.9 146.2,304.4 147.2,302.4 148.2,300.1 149.2,297.5 150.2,294.7 151.2,292 152.2,289.5 153.2,287.6 154.2,286.4 155.2,286.1 156.2,286.6 157.2,287.9 158.2,289.8 159.2,292.2 160.2,294.7 161.2,297.1 162.2,299.3 163.2,301.1 164.2,302.5 165.2,303.4 166.2,303.9 167.2,304 168.2,303.9 169.2,303.5 170.2,302.9 171.2,302.2 172.2,301.4 173.2,300.6 174.2,299.7 175.2,298.8 176.2,297.9 177.2,297.1 178.2,296.2 179.2,295.5 180.2,294.8 181.2,294.2 182.2,293.7 183.2,293.4 184.2,293.1 185.2,293 186.2,293 187.2,293.2 188.2,293.5 189.2,293.9 190.2,294.4 191.2,295 192.2,295.7 193.2,296.5 194.2,297.3 195.2,298.2 196.2,299.1 197.2,300 198.2,300.9 199.2,301.7 200.2,302.6 201.2,303.4 202.2,304.1 203.2,304.8 204.2,305.4 205.2,306 206.2,306.5 207.2,306.9 208.2,307.3 209.2,307.6 210.2,307.9 211.2,308.1 212.2,308.3 213.2,308.5" fill="none" stroke="#e8312f" stroke-width="2.2" stroke-linejoin="round" stroke-linecap="round"/>
<path d="M34.2,309.8 35.2,309.8 36.2,309.8 37.2,309.7 38.2,309.7 39.2,309.6 40.2,309.4 41.2,309.2 42.2,308.8 43.2,308.4 44.2,307.8 45.2,307.2 46.2,306.6 47.2,306.1 48.2,305.8 49.2,305.8 50.2,305.9 51.2,306.3 52.2,306.8 53.2,307.4 54.2,308 55.2,308.5 56.2,308.9 57.2,309.2 58.2,309.4 59.2,309.6 60.2,309.6 61.2,309.7 62.2,309.7 63.2,309.7 64.2,309.7 65.2,309.7 66.2,309.7 67.2,309.7 68.2,309.7 69.2,309.7 70.2,309.7 71.2,309.7 72.2,309.7 73.2,309.7 74.2,309.7 75.2,309.7 76.2,309.7 77.2,309.7 78.2,309.7 79.2,309.6 80.2,309.6 81.2,309.6 82.2,309.6 83.2,309.6 84.2,309.6 85.2,309.6 86.2,309.6 87.2,309.6 88.2,309.6 89.2,309.6 90.2,309.6 91.2,309.6 92.2,309.6 93.2,309.6 94.2,309.6 95.2,309.6 96.2,309.6 97.2,309.6 98.2,309.6 99.2,309.6 100.2,309.6 101.2,309.6 102.2,309.6 103.2,309.6 104.2,309.6 105.2,309.6 106.2,309.6 107.2,309.6 108.2,309.6 109.2,309.5 110.2,309.5 111.2,309.5 112.2,309.5 113.2,309.5 114.2,309.5 115.2,309.5 116.2,309.5 117.2,309.5 118.2,309.5 119.2,309.5 120.2,309.5 121.2,309.5 122.2,309.5 123.2,309.5 124.2,309.5 125.2,309.5 126.2,309.5 127.2,309.5 128.2,309.5 129.2,309.5 130.2,309.5 131.2,309.5 132.2,309.5 133.2,309.5 134.2,309.5 135.2,309.5 136.2,309.5 137.2,309.5 138.2,309.5 139.2,309.4 140.2,309.4 141.2,309.4 142.2,309.4 143.2,309.4 144.2,309.4 145.2,309.4 146.2,309.4 147.2,309.4 148.2,309.4 149.2,309.4 150.2,309.4 151.2,309.4 152.2,309.4 153.2,309.4 154.2,309.4 155.2,309.4 156.2,309.4 157.2,309.4 158.2,309.4 159.2,309.4 160.2,309.4 161.2,309.4 162.2,309.4 163.2,309.4 164.2,309.4 165.2,309.4 166.2,309.4 167.2,309.4 168.2,309.4 169.2,309.3 170.2,309.3 171.2,309.3 172.2,309.3 173.2,309.3 174.2,309.3 175.2,309.3 176.2,309.3 177.2,309.3 178.2,309.3 179.2,309.3 180.2,309.3 181.2,309.3 182.2,309.3 183.2,309.3 184.2,309.3 185.2,309.3 186.2,309.3 187.2,309.3 188.2,309.3 189.2,309.3 190.2,309.3 191.2,309.3 192.2,309.3 193.2,309.3 194.2,309.3 195.2,309.3 196.2,309.3 197.2,309.3 198.2,309.3 199.2,309.2 200.2,309.2 201.2,309.2 202.2,309.2 203.2,309.2 204.2,309.2 205.2,309.2 206.2,309.2 207.2,309.2 208.2,309.2 209.2,309.2 210.2,309.2 211.2,309.2 212.2,309.2 213.2,309.2" fill="none" stroke="#7b52bb" stroke-width="1.9" stroke-linejoin="round" stroke-linecap="round"/>
<path d="M34.2,309.8 35.2,309.8 36.2,309.8 37.2,309.8 38.2,309.8 39.2,309.8 40.2,309.8 41.2,309.8 42.2,309.8 43.2,309.7 44.2,309.7 45.2,309.7 46.2,309.6 47.2,309.5 48.2,309.3 49.2,308.9 50.2,308.4 51.2,307.6 52.2,306.5 53.2,305 54.2,303 55.2,300.4 56.2,297.3 57.2,293.8 58.2,289.8 59.2,285.7 60.2,281.6 61.2,278 62.2,275 63.2,273 64.2,272.1 65.2,272.5 66.2,274.1 67.2,276.7 68.2,280.1 69.2,284 70.2,288.1 71.2,292.2 72.2,295.9 73.2,299.2 74.2,302 75.2,304.2 76.2,305.9 77.2,307.1 78.2,308 79.2,308.6 80.2,309 81.2,309.3 82.2,309.4 83.2,309.5 84.2,309.6 85.2,309.6 86.2,309.6 87.2,309.6 88.2,309.6 89.2,309.6 90.2,309.6 91.2,309.6 92.2,309.6 93.2,309.6 94.2,309.6 95.2,309.6 96.2,309.6 97.2,309.6 98.2,309.6 99.2,309.6 100.2,309.6 101.2,309.6 102.2,309.6 103.2,309.6 104.2,309.6 105.2,309.6 106.2,309.6 107.2,309.6 108.2,309.6 109.2,309.5 110.2,309.5 111.2,309.5 112.2,309.5 113.2,309.5 114.2,309.5 115.2,309.5 116.2,309.5 117.2,309.5 118.2,309.5 119.2,309.5 120.2,309.5 121.2,309.5 122.2,309.5 123.2,309.5 124.2,309.5 125.2,309.5 126.2,309.5 127.2,309.5 128.2,309.5 129.2,309.5 130.2,309.5 131.2,309.5 132.2,309.5 133.2,309.5 134.2,309.5 135.2,309.5 136.2,309.5 137.2,309.5 138.2,309.5 139.2,309.4 140.2,309.4 141.2,309.4 142.2,309.4 143.2,309.4 144.2,309.4 145.2,309.4 146.2,309.4 147.2,309.4 148.2,309.4 149.2,309.4 150.2,309.4 151.2,309.4 152.2,309.4 153.2,309.4 154.2,309.4 155.2,309.4 156.2,309.4 157.2,309.4 158.2,309.4 159.2,309.4 160.2,309.4 161.2,309.4 162.2,309.4 163.2,309.4 164.2,309.4 165.2,309.4 166.2,309.4 167.2,309.4 168.2,309.4 169.2,309.3 170.2,309.3 171.2,309.3 172.2,309.3 173.2,309.3 174.2,309.3 175.2,309.3 176.2,309.3 177.2,309.3 178.2,309.3 179.2,309.3 180.2,309.3 181.2,309.3 182.2,309.3 183.2,309.3 184.2,309.3 185.2,309.3 186.2,309.3 187.2,309.3 188.2,309.3 189.2,309.3 190.2,309.3 191.2,309.3 192.2,309.3 193.2,309.3 194.2,309.3 195.2,309.3 196.2,309.3 197.2,309.3 198.2,309.3 199.2,309.2 200.2,309.2 201.2,309.2 202.2,309.2 203.2,309.2 204.2,309.2 205.2,309.2 206.2,309.2 207.2,309.2 208.2,309.2 209.2,309.2 210.2,309.2 211.2,309.2 212.2,309.2 213.2,309.2" fill="none" stroke="#1f9a3c" stroke-width="1.9" stroke-linejoin="round" stroke-linecap="round"/>
<path d="M34.2,309.8 35.2,309.8 36.2,309.8 37.2,309.8 38.2,309.8 39.2,309.8 40.2,309.8 41.2,309.8 42.2,309.8 43.2,309.8 44.2,309.8 45.2,309.8 46.2,309.8 47.2,309.7 48.2,309.7 49.2,309.7 50.2,309.7 51.2,309.7 52.2,309.6 53.2,309.6 54.2,309.4 55.2,309.3 56.2,309 57.2,308.6 58.2,308 59.2,307.2 60.2,306.1 61.2,304.8 62.2,303.3 63.2,301.6 64.2,299.7 65.2,297.7 66.2,295.9 67.2,294.3 68.2,293.1 69.2,292.4 70.2,292.2 71.2,292.6 72.2,293.5 73.2,294.9 74.2,296.6 75.2,298.5 76.2,300.4 77.2,302.2 78.2,303.9 79.2,305.3 80.2,306.5 81.2,307.4 82.2,308.1 83.2,308.7 84.2,309 85.2,309.2 86.2,309.4 87.2,309.5 88.2,309.5 89.2,309.6 90.2,309.6 91.2,309.6 92.2,309.6 93.2,309.6 94.2,309.6 95.2,309.6 96.2,309.6 97.2,309.6 98.2,309.6 99.2,309.6 100.2,309.6 101.2,309.6 102.2,309.6 103.2,309.6 104.2,309.6 105.2,309.6 106.2,309.6 107.2,309.6 108.2,309.6 109.2,309.5 110.2,309.5 111.2,309.5 112.2,309.5 113.2,309.5 114.2,309.5 115.2,309.5 116.2,309.5 117.2,309.5 118.2,309.5 119.2,309.5 120.2,309.5 121.2,309.5 122.2,309.5 123.2,309.5 124.2,309.5 125.2,309.5 126.2,309.5 127.2,309.5 128.2,309.5 129.2,309.5 130.2,309.5 131.2,309.5 132.2,309.5 133.2,309.5 134.2,309.5 135.2,309.5 136.2,309.5 137.2,309.5 138.2,309.5 139.2,309.4 140.2,309.4 141.2,309.4 142.2,309.4 143.2,309.4 144.2,309.4 145.2,309.4 146.2,309.4 147.2,309.4 148.2,309.4 149.2,309.4 150.2,309.4 151.2,309.4 152.2,309.4 153.2,309.4 154.2,309.4 155.2,309.4 156.2,309.4 157.2,309.4 158.2,309.4 159.2,309.4 160.2,309.4 161.2,309.4 162.2,309.4 163.2,309.4 164.2,309.4 165.2,309.4 166.2,309.4 167.2,309.4 168.2,309.4 169.2,309.3 170.2,309.3 171.2,309.3 172.2,309.3 173.2,309.3 174.2,309.3 175.2,309.3 176.2,309.3 177.2,309.3 178.2,309.3 179.2,309.3 180.2,309.3 181.2,309.3 182.2,309.3 183.2,309.3 184.2,309.3 185.2,309.3 186.2,309.3 187.2,309.3 188.2,309.3 189.2,309.3 190.2,309.3 191.2,309.3 192.2,309.3 193.2,309.3 194.2,309.3 195.2,309.3 196.2,309.3 197.2,309.3 198.2,309.3 199.2,309.2 200.2,309.2 201.2,309.2 202.2,309.2 203.2,309.2 204.2,309.2 205.2,309.2 206.2,309.2 207.2,309.2 208.2,309.2 209.2,309.2 210.2,309.2 211.2,309.2 212.2,309.2 213.2,309.2" fill="none" stroke="#94922c" stroke-width="1.9" stroke-linejoin="round" stroke-linecap="round"/>
<path d="M34.2,309.8 35.2,309.8 36.2,309.8 37.2,309.8 38.2,309.8 39.2,309.8 40.2,309.8 41.2,309.8 42.2,309.8 43.2,309.8 44.2,309.8 45.2,309.8 46.2,309.8 47.2,309.8 48.2,309.7 49.2,309.7 50.2,309.7 51.2,309.7 52.2,309.7 53.2,309.7 54.2,309.7 55.2,309.7 56.2,309.7 57.2,309.6 58.2,309.6 59.2,309.6 60.2,309.5 61.2,309.4 62.2,309.4 63.2,309.2 64.2,309.1 65.2,309 66.2,308.8 67.2,308.5 68.2,308.3 69.2,307.9 70.2,307.6 71.2,307.1 72.2,306.6 73.2,306 74.2,305.4 75.2,304.7 76.2,303.9 77.2,303 78.2,302.1 79.2,301.1 80.2,300.1 81.2,299 82.2,298 83.2,296.9 84.2,295.8 85.2,294.8 86.2,293.8 87.2,292.9 88.2,292.1 89.2,291.4 90.2,290.8 91.2,290.4 92.2,290.1 93.2,290 94.2,290 95.2,290.3 96.2,290.6 97.2,291.1 98.2,291.8 99.2,292.5 100.2,293.4 101.2,294.3 102.2,295.3 103.2,296.4 104.2,297.5 105.2,298.5 106.2,299.6 107.2,300.6 108.2,301.6 109.2,302.6 110.2,303.4 111.2,304.2 112.2,305 113.2,305.7 114.2,306.3 115.2,306.8 116.2,307.2 117.2,307.6 118.2,308 119.2,308.3 120.2,308.5 121.2,308.7 122.2,308.9 123.2,309 124.2,309.1 125.2,309.2 126.2,309.3 127.2,309.3 128.2,309.4 129.2,309.4 130.2,309.4 131.2,309.4 132.2,309.4 133.2,309.4 134.2,309.4 135.2,309.4 136.2,309.4 137.2,309.4 138.2,309.4 139.2,309.4 140.2,309.4 141.2,309.4 142.2,309.4 143.2,309.4 144.2,309.4 145.2,309.4 146.2,309.4 147.2,309.4 148.2,309.4 149.2,309.4 150.2,309.4 151.2,309.4 152.2,309.4 153.2,309.4 154.2,309.4 155.2,309.4 156.2,309.4 157.2,309.4 158.2,309.4 159.2,309.4 160.2,309.4 161.2,309.4 162.2,309.4 163.2,309.4 164.2,309.4 165.2,309.4 166.2,309.4 167.2,309.4 168.2,309.4 169.2,309.3 170.2,309.3 171.2,309.3 172.2,309.3 173.2,309.3 174.2,309.3 175.2,309.3 176.2,309.3 177.2,309.3 178.2,309.3 179.2,309.3 180.2,309.3 181.2,309.3 182.2,309.3 183.2,309.3 184.2,309.3 185.2,309.3 186.2,309.3 187.2,309.3 188.2,309.3 189.2,309.3 190.2,309.3 191.2,309.3 192.2,309.3 193.2,309.3 194.2,309.3 195.2,309.3 196.2,309.3 197.2,309.3 198.2,309.3 199.2,309.2 200.2,309.2 201.2,309.2 202.2,309.2 203.2,309.2 204.2,309.2 205.2,309.2 206.2,309.2 207.2,309.2 208.2,309.2 209.2,309.2 210.2,309.2 211.2,309.2 212.2,309.2 213.2,309.2" fill="none" stroke="#2c2c8e" stroke-width="1.9" stroke-linejoin="round" stroke-linecap="round"/>
<path d="M34.2,309.8 35.2,309.8 36.2,309.8 37.2,309.8 38.2,309.8 39.2,309.8 40.2,309.8 41.2,309.8 42.2,309.8 43.2,309.8 44.2,309.8 45.2,309.8 46.2,309.8 47.2,309.8 48.2,309.7 49.2,309.7 50.2,309.7 51.2,309.7 52.2,309.7 53.2,309.7 54.2,309.7 55.2,309.7 56.2,309.7 57.2,309.7 58.2,309.7 59.2,309.7 60.2,309.7 61.2,309.7 62.2,309.7 63.2,309.7 64.2,309.7 65.2,309.7 66.2,309.7 67.2,309.7 68.2,309.7 69.2,309.7 70.2,309.7 71.2,309.7 72.2,309.7 73.2,309.7 74.2,309.7 75.2,309.7 76.2,309.7 77.2,309.7 78.2,309.7 79.2,309.6 80.2,309.6 81.2,309.6 82.2,309.6 83.2,309.6 84.2,309.6 85.2,309.6 86.2,309.6 87.2,309.6 88.2,309.6 89.2,309.6 90.2,309.6 91.2,309.6 92.2,309.6 93.2,309.6 94.2,309.6 95.2,309.6 96.2,309.6 97.2,309.6 98.2,309.6 99.2,309.6 100.2,309.6 101.2,309.6 102.2,309.6 103.2,309.6 104.2,309.6 105.2,309.6 106.2,309.6 107.2,309.6 108.2,309.6 109.2,309.5 110.2,309.5 111.2,309.5 112.2,309.5 113.2,309.5 114.2,309.5 115.2,309.5 116.2,309.5 117.2,309.5 118.2,309.5 119.2,309.5 120.2,309.5 121.2,309.5 122.2,309.5 123.2,309.5 124.2,309.5 125.2,309.5 126.2,309.5 127.2,309.5 128.2,309.5 129.2,309.5 130.2,309.5 131.2,309.5 132.2,309.5 133.2,309.5 134.2,309.5 135.2,309.5 136.2,309.4 137.2,309.4 138.2,309.4 139.2,309.3 140.2,309.2 141.2,309 142.2,308.8 143.2,308.4 144.2,307.8 145.2,307 146.2,306 147.2,304.7 148.2,303.3 149.2,301.7 150.2,300.1 151.2,298.7 152.2,297.4 153.2,296.6 154.2,296.2 155.2,296.4 156.2,297 157.2,298.1 158.2,299.5 159.2,301.1 160.2,302.6 161.2,304.1 162.2,305.5 163.2,306.6 164.2,307.4 165.2,308.1 166.2,308.5 167.2,308.9 168.2,309.1 169.2,309.2 170.2,309.3 171.2,309.3 172.2,309.3 173.2,309.3 174.2,309.3 175.2,309.3 176.2,309.3 177.2,309.3 178.2,309.3 179.2,309.3 180.2,309.3 181.2,309.3 182.2,309.3 183.2,309.3 184.2,309.3 185.2,309.3 186.2,309.3 187.2,309.3 188.2,309.3 189.2,309.3 190.2,309.3 191.2,309.3 192.2,309.3 193.2,309.3 194.2,309.3 195.2,309.3 196.2,309.3 197.2,309.3 198.2,309.3 199.2,309.2 200.2,309.2 201.2,309.2 202.2,309.2 203.2,309.2 204.2,309.2 205.2,309.2 206.2,309.2 207.2,309.2 208.2,309.2 209.2,309.2 210.2,309.2 211.2,309.2 212.2,309.2 213.2,309.2" fill="none" stroke="#1f9a3c" stroke-width="1.9" stroke-linejoin="round" stroke-linecap="round"/>
<path d="M34.2,309.8 35.2,309.8 36.2,309.8 37.2,309.8 38.2,309.8 39.2,309.8 40.2,309.8 41.2,309.8 42.2,309.8 43.2,309.8 44.2,309.8 45.2,309.8 46.2,309.8 47.2,309.8 48.2,309.7 49.2,309.7 50.2,309.7 51.2,309.7 52.2,309.7 53.2,309.7 54.2,309.7 55.2,309.7 56.2,309.7 57.2,309.7 58.2,309.7 59.2,309.7 60.2,309.7 61.2,309.7 62.2,309.7 63.2,309.7 64.2,309.7 65.2,309.7 66.2,309.7 67.2,309.7 68.2,309.7 69.2,309.7 70.2,309.7 71.2,309.7 72.2,309.7 73.2,309.7 74.2,309.7 75.2,309.7 76.2,309.7 77.2,309.7 78.2,309.7 79.2,309.6 80.2,309.6 81.2,309.6 82.2,309.6 83.2,309.6 84.2,309.6 85.2,309.6 86.2,309.6 87.2,309.6 88.2,309.6 89.2,309.6 90.2,309.6 91.2,309.6 92.2,309.6 93.2,309.6 94.2,309.6 95.2,309.6 96.2,309.6 97.2,309.6 98.2,309.6 99.2,309.6 100.2,309.6 101.2,309.6 102.2,309.6 103.2,309.6 104.2,309.6 105.2,309.6 106.2,309.6 107.2,309.6 108.2,309.6 109.2,309.5 110.2,309.5 111.2,309.5 112.2,309.5 113.2,309.5 114.2,309.5 115.2,309.5 116.2,309.5 117.2,309.5 118.2,309.5 119.2,309.5 120.2,309.5 121.2,309.5 122.2,309.5 123.2,309.5 124.2,309.5 125.2,309.5 126.2,309.5 127.2,309.5 128.2,309.5 129.2,309.5 130.2,309.5 131.2,309.5 132.2,309.5 133.2,309.5 134.2,309.5 135.2,309.5 136.2,309.5 137.2,309.4 138.2,309.4 139.2,309.4 140.2,309.4 141.2,309.3 142.2,309.2 143.2,309 144.2,308.8 145.2,308.4 146.2,307.8 147.2,307.1 148.2,306.3 149.2,305.2 150.2,304.1 151.2,302.9 152.2,301.7 153.2,300.7 154.2,299.9 155.2,299.5 156.2,299.4 157.2,299.8 158.2,300.5 159.2,301.4 160.2,302.6 161.2,303.8 162.2,305 163.2,306 164.2,306.9 165.2,307.7 166.2,308.2 167.2,308.6 168.2,308.9 169.2,309.1 170.2,309.2 171.2,309.3 172.2,309.3 173.2,309.3 174.2,309.3 175.2,309.3 176.2,309.3 177.2,309.3 178.2,309.3 179.2,309.3 180.2,309.3 181.2,309.3 182.2,309.3 183.2,309.3 184.2,309.3 185.2,309.3 186.2,309.3 187.2,309.3 188.2,309.3 189.2,309.3 190.2,309.3 191.2,309.3 192.2,309.3 193.2,309.3 194.2,309.3 195.2,309.3 196.2,309.3 197.2,309.3 198.2,309.3 199.2,309.2 200.2,309.2 201.2,309.2 202.2,309.2 203.2,309.2 204.2,309.2 205.2,309.2 206.2,309.2 207.2,309.2 208.2,309.2 209.2,309.2 210.2,309.2 211.2,309.2 212.2,309.2 213.2,309.2" fill="none" stroke="#94922c" stroke-width="1.9" stroke-linejoin="round" stroke-linecap="round"/>
<path d="M34.2,309.8 35.2,309.8 36.2,309.8 37.2,309.8 38.2,309.8 39.2,309.8 40.2,309.8 41.2,309.8 42.2,309.8 43.2,309.8 44.2,309.8 45.2,309.8 46.2,309.8 47.2,309.8 48.2,309.7 49.2,309.7 50.2,309.7 51.2,309.7 52.2,309.7 53.2,309.7 54.2,309.7 55.2,309.7 56.2,309.7 57.2,309.7 58.2,309.7 59.2,309.7 60.2,309.7 61.2,309.7 62.2,309.7 63.2,309.7 64.2,309.7 65.2,309.7 66.2,309.7 67.2,309.7 68.2,309.7 69.2,309.7 70.2,309.7 71.2,309.7 72.2,309.7 73.2,309.7 74.2,309.7 75.2,309.7 76.2,309.7 77.2,309.7 78.2,309.7 79.2,309.6 80.2,309.6 81.2,309.6 82.2,309.6 83.2,309.6 84.2,309.6 85.2,309.6 86.2,309.6 87.2,309.6 88.2,309.6 89.2,309.6 90.2,309.6 91.2,309.6 92.2,309.6 93.2,309.6 94.2,309.6 95.2,309.6 96.2,309.6 97.2,309.6 98.2,309.6 99.2,309.6 100.2,309.6 101.2,309.6 102.2,309.6 103.2,309.6 104.2,309.6 105.2,309.6 106.2,309.6 107.2,309.6 108.2,309.6 109.2,309.5 110.2,309.5 111.2,309.5 112.2,309.5 113.2,309.5 114.2,309.5 115.2,309.5 116.2,309.5 117.2,309.5 118.2,309.5 119.2,309.5 120.2,309.5 121.2,309.5 122.2,309.5 123.2,309.5 124.2,309.5 125.2,309.5 126.2,309.5 127.2,309.5 128.2,309.5 129.2,309.5 130.2,309.5 131.2,309.5 132.2,309.5 133.2,309.5 134.2,309.5 135.2,309.5 136.2,309.5 137.2,309.5 138.2,309.4 139.2,309.4 140.2,309.4 141.2,309.4 142.2,309.4 143.2,309.4 144.2,309.4 145.2,309.4 146.2,309.4 147.2,309.4 148.2,309.4 149.2,309.3 150.2,309.3 151.2,309.3 152.2,309.2 153.2,309.2 154.2,309.1 155.2,309 156.2,308.9 157.2,308.8 158.2,308.6 159.2,308.4 160.2,308.2 161.2,308 162.2,307.6 163.2,307.3 164.2,306.9 165.2,306.4 166.2,305.9 167.2,305.3 168.2,304.6 169.2,303.9 170.2,303.1 171.2,302.3 172.2,301.5 173.2,300.6 174.2,299.7 175.2,298.8 176.2,297.9 177.2,297.1 178.2,296.2 179.2,295.5 180.2,294.8 181.2,294.2 182.2,293.7 183.2,293.4 184.2,293.1 185.2,293 186.2,293 187.2,293.2 188.2,293.5 189.2,293.9 190.2,294.4 191.2,295 192.2,295.7 193.2,296.5 194.2,297.3 195.2,298.2 196.2,299.1 197.2,300 198.2,300.9 199.2,301.7 200.2,302.6 201.2,303.4 202.2,304.1 203.2,304.8 204.2,305.4 205.2,306 206.2,306.5 207.2,306.9 208.2,307.3 209.2,307.6 210.2,307.9 211.2,308.1 212.2,308.3 213.2,308.5" fill="none" stroke="#2c2c8e" stroke-width="1.9" stroke-linejoin="round" stroke-linecap="round"/>
<path d="M34.2,309.8 35.2,309.8 36.2,309.8 37.2,309.8 38.2,309.8 39.2,309.8 40.2,309.8 41.2,309.8 42.2,309.8 43.2,309.8 44.2,309.8 45.2,309.8 46.2,309.8 47.2,309.8 48.2,309.7 49.2,309.7 50.2,309.7 51.2,309.7 52.2,309.7 53.2,309.7 54.2,309.7 55.2,309.7 56.2,309.7 57.2,309.7 58.2,309.7 59.2,309.7 60.2,309.7 61.2,309.7 62.2,309.7 63.2,309.7 64.2,309.7 65.2,309.7 66.2,309.7 67.2,309.7 68.2,309.7 69.2,309.7 70.2,309.7 71.2,309.7 72.2,309.7 73.2,309.7 74.2,309.7 75.2,309.7 76.2,309.7 77.2,309.7 78.2,309.7 79.2,309.6 80.2,309.6 81.2,309.6 82.2,309.6 83.2,309.6 84.2,309.6 85.2,309.6 86.2,309.6 87.2,309.6 88.2,309.6 89.2,309.6 90.2,309.6 91.2,309.6 92.2,309.6 93.2,309.6 94.2,309.6 95.2,309.6 96.2,309.6 97.2,309.6 98.2,309.6 99.2,309.6 100.2,309.6 101.2,309.6 102.2,309.6 103.2,309.6 104.2,309.6 105.2,309.6 106.2,309.6 107.2,309.6 108.2,309.6 109.2,309.5 110.2,309.5 111.2,309.5 112.2,309.5 113.2,309.5 114.2,309.5 115.2,309.5 116.2,309.5 117.2,309.5 118.2,309.5 119.2,309.5 120.2,309.5 121.2,309.5 122.2,309.5 123.2,309.5 124.2,309.5 125.2,309.5 126.2,309.5 127.2,309.5 128.2,309.5 129.2,309.5 130.2,309.5 131.2,309.5 132.2,309.5 133.2,309.5 134.2,309.5 135.2,309.5 136.2,309.5 137.2,309.5 138.2,309.5 139.2,309.4 140.2,309.4 141.2,309.4 142.2,309.4 143.2,309.4 144.2,309.4 145.2,309.4 146.2,309.4 147.2,309.4 148.2,309.4 149.2,309.4 150.2,309.4 151.2,309.4 152.2,309.4 153.2,309.4 154.2,309.4 155.2,309.4 156.2,309.4 157.2,309.4 158.2,309.4 159.2,309.4 160.2,309.4 161.2,309.4 162.2,309.4 163.2,309.4 164.2,309.4 165.2,309.4 166.2,309.4 167.2,309.4 168.2,309.4 169.2,309.3 170.2,309.3 171.2,309.3 172.2,309.3 173.2,309.3 174.2,309.3 175.2,309.3 176.2,309.3 177.2,309.3 178.2,309.3 179.2,309.3 180.2,309.3 181.2,309.3 182.2,309.3 183.2,309.3 184.2,309.3 185.2,309.3 186.2,309.3 187.2,309.3 188.2,309.3 189.2,309.3 190.2,309.3 191.2,309.3 192.2,309.3 193.2,309.3 194.2,309.3 195.2,309.3 196.2,309.3 197.2,309.3 198.2,309.3 199.2,309.2 200.2,309.2 201.2,309.2 202.2,309.2 203.2,309.2 204.2,309.2 205.2,309.2 206.2,309.2 207.2,309.2 208.2,309.2 209.2,309.2 210.2,309.2 211.2,309.2 212.2,309.2 213.2,309.2" fill="none" stroke="#94922c" stroke-width="1.9" stroke-linejoin="round" stroke-linecap="round"/>
<rect x="33.2" y="176.4" width="181" height="145.6" fill="none" stroke="#111" stroke-width="1.6"/>
<line x1="33.4" y1="322.0" x2="33.4" y2="324.5" stroke="#111" stroke-width="1"/>
<line x1="58.5" y1="322.0" x2="58.5" y2="324.5" stroke="#111" stroke-width="1"/>
<line x1="83.5" y1="322.0" x2="83.5" y2="324.5" stroke="#111" stroke-width="1"/>
<line x1="108.6" y1="322.0" x2="108.6" y2="324.5" stroke="#111" stroke-width="1"/>
<line x1="133.6" y1="322.0" x2="133.6" y2="324.5" stroke="#111" stroke-width="1"/>
<line x1="158.7" y1="322.0" x2="158.7" y2="324.5" stroke="#111" stroke-width="1"/>
<line x1="183.7" y1="322.0" x2="183.7" y2="324.5" stroke="#111" stroke-width="1"/>
<line x1="208.8" y1="322.0" x2="208.8" y2="324.5" stroke="#111" stroke-width="1"/>
<line x1="45.9" y1="322.0" x2="45.9" y2="323.5" stroke="#111" stroke-width="1"/>
<line x1="71" y1="322.0" x2="71" y2="323.5" stroke="#111" stroke-width="1"/>
<line x1="96" y1="322.0" x2="96" y2="323.5" stroke="#111" stroke-width="1"/>
<line x1="121.1" y1="322.0" x2="121.1" y2="323.5" stroke="#111" stroke-width="1"/>
<line x1="146.1" y1="322.0" x2="146.1" y2="323.5" stroke="#111" stroke-width="1"/>
<line x1="171.2" y1="322.0" x2="171.2" y2="323.5" stroke="#111" stroke-width="1"/>
<line x1="196.3" y1="322.0" x2="196.3" y2="323.5" stroke="#111" stroke-width="1"/>
<text transform="translate(33.4,337) scale(1.09,1)" font-size="11.5" text-anchor="middle">850</text>
<text transform="translate(58.5,337) scale(1.09,1)" font-size="11.5" text-anchor="middle">855</text>
<text transform="translate(83.5,337) scale(1.09,1)" font-size="11.5" text-anchor="middle">860</text>
<text transform="translate(108.6,337) scale(1.09,1)" font-size="11.5" text-anchor="middle">865</text>
<text transform="translate(133.6,337) scale(1.09,1)" font-size="11.5" text-anchor="middle">870</text>
<text transform="translate(158.7,337) scale(1.09,1)" font-size="11.5" text-anchor="middle">875</text>
<text transform="translate(183.7,337) scale(1.09,1)" font-size="11.5" text-anchor="middle">880</text>
<text transform="translate(208.8,337) scale(1.09,1)" font-size="11.5" text-anchor="middle">885</text>
<text transform="translate(81.6,346.4) scale(1.065,1)" font-size="11.5" text-anchor="start">Binding energy (eV)</text>
<text transform="translate(28.1,290.7) rotate(-90)" font-size="12">Intensity (a.u.)</text>
<text transform="translate(17.3,185.6) scale(1.0,1)" font-size="12.3" text-anchor="start">(c)</text>
<text transform="translate(34.8,186) scale(1.09,1)" font-size="9.5" text-anchor="start">Ni 2p</text>
<text transform="translate(71,199) scale(1.09,1)" font-size="9.3" text-anchor="start">2p<tspan dy="2.5" font-size="6.5">3/2</tspan></text>
<text transform="translate(38,219) scale(1.09,1)" font-size="9" text-anchor="start">Ni<tspan dy="-4.6" font-size="6.8">2+</tspan></text>
<text transform="translate(148,204.5) scale(1.09,1)" font-size="9.3" text-anchor="start">2p<tspan dy="2.5" font-size="6.5">1/2</tspan></text>
<text transform="translate(165,220) scale(1.09,1)" font-size="9" text-anchor="start">FeCoNi-OH</text>
<text transform="translate(35.5,263) scale(1.09,1)" font-size="9" text-anchor="start">Ni-S</text>
<text transform="translate(78.5,261) scale(1.09,1)" font-size="9" text-anchor="start">Ni<tspan dy="-4.6" font-size="6.8">3+</tspan></text>
<text transform="translate(125,268) scale(1.09,1)" font-size="8.5" text-anchor="start">Sat.</text>
<text transform="translate(170,282) scale(1.09,1)" font-size="9" text-anchor="start">FeCoNi-S<tspan dy="2.5" font-size="6.5">2</tspan></text>
<line x1="43" y1="207" x2="57.3" y2="195.2" stroke="#333" stroke-width="0.7"/>
<polygon points="60,193 58.3,196.4 56.3,194.1" fill="#111"/>
<line x1="42.5" y1="265" x2="45.4" y2="298.5" stroke="#333" stroke-width="0.7"/>
<polygon points="45.7,302 43.9,298.6 46.9,298.4" fill="#111"/>
<line x1="77.5" y1="264" x2="73.6" y2="284.6" stroke="#333" stroke-width="0.7"/>
<polygon points="73,288 72.2,284.3 75.1,284.8" fill="#111"/>
<line x1="126" y1="269" x2="103.7" y2="284" stroke="#333" stroke-width="0.7"/>
<polygon points="100.8,286 102.9,282.8 104.5,285.3" fill="#111"/>
<line x1="131.5" y1="269" x2="175.7" y2="284.8" stroke="#333" stroke-width="0.7"/>
<polygon points="179,286 175.2,286.2 176.2,283.4" fill="#111"/>
<path d="M240.2,316.8 240.8,316.8 241.4,316.4 242,316.7 242.6,316.8 243.2,316.6 243.8,317 244.4,317.4 245,316.8 245.6,317.3 246.2,318.3 246.8,317 247.4,317.9 248,315.7 248.6,316.3 249.2,317.5 249.8,316.8 250.4,316.2 251,316.9 251.6,316.3 252.2,316.3 252.8,315.4 253.4,315.7 254,315.6 254.6,314.7 255.2,313.1 255.8,314.6 256.4,316.6 257,311.7 257.6,312.9 258.2,313.2 258.8,313.2 259.4,313.5 260,312.9 260.6,312.6 261.2,312.1 261.8,309.6 262.4,309.5 263,308.4 263.6,308.5 264.2,307.1 264.8,305.8 265.4,307.7 266,305.1 266.6,304 267.2,304.8 267.8,302.3 268.4,302.5 269,301.9 269.6,300.4 270.2,299.6 270.8,301.7 271.4,301.2 272,301.1 272.6,302.5 273.2,301.2 273.8,303.8 274.4,301 275,300.3 275.6,303 276.2,304 276.8,305.5 277.4,304 278,304.5 278.6,305.1 279.2,307.8 279.8,304.4 280.4,306.6 281,306.6 281.6,306 282.2,306.8 282.8,307.5 283.4,306.8 284,307.8 284.6,308.6 285.2,308.8 285.8,307.9 286.4,308.2 287,308.6 287.6,309.4 288.2,309 288.8,310 289.4,309.5 290,307.8 290.6,310.3 291.2,308.9 291.8,310.1 292.4,309.8 293,310.8 293.6,310.2 294.2,310.4 294.8,309 295.4,311.9 296,310.9 296.6,310.7 297.2,312.4 297.8,311.9 298.4,311.8 299,312.2 299.6,312 300.2,311.2 300.8,311.2 301.4,313.4 302,313.7 302.6,313.4 303.2,313.4 303.8,314.2 304.4,314.5 305,314.1 305.6,314.8 306.2,314.8 306.8,313.7 307.4,315.1 308,313.6 308.6,312.6 309.2,315.4 309.8,314.6 310.4,316.8 311,314.1 311.6,316.2 312.2,315.2 312.8,315.8 313.4,314.7 314,317.9 314.6,315.6 315.2,317.8 315.8,316 316.4,315 317,315.5 317.6,317.5 318.2,315.8 318.8,316.5 319.4,317.8 320,317.5 320.6,315.7 321.2,316.4 321.8,318.1 322.4,316.3 323,317.6 323.6,317 324.2,315.7 324.8,317.2 325.4,316.4 326,317.1 326.6,316.3 327.2,317.6 327.8,317 328.4,317.9 329,316.1 329.6,316.9 330.2,318 330.8,318.2 331.4,318 332,317.9 332.6,316.5 333.2,317.5 333.8,317.7 334.4,317.4 335,317.8 335.6,316.7 336.2,317.9 336.8,316.9 337.4,316.4 338,315.8 338.6,318.1 339.2,316 339.8,316.1 340.4,316.5 341,317.7 341.6,317.6 342.2,316.6 342.8,316.1 343.4,316.3 344,316.2 344.6,316.1 345.2,316.2 345.8,315.4 346.4,315.4 347,315.2 347.6,314.7 348.2,314.1 348.8,313.1 349.4,312.4 350,311.8" fill="none" stroke="#6a6a6a" stroke-width="1.4" stroke-linejoin="round" stroke-linecap="round"/>
<path d="M362.6,248 363.2,243.2 363.8,238.8 364.4,234.5 365,231.1 365.6,228 366.2,225.5 366.8,222.1 367.4,220.9 368,219.2 368.6,217.4 369.2,216.7 369.8,216.4 370.4,216.4 371,216.8 371.6,218 372.2,219.6 372.8,220.1 373.4,223 374,225.2 374.6,227.1 375.2,229.4 375.8,230.4 376.4,232.7 377,235.6 377.6,237.2 378.2,239.4 378.8,240.8 379.4,242.6 380,243.5" fill="none" stroke="#6a6a6a" stroke-width="1.4" stroke-linejoin="round" stroke-linecap="round"/>
<path d="M255.8,315.6 256.8,315.1 257.8,314.6 258.8,313.9 259.8,313.1 260.8,312.1 261.8,311.1 262.8,310 263.8,308.8 264.8,307.6 265.8,306.4 266.8,305.3 267.8,304.3 268.8,303.6 269.8,303 270.8,302.7 271.8,302.6 272.8,302.8 273.8,303.1 274.8,303.6 275.8,304.3 276.8,304.9 277.8,305.6 278.8,306.3 279.8,306.9 280.8,307.4 281.8,307.9 282.8,308.3 283.8,308.6 284.8,308.9 285.8,309.2 286.8,309.4 287.8,309.6 288.8,309.8 289.8,310.1 290.8,310.3 291.8,310.5" fill="none" stroke="#e8312f" stroke-width="2.2" stroke-linejoin="round" stroke-linecap="round"/>
<path d="M362.8,246.8 363.8,239.7 364.8,233.3 365.8,227.8 366.8,223.2 367.8,220 368.8,218 369.8,217.3 370.8,217.8 371.8,219.4 372.8,221.8 373.8,224.9 374.8,228.3 375.8,231.8 376.8,235.3 377.8,238.6 378.8,241.6 379.8,244.3 380.8,246.6 381.8,248.5 382.8,250.2 383.8,251.7 384.8,253.2 385.8,254.8 386.8,256.7 387.8,259.1 388.8,262 389.8,265.6 390.8,269.7" fill="none" stroke="#e8312f" stroke-width="2.2" stroke-linejoin="round" stroke-linecap="round"/>
<path d="M237.8,318.1 238.8,318.1 239.8,318.1 240.8,318.1 241.8,318.1 242.8,318.1 243.8,318.1 244.8,318.1 245.8,318.1 246.8,318.1 247.8,318.1 248.8,318.1 249.8,318.1 250.8,318.1 251.8,318.1 252.8,318.1 253.8,318.1 254.8,318.1 255.8,318.1 256.8,318.1 257.8,318.1 258.8,318.1 259.8,318.1 260.8,318.1 261.8,318.1 262.8,318.1 263.8,318.1 264.8,318.1 265.8,318.1 266.8,318.1 267.8,318.1 268.8,318.1 269.8,318.1 270.8,318.1 271.8,318.1 272.8,318.1 273.8,318.1 274.8,318.1 275.8,318.1 276.8,318.1 277.8,318.1 278.8,318.1 279.8,318.1 280.8,318.1 281.8,318.1 282.8,318.1 283.8,318.1 284.8,318.1 285.8,318.1 286.8,318.1 287.8,318.1 288.8,318.1 289.8,318.1 290.8,318.1 291.8,318.1 292.8,318.1 293.8,318.1 294.8,318.1 295.8,318.1 296.8,318.1 297.8,318.1 298.8,318.1 299.8,318.1 300.8,318.1 301.8,318.1 302.8,318.1 303.8,318.1 304.8,318.1 305.8,318.1 306.8,318.1 307.8,318.1 308.8,318.1 309.8,318.1 310.8,318.1 311.8,318.1 312.8,318.1 313.8,318.1 314.8,318.1 315.8,318.1 316.8,318.1 317.8,318.1 318.8,318.1 319.8,318.1 320.8,318.1 321.8,318.1 322.8,318.1 323.8,318.1 324.8,318.1 325.8,318.1 326.8,318.1 327.8,318.1 328.8,318.1 329.8,318.1 330.8,318.1 331.8,318.1 332.8,318.1 333.8,318.1 334.8,318.1 335.8,318.1 336.8,318.1 337.8,318.1 338.8,318.1 339.8,318.1" fill="none" stroke="#7b52bb" stroke-width="1.9" stroke-linejoin="round" stroke-linecap="round"/>
<path d="M330.8,316.4 331.8,316.4 332.8,316.4 333.8,316.4 334.8,316.4 335.8,316.4 336.8,316.4 337.8,316.4 338.8,316.3 339.8,316.3 340.8,316.2 341.8,316.1 342.8,316 343.8,315.7 344.8,315.4 345.8,315 346.8,314.4 347.8,313.6 348.8,312.5 349.8,311.1 350.8,309.3 351.8,307.1 352.8,304.3 353.8,300.9 354.8,296.9 355.8,292.3 356.8,287 357.8,281.1 358.8,274.7 359.8,267.9 360.8,260.8 361.8,253.7 362.8,246.8 363.8,240.3 364.8,234.5 365.8,229.6 366.8,225.9 367.8,223.5 368.8,222.4 369.8,222.9 370.8,224.7 371.8,228 372.8,232.4 373.8,237.9 374.8,244.1 375.8,250.9 376.8,258 377.8,265.1 378.8,272 379.8,278.6 380.8,284.7 381.8,290.3 382.8,295.2 383.8,299.4 384.8,303 385.8,306 386.8,308.5 387.8,310.5 388.8,312 389.8,313.2 390.8,314.1 391.8,314.8 392.8,315.3 393.8,315.6 394.8,315.9 395.8,316.1 396.8,316.2 397.8,316.3 398.8,316.3 399.8,316.3 400.8,316.4 401.8,316.4 402.8,316.4 403.8,316.4 404.8,316.4 405.8,316.4 406.8,316.4 407.8,316.4 408.8,316.4 409.8,316.4 410.8,316.4 411.8,316.4 412.8,316.4 413.8,316.4 414.8,316.4 415.8,316.4 416.8,316.4 417.8,316.4 418.8,316.4 419.8,316.4 420.8,316.4 421.8,316.4" fill="none" stroke="#7b52bb" stroke-width="1.9" stroke-linejoin="round" stroke-linecap="round"/>
<path d="M330.8,316.4 331.8,316.4 332.8,316.4 333.8,316.4 334.8,316.4 335.8,316.4 336.8,316.4 337.8,316.4 338.8,316.4 339.8,316.4 340.8,316.4 341.8,316.4 342.8,316.4 343.8,316.4 344.8,316.4 345.8,316.4 346.8,316.4 347.8,316.4 348.8,316.4 349.8,316.4 350.8,316.4 351.8,316.4 352.8,316.4 353.8,316.4 354.8,316.4 355.8,316.4 356.8,316.4 357.8,316.4 358.8,316.4 359.8,316.4 360.8,316.4 361.8,316.4 362.8,316.4 363.8,316.3 364.8,316.3 365.8,316.2 366.8,316.1 367.8,316 368.8,315.7 369.8,315.3 370.8,314.7 371.8,314 372.8,312.9 373.8,311.4 374.8,309.6 375.8,307.2 376.8,304.3 377.8,300.9 378.8,297 379.8,292.7 380.8,288.1 381.8,283.4 382.8,278.8 383.8,274.6 384.8,271 385.8,268.2 386.8,266.5 387.8,265.9 388.8,266.5 389.8,268.2 390.8,271 391.8,274.6 392.8,278.8 393.8,283.4 394.8,288.1 395.8,292.7 396.8,297 397.8,300.9 398.8,304.3 399.8,307.2 400.8,309.6 401.8,311.4 402.8,312.9 403.8,314 404.8,314.7 405.8,315.3 406.8,315.7 407.8,316 408.8,316.1 409.8,316.2 410.8,316.3 411.8,316.3 412.8,316.4 413.8,316.4 414.8,316.4 415.8,316.4 416.8,316.4 417.8,316.4 418.8,316.4 419.8,316.4 420.8,316.4 421.8,316.4" fill="none" stroke="#3e52b8" stroke-width="1.9" stroke-linejoin="round" stroke-linecap="round"/>
<path d="M240.8,318.1 241.8,318.1 242.8,318.1 243.8,318.1 244.8,318.1 245.8,318.1 246.8,318.1 247.8,318.1 248.8,318.1 249.8,318.1 250.8,318 251.8,318 252.8,317.9 253.8,317.8 254.8,317.7 255.8,317.5 256.8,317.2 257.8,316.9 258.8,316.5 259.8,315.9 260.8,315.3 261.8,314.5 262.8,313.7 263.8,312.8 264.8,311.9 265.8,311 266.8,310.3 267.8,309.6 268.8,309.2 269.8,308.9 270.8,308.9 271.8,309.2 272.8,309.6 273.8,310.3 274.8,311 275.8,311.9 276.8,312.8 277.8,313.7 278.8,314.5 279.8,315.3 280.8,315.9 281.8,316.5 282.8,316.9 283.8,317.2 284.8,317.5 285.8,317.7 286.8,317.8 287.8,317.9 288.8,318 289.8,318 290.8,318.1 291.8,318.1 292.8,318.1 293.8,318.1 294.8,318.1 295.8,318.1 296.8,318.1 297.8,318.1 298.8,318.1 299.8,318.1 300.8,318.1 301.8,318.1 302.8,318.1 303.8,318.1 304.8,318.1 305.8,318.1 306.8,318.1 307.8,318.1 308.8,318.1 309.8,318.1 310.8,318.1 311.8,318.1 312.8,318.1 313.8,318.1 314.8,318.1 315.8,318.1 316.8,318.1 317.8,318.1 318.8,318.1 319.8,318.1" fill="none" stroke="#94922c" stroke-width="1.9" stroke-linejoin="round" stroke-linecap="round"/>
<path d="M237.8,318.6 238.8,318.6 239.8,318.5 240.8,318.5 241.8,318.4 242.8,318.3 243.8,318.3 244.8,318.2 245.8,318.1 246.8,318 247.8,317.8 248.8,317.7 249.8,317.6 250.8,317.4 251.8,317.3 252.8,317.1 253.8,316.9 254.8,316.7 255.8,316.5 256.8,316.2 257.8,316 258.8,315.7 259.8,315.4 260.8,315.1 261.8,314.8 262.8,314.5 263.8,314.2 264.8,313.8 265.8,313.5 266.8,313.1 267.8,312.8 268.8,312.4 269.8,312.1 270.8,311.7 271.8,311.4 272.8,311.1 273.8,310.8 274.8,310.5 275.8,310.2 276.8,310 277.8,309.8 278.8,309.6 279.8,309.4 280.8,309.3 281.8,309.2 282.8,309.1 283.8,309.1 284.8,309.1 285.8,309.1 286.8,309.2 287.8,309.2 288.8,309.4 289.8,309.5 290.8,309.7 291.8,309.9 292.8,310.1 293.8,310.4 294.8,310.6 295.8,310.9 296.8,311.2 297.8,311.5 298.8,311.8 299.8,312 300.8,312.3 301.8,312.6 302.8,312.9 303.8,313.2 304.8,313.4 305.8,313.7 306.8,313.9 307.8,314.2 308.8,314.4 309.8,314.6 310.8,314.8 311.8,315 312.8,315.1 313.8,315.3 314.8,315.4 315.8,315.5 316.8,315.6 317.8,315.7 318.8,315.8 319.8,315.8 320.8,315.9 321.8,316 322.8,316 323.8,316 324.8,316.1 325.8,316.1 326.8,316.1 327.8,316.1 328.8,316.1 329.8,316.1 330.8,316.1 331.8,316.1 332.8,316.2 333.8,316.2 334.8,316.2 335.8,316.2 336.8,316.2 337.8,316.2 338.8,316.2 339.8,316.2 340.8,316.2 341.8,316.2 342.8,316.2 343.8,316.2 344.8,316.2 345.8,316.2 346.8,316.2 347.8,316.2 348.8,316.2 349.8,316.2 350.8,316.2 351.8,316.2 352.8,316.2 353.8,316.2 354.8,316.2 355.8,316.2 356.8,316.2 357.8,316.2 358.8,316.2 359.8,316.2 360.8,316.2 361.8,316.1 362.8,316.1 363.8,316.1 364.8,316.1 365.8,316.1 366.8,316.1 367.8,316.1 368.8,316.1 369.8,316.1 370.8,316.1 371.8,316.1 372.8,316.1 373.8,316.1 374.8,316.1 375.8,316.1 376.8,316.1 377.8,316.1 378.8,316.1 379.8,316.1 380.8,316.1 381.8,316.1 382.8,316.1 383.8,316.1 384.8,316.1 385.8,316.1 386.8,316.1 387.8,316.1 388.8,316.1 389.8,316.1 390.8,316.1 391.8,316.1 392.8,316.1 393.8,316.1 394.8,316.1 395.8,316.1 396.8,316.1 397.8,316.1 398.8,316.1 399.8,316.1 400.8,316.1 401.8,316.1 402.8,316.1 403.8,316.1 404.8,316.1 405.8,316.1 406.8,316.1 407.8,316.1 408.8,316.1 409.8,316.1 410.8,316.1 411.8,316.1 412.8,316.1 413.8,316.1 414.8,316.1 415.8,316.1 416.8,316.1 417.8,316.1 418.8,316.1 419.8,316.1 420.8,316.1 421.8,316.1" fill="none" stroke="#1f9a3c" stroke-width="1.9" stroke-linejoin="round" stroke-linecap="round"/>
<rect x="236.8" y="176.0" width="186.9" height="147" fill="none" stroke="#111" stroke-width="1.6"/>
<line x1="237" y1="323.0" x2="237" y2="325.5" stroke="#111" stroke-width="1"/>
<line x1="268.1" y1="323.0" x2="268.1" y2="325.5" stroke="#111" stroke-width="1"/>
<line x1="299.2" y1="323.0" x2="299.2" y2="325.5" stroke="#111" stroke-width="1"/>
<line x1="330.4" y1="323.0" x2="330.4" y2="325.5" stroke="#111" stroke-width="1"/>
<line x1="361.5" y1="323.0" x2="361.5" y2="325.5" stroke="#111" stroke-width="1"/>
<line x1="392.6" y1="323.0" x2="392.6" y2="325.5" stroke="#111" stroke-width="1"/>
<line x1="423.7" y1="323.0" x2="423.7" y2="325.5" stroke="#111" stroke-width="1"/>
<line x1="252.6" y1="323.0" x2="252.6" y2="324.5" stroke="#111" stroke-width="1"/>
<line x1="283.7" y1="323.0" x2="283.7" y2="324.5" stroke="#111" stroke-width="1"/>
<line x1="314.8" y1="323.0" x2="314.8" y2="324.5" stroke="#111" stroke-width="1"/>
<line x1="345.9" y1="323.0" x2="345.9" y2="324.5" stroke="#111" stroke-width="1"/>
<line x1="377" y1="323.0" x2="377" y2="324.5" stroke="#111" stroke-width="1"/>
<line x1="408.2" y1="323.0" x2="408.2" y2="324.5" stroke="#111" stroke-width="1"/>
<text transform="translate(237,338) scale(1.09,1)" font-size="11.5" text-anchor="middle">160</text>
<text transform="translate(268.1,338) scale(1.09,1)" font-size="11.5" text-anchor="middle">162</text>
<text transform="translate(299.2,338) scale(1.09,1)" font-size="11.5" text-anchor="middle">164</text>
<text transform="translate(330.4,338) scale(1.09,1)" font-size="11.5" text-anchor="middle">166</text>
<text transform="translate(361.5,338) scale(1.09,1)" font-size="11.5" text-anchor="middle">168</text>
<text transform="translate(392.6,338) scale(1.09,1)" font-size="11.5" text-anchor="middle">170</text>
<text transform="translate(423.7,338) scale(1.09,1)" font-size="11.5" text-anchor="middle">172</text>
<text transform="translate(285.5,347.3) scale(1.115,1)" font-size="11.5" text-anchor="start">Binding energy (eV)</text>
<text transform="translate(232.1,292.8) rotate(-90)" font-size="12">Intensity (a.u.)</text>
<text transform="translate(219.8,186) scale(1.05,1)" font-size="12" text-anchor="start">(d)</text>
<text transform="translate(239.8,186.5) scale(1.04,1)" font-size="9.6" text-anchor="start">S 2p</text>
<text transform="translate(256.5,294.3) scale(1.09,1)" font-size="9.3" text-anchor="start">S<tspan dy="-4.3" font-size="6.5">2-</tspan><tspan dy="4.3"> </tspan>2p<tspan dy="2.5" font-size="6.5">3/2</tspan></text>
<text transform="translate(306.5,275) scale(1.09,1)" font-size="9.3" text-anchor="start">S<tspan dy="-4.3" font-size="6.5">2-</tspan><tspan dy="4.3">2p</tspan><tspan dy="2.5" font-size="6.5">1/2</tspan></text>
<text transform="translate(392.7,229) scale(1.09,1)" font-size="9" text-anchor="start">S-O</text>
<line x1="247.5" y1="291" x2="259.6" y2="304.2" stroke="#333" stroke-width="0.7"/>
<polygon points="262,306.8 258.5,305.2 260.7,303.2" fill="#111"/>
<line x1="310.7" y1="277.4" x2="296.6" y2="302.7" stroke="#333" stroke-width="0.7"/>
<polygon points="294.9,305.8 295.3,302 297.9,303.5" fill="#111"/>
<line x1="391.6" y1="225.6" x2="377.3" y2="223.4" stroke="#333" stroke-width="0.7"/>
<polygon points="373.8,222.9 377.5,221.9 377,224.9" fill="#111"/>
<line x1="395" y1="229.6" x2="390.5" y2="256" stroke="#333" stroke-width="0.7"/>
<polygon points="389.9,259.5 389,255.8 392,256.3" fill="#111"/>
</svg></body></html>
